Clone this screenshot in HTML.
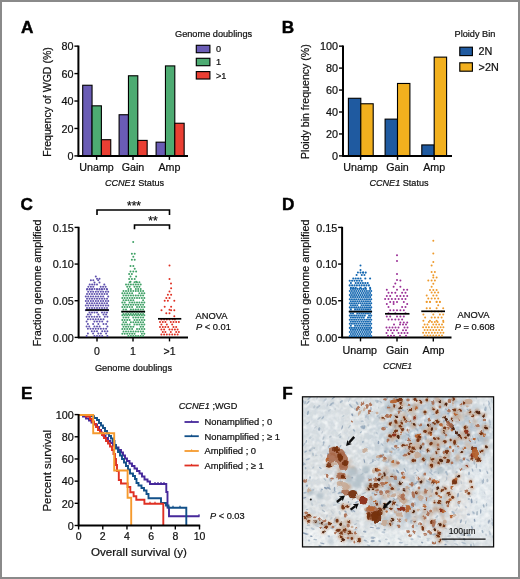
<!DOCTYPE html>
<html lang="en"><head><meta charset="utf-8"><title>Figure</title>
<style>html,body{margin:0;padding:0;background:#fff}svg{display:block}text{font-family:"Liberation Sans",Arial,Helvetica,sans-serif;stroke:#111;stroke-width:.22px}text.L{stroke:#000;stroke-width:.45px}</style></head>
<body>
<svg width="520" height="579" viewBox="0 0 520 579" font-family='"Liberation Sans", Arial, Helvetica, sans-serif'>
<rect x="0" y="0" width="520" height="579" fill="#fff"/>
<text x="21.00" y="33.30" font-size="17.2" text-anchor="start" font-weight="bold" font-style="normal" fill="#000" class="L">A</text>
<rect x="82.70" y="85.25" width="9.35" height="70.65" fill="#6a5cb5" stroke="#000" stroke-width="1.1"/>
<rect x="92.05" y="105.83" width="9.35" height="50.07" fill="#4dab72" stroke="#000" stroke-width="1.1"/>
<rect x="101.40" y="139.71" width="9.35" height="16.19" fill="#ea3f33" stroke="#000" stroke-width="1.1"/>
<rect x="119.10" y="114.74" width="9.35" height="41.16" fill="#6a5cb5" stroke="#000" stroke-width="1.1"/>
<rect x="128.45" y="75.78" width="9.35" height="80.12" fill="#4dab72" stroke="#000" stroke-width="1.1"/>
<rect x="137.80" y="140.40" width="9.35" height="15.50" fill="#ea3f33" stroke="#000" stroke-width="1.1"/>
<rect x="156.10" y="142.18" width="9.35" height="13.72" fill="#6a5cb5" stroke="#000" stroke-width="1.1"/>
<rect x="165.45" y="65.91" width="9.35" height="89.99" fill="#4dab72" stroke="#000" stroke-width="1.1"/>
<rect x="174.80" y="123.25" width="9.35" height="32.65" fill="#ea3f33" stroke="#000" stroke-width="1.1"/>
<line x1="78.40" y1="45.55" x2="78.40" y2="156.60" stroke="#000" stroke-width="2.0" stroke-linecap="butt"/>
<line x1="77.70" y1="155.90" x2="188.00" y2="155.90" stroke="#000" stroke-width="2.0" stroke-linecap="butt"/>
<line x1="74.40" y1="155.90" x2="78.40" y2="155.90" stroke="#000" stroke-width="1.4" stroke-linecap="butt"/>
<text x="73.50" y="160.10" font-size="10.8" text-anchor="end" font-weight="normal" font-style="normal" fill="#111" >0</text>
<line x1="74.40" y1="128.46" x2="78.40" y2="128.46" stroke="#000" stroke-width="1.4" stroke-linecap="butt"/>
<text x="73.50" y="132.66" font-size="10.8" text-anchor="end" font-weight="normal" font-style="normal" fill="#111" >20</text>
<line x1="74.40" y1="101.03" x2="78.40" y2="101.03" stroke="#000" stroke-width="1.4" stroke-linecap="butt"/>
<text x="73.50" y="105.23" font-size="10.8" text-anchor="end" font-weight="normal" font-style="normal" fill="#111" >40</text>
<line x1="74.40" y1="73.59" x2="78.40" y2="73.59" stroke="#000" stroke-width="1.4" stroke-linecap="butt"/>
<text x="73.50" y="77.79" font-size="10.8" text-anchor="end" font-weight="normal" font-style="normal" fill="#111" >60</text>
<line x1="74.40" y1="46.15" x2="78.40" y2="46.15" stroke="#000" stroke-width="1.4" stroke-linecap="butt"/>
<text x="73.50" y="50.35" font-size="10.8" text-anchor="end" font-weight="normal" font-style="normal" fill="#111" >80</text>
<line x1="96.60" y1="155.90" x2="96.60" y2="159.90" stroke="#000" stroke-width="1.4" stroke-linecap="butt"/>
<text x="96.60" y="170.60" font-size="10.7" text-anchor="middle" font-weight="normal" font-style="normal" fill="#111" >Unamp</text>
<line x1="133.00" y1="155.90" x2="133.00" y2="159.90" stroke="#000" stroke-width="1.4" stroke-linecap="butt"/>
<text x="133.00" y="170.60" font-size="10.7" text-anchor="middle" font-weight="normal" font-style="normal" fill="#111" >Gain</text>
<line x1="169.40" y1="155.90" x2="169.40" y2="159.90" stroke="#000" stroke-width="1.4" stroke-linecap="butt"/>
<text x="169.40" y="170.60" font-size="10.7" text-anchor="middle" font-weight="normal" font-style="normal" fill="#111" >Amp</text>
<text x="134.5" y="185.7" font-size="9.1" text-anchor="middle" fill="#111"><tspan font-style="italic">CCNE1</tspan> Status</text>
<text transform="translate(50.80,102.00) rotate(-90)" font-size="10.7" text-anchor="middle" fill="#111" textLength="109.6" lengthAdjust="spacingAndGlyphs">Frequency of WGD (%)</text>
<text x="175.00" y="37.00" font-size="9.2" text-anchor="start" font-weight="normal" font-style="normal" fill="#111" >Genome doublings</text>
<rect x="196.30" y="45.30" width="13.60" height="7.40" fill="#6a5cb5" stroke="#000" stroke-width="1.15"/>
<text x="216.00" y="52.30" font-size="9.2" text-anchor="start" font-weight="normal" font-style="normal" fill="#111" >0</text>
<rect x="196.30" y="58.30" width="13.60" height="7.40" fill="#4dab72" stroke="#000" stroke-width="1.15"/>
<text x="216.00" y="65.30" font-size="9.2" text-anchor="start" font-weight="normal" font-style="normal" fill="#111" >1</text>
<rect x="196.30" y="71.60" width="13.60" height="7.40" fill="#ea3f33" stroke="#000" stroke-width="1.15"/>
<text x="216.00" y="78.60" font-size="9.2" text-anchor="start" font-weight="normal" font-style="normal" fill="#111" >&gt;1</text>
<text x="281.70" y="33.10" font-size="17.2" text-anchor="start" font-weight="bold" font-style="normal" fill="#000" class="L">B</text>
<rect x="348.40" y="98.28" width="12.40" height="57.62" fill="#1f5aa0" stroke="#000" stroke-width="1.1"/>
<rect x="360.80" y="103.77" width="12.40" height="52.13" fill="#f2b01e" stroke="#000" stroke-width="1.1"/>
<rect x="385.10" y="119.13" width="12.40" height="36.77" fill="#1f5aa0" stroke="#000" stroke-width="1.1"/>
<rect x="397.50" y="83.47" width="12.40" height="72.43" fill="#f2b01e" stroke="#000" stroke-width="1.1"/>
<rect x="421.80" y="144.93" width="12.40" height="10.97" fill="#1f5aa0" stroke="#000" stroke-width="1.1"/>
<rect x="434.20" y="57.13" width="12.40" height="98.77" fill="#f2b01e" stroke="#000" stroke-width="1.1"/>
<line x1="343.00" y1="45.55" x2="343.00" y2="156.60" stroke="#000" stroke-width="2.0" stroke-linecap="butt"/>
<line x1="342.30" y1="155.90" x2="452.00" y2="155.90" stroke="#000" stroke-width="2.0" stroke-linecap="butt"/>
<line x1="339.00" y1="155.90" x2="343.00" y2="155.90" stroke="#000" stroke-width="1.4" stroke-linecap="butt"/>
<text x="338.10" y="160.10" font-size="10.8" text-anchor="end" font-weight="normal" font-style="normal" fill="#111" >0</text>
<line x1="339.00" y1="133.95" x2="343.00" y2="133.95" stroke="#000" stroke-width="1.4" stroke-linecap="butt"/>
<text x="338.10" y="138.15" font-size="10.8" text-anchor="end" font-weight="normal" font-style="normal" fill="#111" >20</text>
<line x1="339.00" y1="112.00" x2="343.00" y2="112.00" stroke="#000" stroke-width="1.4" stroke-linecap="butt"/>
<text x="338.10" y="116.20" font-size="10.8" text-anchor="end" font-weight="normal" font-style="normal" fill="#111" >40</text>
<line x1="339.00" y1="90.05" x2="343.00" y2="90.05" stroke="#000" stroke-width="1.4" stroke-linecap="butt"/>
<text x="338.10" y="94.25" font-size="10.8" text-anchor="end" font-weight="normal" font-style="normal" fill="#111" >60</text>
<line x1="339.00" y1="68.10" x2="343.00" y2="68.10" stroke="#000" stroke-width="1.4" stroke-linecap="butt"/>
<text x="338.10" y="72.30" font-size="10.8" text-anchor="end" font-weight="normal" font-style="normal" fill="#111" >80</text>
<line x1="339.00" y1="46.15" x2="343.00" y2="46.15" stroke="#000" stroke-width="1.4" stroke-linecap="butt"/>
<text x="338.10" y="50.35" font-size="10.8" text-anchor="end" font-weight="normal" font-style="normal" fill="#111" >100</text>
<line x1="360.60" y1="155.90" x2="360.60" y2="159.90" stroke="#000" stroke-width="1.4" stroke-linecap="butt"/>
<text x="360.60" y="170.60" font-size="10.7" text-anchor="middle" font-weight="normal" font-style="normal" fill="#111" >Unamp</text>
<line x1="397.50" y1="155.90" x2="397.50" y2="159.90" stroke="#000" stroke-width="1.4" stroke-linecap="butt"/>
<text x="397.50" y="170.60" font-size="10.7" text-anchor="middle" font-weight="normal" font-style="normal" fill="#111" >Gain</text>
<line x1="434.20" y1="155.90" x2="434.20" y2="159.90" stroke="#000" stroke-width="1.4" stroke-linecap="butt"/>
<text x="434.20" y="170.60" font-size="10.7" text-anchor="middle" font-weight="normal" font-style="normal" fill="#111" >Amp</text>
<text x="399" y="185.7" font-size="9.1" text-anchor="middle" fill="#111"><tspan font-style="italic">CCNE1</tspan> Status</text>
<text transform="translate(308.60,101.60) rotate(-90)" font-size="10.6" text-anchor="middle" fill="#111" textLength="114.8" lengthAdjust="spacingAndGlyphs">Ploidy bin frequency (%)</text>
<text x="454.50" y="37.00" font-size="9.2" text-anchor="start" font-weight="normal" font-style="normal" fill="#111" >Ploidy Bin</text>
<rect x="459.80" y="47.20" width="12.60" height="8.40" fill="#1f5aa0" stroke="#000" stroke-width="1.15"/>
<text x="478.60" y="55.40" font-size="10.8" text-anchor="start" font-weight="normal" font-style="normal" fill="#111" >2N</text>
<rect x="459.80" y="62.80" width="12.60" height="8.40" fill="#f2b01e" stroke="#000" stroke-width="1.15"/>
<text x="478.60" y="71.00" font-size="10.8" text-anchor="start" font-weight="normal" font-style="normal" fill="#111" >&gt;2N</text>
<text x="20.60" y="210.20" font-size="17.2" text-anchor="start" font-weight="bold" font-style="normal" fill="#000" class="L">C</text>
<line x1="78.60" y1="226.80" x2="78.60" y2="338.10" stroke="#000" stroke-width="2.0" stroke-linecap="butt"/>
<line x1="77.90" y1="337.40" x2="188.00" y2="337.40" stroke="#000" stroke-width="2.0" stroke-linecap="butt"/>
<line x1="74.60" y1="337.40" x2="78.60" y2="337.40" stroke="#000" stroke-width="1.4" stroke-linecap="butt"/>
<text x="73.70" y="341.60" font-size="10.8" text-anchor="end" font-weight="normal" font-style="normal" fill="#111" >0.00</text>
<line x1="74.60" y1="300.73" x2="78.60" y2="300.73" stroke="#000" stroke-width="1.4" stroke-linecap="butt"/>
<text x="73.70" y="304.93" font-size="10.8" text-anchor="end" font-weight="normal" font-style="normal" fill="#111" >0.05</text>
<line x1="74.60" y1="264.07" x2="78.60" y2="264.07" stroke="#000" stroke-width="1.4" stroke-linecap="butt"/>
<text x="73.70" y="268.27" font-size="10.8" text-anchor="end" font-weight="normal" font-style="normal" fill="#111" >0.10</text>
<line x1="74.60" y1="227.40" x2="78.60" y2="227.40" stroke="#000" stroke-width="1.4" stroke-linecap="butt"/>
<text x="73.70" y="231.60" font-size="10.8" text-anchor="end" font-weight="normal" font-style="normal" fill="#111" >0.15</text>
<g fill="#5e50ad">
<circle cx="86.6" cy="336.0" r="1.0"/><circle cx="94.4" cy="336.0" r="1.0"/><circle cx="97.0" cy="336.0" r="1.0"/><circle cx="99.6" cy="336.0" r="1.0"/><circle cx="102.2" cy="336.0" r="1.0"/><circle cx="107.4" cy="336.0" r="1.0"/><circle cx="87.9" cy="333.6" r="1.0"/><circle cx="93.1" cy="333.6" r="1.0"/><circle cx="98.3" cy="333.6" r="1.0"/><circle cx="100.9" cy="333.6" r="1.0"/><circle cx="106.1" cy="333.6" r="1.0"/><circle cx="91.8" cy="331.2" r="1.0"/><circle cx="94.4" cy="331.2" r="1.0"/><circle cx="97.0" cy="331.2" r="1.0"/><circle cx="102.2" cy="331.2" r="1.0"/><circle cx="104.8" cy="331.2" r="1.0"/><circle cx="107.4" cy="331.2" r="1.0"/><circle cx="87.9" cy="328.8" r="1.0"/><circle cx="90.5" cy="328.8" r="1.0"/><circle cx="93.1" cy="328.8" r="1.0"/><circle cx="95.7" cy="328.8" r="1.0"/><circle cx="98.3" cy="328.8" r="1.0"/><circle cx="100.9" cy="328.8" r="1.0"/><circle cx="103.5" cy="328.8" r="1.0"/><circle cx="106.1" cy="328.8" r="1.0"/><circle cx="86.6" cy="326.4" r="1.0"/><circle cx="89.2" cy="326.4" r="1.0"/><circle cx="94.4" cy="326.4" r="1.0"/><circle cx="97.0" cy="326.4" r="1.0"/><circle cx="99.6" cy="326.4" r="1.0"/><circle cx="107.4" cy="326.4" r="1.0"/><circle cx="87.9" cy="324.0" r="1.0"/><circle cx="93.1" cy="324.0" r="1.0"/><circle cx="98.3" cy="324.0" r="1.0"/><circle cx="103.5" cy="324.0" r="1.0"/><circle cx="106.1" cy="324.0" r="1.0"/><circle cx="86.6" cy="321.6" r="1.0"/><circle cx="94.4" cy="321.6" r="1.0"/><circle cx="97.0" cy="321.6" r="1.0"/><circle cx="99.6" cy="321.6" r="1.0"/><circle cx="102.2" cy="321.6" r="1.0"/><circle cx="107.4" cy="321.6" r="1.0"/><circle cx="87.9" cy="319.2" r="1.0"/><circle cx="90.5" cy="319.2" r="1.0"/><circle cx="93.1" cy="319.2" r="1.0"/><circle cx="95.7" cy="319.2" r="1.0"/><circle cx="98.3" cy="319.2" r="1.0"/><circle cx="100.9" cy="319.2" r="1.0"/><circle cx="103.5" cy="319.2" r="1.0"/><circle cx="86.6" cy="316.8" r="1.0"/><circle cx="89.2" cy="316.8" r="1.0"/><circle cx="91.8" cy="316.8" r="1.0"/><circle cx="94.4" cy="316.8" r="1.0"/><circle cx="97.0" cy="316.8" r="1.0"/><circle cx="99.6" cy="316.8" r="1.0"/><circle cx="104.8" cy="316.8" r="1.0"/><circle cx="107.4" cy="316.8" r="1.0"/><circle cx="87.9" cy="314.4" r="1.0"/><circle cx="90.5" cy="314.4" r="1.0"/><circle cx="98.3" cy="314.4" r="1.0"/><circle cx="103.5" cy="314.4" r="1.0"/><circle cx="106.1" cy="314.4" r="1.0"/><circle cx="89.5" cy="312.5" r="1.0"/><circle cx="92.0" cy="312.5" r="1.0"/><circle cx="94.5" cy="312.5" r="1.0"/><circle cx="97.0" cy="312.5" r="1.0"/><circle cx="102.0" cy="312.5" r="1.0"/><circle cx="104.5" cy="312.5" r="1.0"/><circle cx="107.0" cy="312.5" r="1.0"/><circle cx="85.8" cy="310.2" r="1.0"/><circle cx="88.2" cy="310.2" r="1.0"/><circle cx="90.8" cy="310.2" r="1.0"/><circle cx="93.2" cy="310.2" r="1.0"/><circle cx="95.8" cy="310.2" r="1.0"/><circle cx="98.2" cy="310.2" r="1.0"/><circle cx="100.8" cy="310.2" r="1.0"/><circle cx="103.2" cy="310.2" r="1.0"/><circle cx="105.8" cy="310.2" r="1.0"/><circle cx="108.2" cy="310.2" r="1.0"/><circle cx="87.0" cy="307.9" r="1.0"/><circle cx="89.5" cy="307.9" r="1.0"/><circle cx="92.0" cy="307.9" r="1.0"/><circle cx="94.5" cy="307.9" r="1.0"/><circle cx="97.0" cy="307.9" r="1.0"/><circle cx="99.5" cy="307.9" r="1.0"/><circle cx="102.0" cy="307.9" r="1.0"/><circle cx="104.5" cy="307.9" r="1.0"/><circle cx="107.0" cy="307.9" r="1.0"/><circle cx="85.8" cy="305.6" r="1.0"/><circle cx="88.2" cy="305.6" r="1.0"/><circle cx="90.8" cy="305.6" r="1.0"/><circle cx="93.2" cy="305.6" r="1.0"/><circle cx="95.8" cy="305.6" r="1.0"/><circle cx="98.2" cy="305.6" r="1.0"/><circle cx="100.8" cy="305.6" r="1.0"/><circle cx="103.2" cy="305.6" r="1.0"/><circle cx="105.8" cy="305.6" r="1.0"/><circle cx="108.2" cy="305.6" r="1.0"/><circle cx="87.0" cy="303.3" r="1.0"/><circle cx="89.5" cy="303.3" r="1.0"/><circle cx="92.0" cy="303.3" r="1.0"/><circle cx="94.5" cy="303.3" r="1.0"/><circle cx="97.0" cy="303.3" r="1.0"/><circle cx="99.5" cy="303.3" r="1.0"/><circle cx="102.0" cy="303.3" r="1.0"/><circle cx="104.5" cy="303.3" r="1.0"/><circle cx="107.0" cy="303.3" r="1.0"/><circle cx="85.8" cy="301.0" r="1.0"/><circle cx="88.2" cy="301.0" r="1.0"/><circle cx="90.8" cy="301.0" r="1.0"/><circle cx="93.2" cy="301.0" r="1.0"/><circle cx="95.8" cy="301.0" r="1.0"/><circle cx="98.2" cy="301.0" r="1.0"/><circle cx="100.8" cy="301.0" r="1.0"/><circle cx="103.2" cy="301.0" r="1.0"/><circle cx="105.8" cy="301.0" r="1.0"/><circle cx="108.2" cy="301.0" r="1.0"/><circle cx="87.0" cy="298.7" r="1.0"/><circle cx="89.5" cy="298.7" r="1.0"/><circle cx="92.0" cy="298.7" r="1.0"/><circle cx="94.5" cy="298.7" r="1.0"/><circle cx="97.0" cy="298.7" r="1.0"/><circle cx="99.5" cy="298.7" r="1.0"/><circle cx="102.0" cy="298.7" r="1.0"/><circle cx="104.5" cy="298.7" r="1.0"/><circle cx="107.0" cy="298.7" r="1.0"/><circle cx="85.8" cy="296.4" r="1.0"/><circle cx="88.2" cy="296.4" r="1.0"/><circle cx="90.8" cy="296.4" r="1.0"/><circle cx="93.2" cy="296.4" r="1.0"/><circle cx="95.8" cy="296.4" r="1.0"/><circle cx="98.2" cy="296.4" r="1.0"/><circle cx="100.8" cy="296.4" r="1.0"/><circle cx="103.2" cy="296.4" r="1.0"/><circle cx="108.2" cy="296.4" r="1.0"/><circle cx="87.0" cy="294.1" r="1.0"/><circle cx="89.5" cy="294.1" r="1.0"/><circle cx="92.0" cy="294.1" r="1.0"/><circle cx="94.5" cy="294.1" r="1.0"/><circle cx="97.0" cy="294.1" r="1.0"/><circle cx="99.5" cy="294.1" r="1.0"/><circle cx="102.0" cy="294.1" r="1.0"/><circle cx="104.5" cy="294.1" r="1.0"/><circle cx="107.0" cy="294.1" r="1.0"/><circle cx="88.2" cy="291.8" r="1.0"/><circle cx="90.8" cy="291.8" r="1.0"/><circle cx="93.2" cy="291.8" r="1.0"/><circle cx="95.8" cy="291.8" r="1.0"/><circle cx="98.2" cy="291.8" r="1.0"/><circle cx="100.8" cy="291.8" r="1.0"/><circle cx="103.2" cy="291.8" r="1.0"/><circle cx="105.8" cy="291.8" r="1.0"/><circle cx="108.2" cy="291.8" r="1.0"/><circle cx="87.0" cy="289.5" r="1.0"/><circle cx="89.5" cy="289.5" r="1.0"/><circle cx="92.0" cy="289.5" r="1.0"/><circle cx="97.0" cy="289.5" r="1.0"/><circle cx="99.5" cy="289.5" r="1.0"/><circle cx="102.0" cy="289.5" r="1.0"/><circle cx="107.0" cy="289.5" r="1.0"/><circle cx="87.2" cy="289.1" r="1.0"/><circle cx="89.7" cy="289.1" r="1.0"/><circle cx="92.1" cy="289.1" r="1.0"/><circle cx="94.5" cy="289.1" r="1.0"/><circle cx="97.0" cy="289.1" r="1.0"/><circle cx="99.5" cy="289.1" r="1.0"/><circle cx="101.9" cy="289.1" r="1.0"/><circle cx="104.3" cy="289.1" r="1.0"/><circle cx="106.8" cy="289.1" r="1.0"/><circle cx="88.4" cy="286.8" r="1.0"/><circle cx="90.9" cy="286.8" r="1.0"/><circle cx="93.3" cy="286.8" r="1.0"/><circle cx="100.7" cy="286.8" r="1.0"/><circle cx="103.1" cy="286.8" r="1.0"/><circle cx="105.6" cy="286.8" r="1.0"/><circle cx="89.7" cy="284.5" r="1.0"/><circle cx="92.1" cy="284.5" r="1.0"/><circle cx="94.5" cy="284.5" r="1.0"/><circle cx="97.0" cy="284.5" r="1.0"/><circle cx="104.3" cy="284.5" r="1.0"/><circle cx="94.5" cy="282.5" r="1.0"/><circle cx="99.5" cy="282.5" r="1.0"/><circle cx="90.9" cy="280.2" r="1.0"/><circle cx="93.3" cy="280.2" r="1.0"/><circle cx="98.2" cy="280.2" r="1.0"/><circle cx="97.0" cy="278.8" r="1.0"/><circle cx="99.5" cy="278.8" r="1.0"/><circle cx="95.8" cy="276.5" r="1.0"/>
</g>
<g fill="#3fa166">
<circle cx="128.4" cy="336.0" r="1.0"/><circle cx="130.9" cy="336.0" r="1.0"/><circle cx="133.3" cy="336.0" r="1.0"/><circle cx="135.8" cy="336.0" r="1.0"/><circle cx="138.2" cy="336.0" r="1.0"/><circle cx="140.7" cy="336.0" r="1.0"/><circle cx="143.1" cy="336.0" r="1.0"/><circle cx="122.3" cy="333.7" r="1.0"/><circle cx="124.7" cy="333.7" r="1.0"/><circle cx="127.2" cy="333.7" r="1.0"/><circle cx="129.6" cy="333.7" r="1.0"/><circle cx="132.1" cy="333.7" r="1.0"/><circle cx="134.5" cy="333.7" r="1.0"/><circle cx="141.9" cy="333.7" r="1.0"/><circle cx="144.3" cy="333.7" r="1.0"/><circle cx="123.5" cy="331.4" r="1.0"/><circle cx="126.0" cy="331.4" r="1.0"/><circle cx="128.4" cy="331.4" r="1.0"/><circle cx="130.9" cy="331.4" r="1.0"/><circle cx="133.3" cy="331.4" r="1.0"/><circle cx="135.8" cy="331.4" r="1.0"/><circle cx="138.2" cy="331.4" r="1.0"/><circle cx="140.7" cy="331.4" r="1.0"/><circle cx="143.1" cy="331.4" r="1.0"/><circle cx="122.3" cy="329.1" r="1.0"/><circle cx="124.7" cy="329.1" r="1.0"/><circle cx="127.2" cy="329.1" r="1.0"/><circle cx="129.6" cy="329.1" r="1.0"/><circle cx="132.1" cy="329.1" r="1.0"/><circle cx="137.0" cy="329.1" r="1.0"/><circle cx="139.4" cy="329.1" r="1.0"/><circle cx="141.9" cy="329.1" r="1.0"/><circle cx="144.3" cy="329.1" r="1.0"/><circle cx="123.5" cy="326.8" r="1.0"/><circle cx="126.0" cy="326.8" r="1.0"/><circle cx="128.4" cy="326.8" r="1.0"/><circle cx="130.9" cy="326.8" r="1.0"/><circle cx="133.3" cy="326.8" r="1.0"/><circle cx="140.7" cy="326.8" r="1.0"/><circle cx="143.1" cy="326.8" r="1.0"/><circle cx="122.3" cy="324.5" r="1.0"/><circle cx="124.7" cy="324.5" r="1.0"/><circle cx="127.2" cy="324.5" r="1.0"/><circle cx="129.6" cy="324.5" r="1.0"/><circle cx="134.5" cy="324.5" r="1.0"/><circle cx="137.0" cy="324.5" r="1.0"/><circle cx="139.4" cy="324.5" r="1.0"/><circle cx="141.9" cy="324.5" r="1.0"/><circle cx="144.3" cy="324.5" r="1.0"/><circle cx="123.5" cy="322.2" r="1.0"/><circle cx="126.0" cy="322.2" r="1.0"/><circle cx="130.9" cy="322.2" r="1.0"/><circle cx="133.3" cy="322.2" r="1.0"/><circle cx="135.8" cy="322.2" r="1.0"/><circle cx="138.2" cy="322.2" r="1.0"/><circle cx="140.7" cy="322.2" r="1.0"/><circle cx="143.1" cy="322.2" r="1.0"/><circle cx="122.3" cy="319.9" r="1.0"/><circle cx="124.7" cy="319.9" r="1.0"/><circle cx="127.2" cy="319.9" r="1.0"/><circle cx="129.6" cy="319.9" r="1.0"/><circle cx="134.5" cy="319.9" r="1.0"/><circle cx="137.0" cy="319.9" r="1.0"/><circle cx="139.4" cy="319.9" r="1.0"/><circle cx="141.9" cy="319.9" r="1.0"/><circle cx="144.3" cy="319.9" r="1.0"/><circle cx="123.5" cy="317.6" r="1.0"/><circle cx="126.0" cy="317.6" r="1.0"/><circle cx="128.4" cy="317.6" r="1.0"/><circle cx="133.3" cy="317.6" r="1.0"/><circle cx="135.8" cy="317.6" r="1.0"/><circle cx="138.2" cy="317.6" r="1.0"/><circle cx="140.7" cy="317.6" r="1.0"/><circle cx="143.1" cy="317.6" r="1.0"/><circle cx="122.3" cy="315.3" r="1.0"/><circle cx="124.7" cy="315.3" r="1.0"/><circle cx="127.2" cy="315.3" r="1.0"/><circle cx="129.6" cy="315.3" r="1.0"/><circle cx="132.1" cy="315.3" r="1.0"/><circle cx="134.5" cy="315.3" r="1.0"/><circle cx="137.0" cy="315.3" r="1.0"/><circle cx="139.4" cy="315.3" r="1.0"/><circle cx="141.9" cy="315.3" r="1.0"/><circle cx="144.3" cy="315.3" r="1.0"/><circle cx="123.5" cy="314.0" r="1.0"/><circle cx="126.0" cy="314.0" r="1.0"/><circle cx="128.4" cy="314.0" r="1.0"/><circle cx="130.9" cy="314.0" r="1.0"/><circle cx="133.3" cy="314.0" r="1.0"/><circle cx="135.8" cy="314.0" r="1.0"/><circle cx="138.2" cy="314.0" r="1.0"/><circle cx="140.7" cy="314.0" r="1.0"/><circle cx="143.1" cy="314.0" r="1.0"/><circle cx="122.3" cy="311.7" r="1.0"/><circle cx="127.2" cy="311.7" r="1.0"/><circle cx="129.6" cy="311.7" r="1.0"/><circle cx="132.1" cy="311.7" r="1.0"/><circle cx="134.5" cy="311.7" r="1.0"/><circle cx="137.0" cy="311.7" r="1.0"/><circle cx="139.4" cy="311.7" r="1.0"/><circle cx="141.9" cy="311.7" r="1.0"/><circle cx="144.3" cy="311.7" r="1.0"/><circle cx="123.5" cy="309.4" r="1.0"/><circle cx="126.0" cy="309.4" r="1.0"/><circle cx="130.9" cy="309.4" r="1.0"/><circle cx="133.3" cy="309.4" r="1.0"/><circle cx="135.8" cy="309.4" r="1.0"/><circle cx="138.2" cy="309.4" r="1.0"/><circle cx="140.7" cy="309.4" r="1.0"/><circle cx="143.1" cy="309.4" r="1.0"/><circle cx="122.3" cy="307.1" r="1.0"/><circle cx="124.7" cy="307.1" r="1.0"/><circle cx="127.2" cy="307.1" r="1.0"/><circle cx="129.6" cy="307.1" r="1.0"/><circle cx="132.1" cy="307.1" r="1.0"/><circle cx="137.0" cy="307.1" r="1.0"/><circle cx="139.4" cy="307.1" r="1.0"/><circle cx="141.9" cy="307.1" r="1.0"/><circle cx="144.3" cy="307.1" r="1.0"/><circle cx="123.5" cy="304.8" r="1.0"/><circle cx="126.0" cy="304.8" r="1.0"/><circle cx="128.4" cy="304.8" r="1.0"/><circle cx="130.9" cy="304.8" r="1.0"/><circle cx="133.3" cy="304.8" r="1.0"/><circle cx="135.8" cy="304.8" r="1.0"/><circle cx="138.2" cy="304.8" r="1.0"/><circle cx="140.7" cy="304.8" r="1.0"/><circle cx="143.1" cy="304.8" r="1.0"/><circle cx="122.3" cy="302.5" r="1.0"/><circle cx="124.7" cy="302.5" r="1.0"/><circle cx="129.6" cy="302.5" r="1.0"/><circle cx="132.1" cy="302.5" r="1.0"/><circle cx="134.5" cy="302.5" r="1.0"/><circle cx="137.0" cy="302.5" r="1.0"/><circle cx="139.4" cy="302.5" r="1.0"/><circle cx="141.9" cy="302.5" r="1.0"/><circle cx="144.3" cy="302.5" r="1.0"/><circle cx="123.5" cy="300.2" r="1.0"/><circle cx="126.0" cy="300.2" r="1.0"/><circle cx="128.4" cy="300.2" r="1.0"/><circle cx="130.9" cy="300.2" r="1.0"/><circle cx="133.3" cy="300.2" r="1.0"/><circle cx="143.1" cy="300.2" r="1.0"/><circle cx="122.3" cy="297.9" r="1.0"/><circle cx="124.7" cy="297.9" r="1.0"/><circle cx="127.2" cy="297.9" r="1.0"/><circle cx="129.6" cy="297.9" r="1.0"/><circle cx="132.1" cy="297.9" r="1.0"/><circle cx="134.5" cy="297.9" r="1.0"/><circle cx="137.0" cy="297.9" r="1.0"/><circle cx="139.4" cy="297.9" r="1.0"/><circle cx="141.9" cy="297.9" r="1.0"/><circle cx="144.3" cy="297.9" r="1.0"/><circle cx="123.5" cy="295.6" r="1.0"/><circle cx="126.0" cy="295.6" r="1.0"/><circle cx="128.4" cy="295.6" r="1.0"/><circle cx="130.9" cy="295.6" r="1.0"/><circle cx="133.3" cy="295.6" r="1.0"/><circle cx="135.8" cy="295.6" r="1.0"/><circle cx="138.2" cy="295.6" r="1.0"/><circle cx="140.7" cy="295.6" r="1.0"/><circle cx="143.1" cy="295.6" r="1.0"/><circle cx="122.3" cy="293.3" r="1.0"/><circle cx="124.7" cy="293.3" r="1.0"/><circle cx="127.2" cy="293.3" r="1.0"/><circle cx="129.6" cy="293.3" r="1.0"/><circle cx="132.1" cy="293.3" r="1.0"/><circle cx="139.4" cy="293.3" r="1.0"/><circle cx="141.9" cy="293.3" r="1.0"/><circle cx="144.3" cy="293.3" r="1.0"/><circle cx="123.5" cy="291.0" r="1.0"/><circle cx="126.0" cy="291.0" r="1.0"/><circle cx="128.4" cy="291.0" r="1.0"/><circle cx="130.9" cy="291.0" r="1.0"/><circle cx="133.3" cy="291.0" r="1.0"/><circle cx="135.8" cy="291.0" r="1.0"/><circle cx="138.2" cy="291.0" r="1.0"/><circle cx="140.7" cy="291.0" r="1.0"/><circle cx="143.1" cy="291.0" r="1.0"/><circle cx="128.4" cy="289.1" r="1.0"/><circle cx="130.9" cy="289.1" r="1.0"/><circle cx="135.8" cy="289.1" r="1.0"/><circle cx="138.2" cy="289.1" r="1.0"/><circle cx="140.7" cy="289.1" r="1.0"/><circle cx="127.2" cy="286.8" r="1.0"/><circle cx="129.6" cy="286.8" r="1.0"/><circle cx="134.5" cy="286.8" r="1.0"/><circle cx="137.0" cy="286.8" r="1.0"/><circle cx="139.4" cy="286.8" r="1.0"/><circle cx="126.0" cy="284.5" r="1.0"/><circle cx="128.4" cy="284.5" r="1.0"/><circle cx="130.9" cy="284.5" r="1.0"/><circle cx="133.3" cy="284.5" r="1.0"/><circle cx="135.8" cy="284.5" r="1.0"/><circle cx="138.2" cy="284.5" r="1.0"/><circle cx="140.7" cy="284.5" r="1.0"/><circle cx="129.6" cy="282.2" r="1.0"/><circle cx="134.5" cy="282.2" r="1.0"/><circle cx="137.0" cy="282.2" r="1.0"/><circle cx="139.4" cy="282.2" r="1.0"/><circle cx="130.5" cy="281.7" r="1.0"/><circle cx="136.1" cy="281.7" r="1.0"/><circle cx="129.1" cy="279.1" r="1.0"/><circle cx="131.9" cy="279.1" r="1.0"/><circle cx="134.7" cy="279.1" r="1.0"/><circle cx="130.5" cy="276.5" r="1.0"/><circle cx="136.1" cy="276.5" r="1.0"/><circle cx="129.1" cy="273.9" r="1.0"/><circle cx="131.9" cy="273.9" r="1.0"/><circle cx="130.5" cy="271.5" r="1.0"/><circle cx="133.3" cy="271.5" r="1.0"/><circle cx="136.1" cy="271.5" r="1.0"/><circle cx="134.7" cy="268.7" r="1.0"/><circle cx="130.5" cy="265.9" r="1.0"/><circle cx="133.3" cy="265.9" r="1.0"/><circle cx="131.9" cy="259.7" r="1.0"/><circle cx="134.7" cy="259.7" r="1.0"/><circle cx="133.3" cy="256.7" r="1.0"/><circle cx="131.9" cy="253.7" r="1.0"/><circle cx="134.7" cy="253.7" r="1.0"/>
</g>
<circle cx="133.2" cy="242.1" r="1.0" fill="#3fa166"/>
<g fill="#df2f22">
<circle cx="161.4" cy="334.6" r="1.0"/><circle cx="164.1" cy="334.6" r="1.0"/><circle cx="166.8" cy="334.6" r="1.0"/><circle cx="169.5" cy="334.6" r="1.0"/><circle cx="172.2" cy="334.6" r="1.0"/><circle cx="174.9" cy="334.6" r="1.0"/><circle cx="177.6" cy="334.6" r="1.0"/><circle cx="162.8" cy="332.1" r="1.0"/><circle cx="165.4" cy="332.1" r="1.0"/><circle cx="170.8" cy="332.1" r="1.0"/><circle cx="176.2" cy="332.1" r="1.0"/><circle cx="178.9" cy="332.1" r="1.0"/><circle cx="161.4" cy="329.6" r="1.0"/><circle cx="164.1" cy="329.6" r="1.0"/><circle cx="169.5" cy="329.6" r="1.0"/><circle cx="172.2" cy="329.6" r="1.0"/><circle cx="174.9" cy="329.6" r="1.0"/><circle cx="177.6" cy="329.6" r="1.0"/><circle cx="160.0" cy="327.1" r="1.0"/><circle cx="162.8" cy="327.1" r="1.0"/><circle cx="165.4" cy="327.1" r="1.0"/><circle cx="168.2" cy="327.1" r="1.0"/><circle cx="173.5" cy="327.1" r="1.0"/><circle cx="176.2" cy="327.1" r="1.0"/><circle cx="161.4" cy="324.6" r="1.0"/><circle cx="166.8" cy="324.6" r="1.0"/><circle cx="172.2" cy="324.6" r="1.0"/><circle cx="160.0" cy="322.1" r="1.0"/><circle cx="162.8" cy="322.1" r="1.0"/><circle cx="165.4" cy="322.1" r="1.0"/><circle cx="170.8" cy="322.1" r="1.0"/><circle cx="173.5" cy="322.1" r="1.0"/><circle cx="176.2" cy="322.1" r="1.0"/><circle cx="178.9" cy="322.1" r="1.0"/><circle cx="161.4" cy="319.6" r="1.0"/><circle cx="164.1" cy="319.6" r="1.0"/><circle cx="166.8" cy="319.6" r="1.0"/><circle cx="169.5" cy="319.6" r="1.0"/><circle cx="174.9" cy="319.6" r="1.0"/><circle cx="172.7" cy="319.2" r="1.0"/><circle cx="174.3" cy="316.2" r="1.0"/><circle cx="166.3" cy="313.2" r="1.0"/><circle cx="169.5" cy="313.2" r="1.0"/><circle cx="161.5" cy="310.2" r="1.0"/><circle cx="171.1" cy="310.2" r="1.0"/><circle cx="174.3" cy="310.2" r="1.0"/><circle cx="169.5" cy="309.7" r="1.0"/><circle cx="164.7" cy="306.7" r="1.0"/><circle cx="171.1" cy="306.7" r="1.0"/><circle cx="164.7" cy="300.7" r="1.0"/><circle cx="167.9" cy="300.7" r="1.0"/><circle cx="174.3" cy="300.7" r="1.0"/><circle cx="166.3" cy="297.9" r="1.0"/><circle cx="169.5" cy="297.9" r="1.0"/><circle cx="167.9" cy="294.7" r="1.0"/><circle cx="171.1" cy="294.7" r="1.0"/><circle cx="169.5" cy="291.5" r="1.0"/><circle cx="171.1" cy="288.3" r="1.0"/>
</g>
<circle cx="169.5" cy="279.1" r="1.0" fill="#df2f22"/>
<circle cx="169.5" cy="265.5" r="1.0" fill="#df2f22"/>
<circle cx="171.0" cy="283.5" r="1.0" fill="#df2f22"/>
<line x1="85.50" y1="310.00" x2="108.80" y2="310.00" stroke="#000" stroke-width="1.7" stroke-linecap="butt"/>
<line x1="121.30" y1="311.60" x2="145.00" y2="311.60" stroke="#000" stroke-width="1.7" stroke-linecap="butt"/>
<line x1="158.00" y1="318.80" x2="181.30" y2="318.80" stroke="#000" stroke-width="1.7" stroke-linecap="butt"/>
<line x1="97.00" y1="337.40" x2="97.00" y2="341.40" stroke="#000" stroke-width="1.4" stroke-linecap="butt"/>
<text x="97.00" y="355.00" font-size="10.5" text-anchor="middle" font-weight="normal" font-style="normal" fill="#111" >0</text>
<line x1="133.00" y1="337.40" x2="133.00" y2="341.40" stroke="#000" stroke-width="1.4" stroke-linecap="butt"/>
<text x="133.00" y="355.00" font-size="10.5" text-anchor="middle" font-weight="normal" font-style="normal" fill="#111" >1</text>
<line x1="169.50" y1="337.40" x2="169.50" y2="341.40" stroke="#000" stroke-width="1.4" stroke-linecap="butt"/>
<text x="169.50" y="355.00" font-size="10.5" text-anchor="middle" font-weight="normal" font-style="normal" fill="#111" >&gt;1</text>
<text x="133.50" y="370.60" font-size="9.2" text-anchor="middle" font-weight="normal" font-style="normal" fill="#111" >Genome doublings</text>
<text transform="translate(41.40,283.00) rotate(-90)" font-size="10.8" text-anchor="middle" fill="#111" textLength="127" lengthAdjust="spacingAndGlyphs">Fraction genome amplified</text>
<path d="M97 215 V210 H169.5 V215" fill="none" stroke="#000" stroke-width="1.6"/>
<path d="M134.5 229.3 V225 H169.5 V229.3" fill="none" stroke="#000" stroke-width="1.6"/>
<text x="134.00" y="209.60" font-size="12" text-anchor="middle" font-weight="normal" font-style="normal" fill="#111" >***</text>
<text x="152.90" y="225.10" font-size="12" text-anchor="middle" font-weight="normal" font-style="normal" fill="#111" >**</text>
<text x="195.50" y="318.50" font-size="9.3" text-anchor="start" font-weight="normal" font-style="normal" fill="#111" >ANOVA</text>
<text x="196" y="329.7" font-size="9.3" fill="#111"><tspan font-style="italic">P</tspan> &lt; 0.01</text>
<text x="282.10" y="210.30" font-size="17.2" text-anchor="start" font-weight="bold" font-style="normal" fill="#000" class="L">D</text>
<line x1="342.10" y1="226.80" x2="342.10" y2="338.10" stroke="#000" stroke-width="2.0" stroke-linecap="butt"/>
<line x1="341.40" y1="337.40" x2="451.50" y2="337.40" stroke="#000" stroke-width="2.0" stroke-linecap="butt"/>
<line x1="338.10" y1="337.40" x2="342.10" y2="337.40" stroke="#000" stroke-width="1.4" stroke-linecap="butt"/>
<text x="337.20" y="341.60" font-size="10.8" text-anchor="end" font-weight="normal" font-style="normal" fill="#111" >0.00</text>
<line x1="338.10" y1="300.73" x2="342.10" y2="300.73" stroke="#000" stroke-width="1.4" stroke-linecap="butt"/>
<text x="337.20" y="304.93" font-size="10.8" text-anchor="end" font-weight="normal" font-style="normal" fill="#111" >0.05</text>
<line x1="338.10" y1="264.07" x2="342.10" y2="264.07" stroke="#000" stroke-width="1.4" stroke-linecap="butt"/>
<text x="337.20" y="268.27" font-size="10.8" text-anchor="end" font-weight="normal" font-style="normal" fill="#111" >0.10</text>
<line x1="338.10" y1="227.40" x2="342.10" y2="227.40" stroke="#000" stroke-width="1.4" stroke-linecap="butt"/>
<text x="337.20" y="231.60" font-size="10.8" text-anchor="end" font-weight="normal" font-style="normal" fill="#111" >0.15</text>
<g fill="#1266b0">
<circle cx="349.8" cy="336.1" r="1.05"/><circle cx="351.9" cy="336.1" r="1.05"/><circle cx="354.1" cy="336.1" r="1.05"/><circle cx="356.2" cy="336.1" r="1.05"/><circle cx="358.4" cy="336.1" r="1.05"/><circle cx="360.5" cy="336.1" r="1.05"/><circle cx="362.6" cy="336.1" r="1.05"/><circle cx="364.8" cy="336.1" r="1.05"/><circle cx="366.9" cy="336.1" r="1.05"/><circle cx="369.1" cy="336.1" r="1.05"/><circle cx="371.2" cy="336.1" r="1.05"/><circle cx="350.8" cy="334.0" r="1.05"/><circle cx="353.0" cy="334.0" r="1.05"/><circle cx="355.1" cy="334.0" r="1.05"/><circle cx="357.3" cy="334.0" r="1.05"/><circle cx="359.4" cy="334.0" r="1.05"/><circle cx="361.6" cy="334.0" r="1.05"/><circle cx="363.7" cy="334.0" r="1.05"/><circle cx="365.9" cy="334.0" r="1.05"/><circle cx="368.0" cy="334.0" r="1.05"/><circle cx="370.2" cy="334.0" r="1.05"/><circle cx="349.8" cy="332.0" r="1.05"/><circle cx="351.9" cy="332.0" r="1.05"/><circle cx="354.1" cy="332.0" r="1.05"/><circle cx="356.2" cy="332.0" r="1.05"/><circle cx="358.4" cy="332.0" r="1.05"/><circle cx="360.5" cy="332.0" r="1.05"/><circle cx="362.6" cy="332.0" r="1.05"/><circle cx="364.8" cy="332.0" r="1.05"/><circle cx="366.9" cy="332.0" r="1.05"/><circle cx="369.1" cy="332.0" r="1.05"/><circle cx="371.2" cy="332.0" r="1.05"/><circle cx="350.8" cy="329.9" r="1.05"/><circle cx="353.0" cy="329.9" r="1.05"/><circle cx="355.1" cy="329.9" r="1.05"/><circle cx="357.3" cy="329.9" r="1.05"/><circle cx="359.4" cy="329.9" r="1.05"/><circle cx="361.6" cy="329.9" r="1.05"/><circle cx="363.7" cy="329.9" r="1.05"/><circle cx="365.9" cy="329.9" r="1.05"/><circle cx="368.0" cy="329.9" r="1.05"/><circle cx="370.2" cy="329.9" r="1.05"/><circle cx="349.8" cy="327.9" r="1.05"/><circle cx="351.9" cy="327.9" r="1.05"/><circle cx="354.1" cy="327.9" r="1.05"/><circle cx="356.2" cy="327.9" r="1.05"/><circle cx="358.4" cy="327.9" r="1.05"/><circle cx="360.5" cy="327.9" r="1.05"/><circle cx="362.6" cy="327.9" r="1.05"/><circle cx="364.8" cy="327.9" r="1.05"/><circle cx="366.9" cy="327.9" r="1.05"/><circle cx="369.1" cy="327.9" r="1.05"/><circle cx="371.2" cy="327.9" r="1.05"/><circle cx="350.8" cy="325.8" r="1.05"/><circle cx="355.1" cy="325.8" r="1.05"/><circle cx="357.3" cy="325.8" r="1.05"/><circle cx="359.4" cy="325.8" r="1.05"/><circle cx="361.6" cy="325.8" r="1.05"/><circle cx="363.7" cy="325.8" r="1.05"/><circle cx="365.9" cy="325.8" r="1.05"/><circle cx="368.0" cy="325.8" r="1.05"/><circle cx="370.2" cy="325.8" r="1.05"/><circle cx="349.8" cy="323.8" r="1.05"/><circle cx="351.9" cy="323.8" r="1.05"/><circle cx="354.1" cy="323.8" r="1.05"/><circle cx="356.2" cy="323.8" r="1.05"/><circle cx="358.4" cy="323.8" r="1.05"/><circle cx="360.5" cy="323.8" r="1.05"/><circle cx="362.6" cy="323.8" r="1.05"/><circle cx="364.8" cy="323.8" r="1.05"/><circle cx="366.9" cy="323.8" r="1.05"/><circle cx="369.1" cy="323.8" r="1.05"/><circle cx="371.2" cy="323.8" r="1.05"/><circle cx="350.8" cy="321.7" r="1.05"/><circle cx="353.0" cy="321.7" r="1.05"/><circle cx="355.1" cy="321.7" r="1.05"/><circle cx="357.3" cy="321.7" r="1.05"/><circle cx="359.4" cy="321.7" r="1.05"/><circle cx="361.6" cy="321.7" r="1.05"/><circle cx="363.7" cy="321.7" r="1.05"/><circle cx="365.9" cy="321.7" r="1.05"/><circle cx="368.0" cy="321.7" r="1.05"/><circle cx="370.2" cy="321.7" r="1.05"/><circle cx="349.8" cy="319.7" r="1.05"/><circle cx="351.9" cy="319.7" r="1.05"/><circle cx="354.1" cy="319.7" r="1.05"/><circle cx="356.2" cy="319.7" r="1.05"/><circle cx="358.4" cy="319.7" r="1.05"/><circle cx="360.5" cy="319.7" r="1.05"/><circle cx="362.6" cy="319.7" r="1.05"/><circle cx="364.8" cy="319.7" r="1.05"/><circle cx="366.9" cy="319.7" r="1.05"/><circle cx="369.1" cy="319.7" r="1.05"/><circle cx="371.2" cy="319.7" r="1.05"/><circle cx="350.8" cy="317.6" r="1.05"/><circle cx="353.0" cy="317.6" r="1.05"/><circle cx="355.1" cy="317.6" r="1.05"/><circle cx="357.3" cy="317.6" r="1.05"/><circle cx="359.4" cy="317.6" r="1.05"/><circle cx="361.6" cy="317.6" r="1.05"/><circle cx="363.7" cy="317.6" r="1.05"/><circle cx="368.0" cy="317.6" r="1.05"/><circle cx="370.2" cy="317.6" r="1.05"/><circle cx="349.8" cy="315.6" r="1.05"/><circle cx="351.9" cy="315.6" r="1.05"/><circle cx="354.1" cy="315.6" r="1.05"/><circle cx="356.2" cy="315.6" r="1.05"/><circle cx="358.4" cy="315.6" r="1.05"/><circle cx="360.5" cy="315.6" r="1.05"/><circle cx="362.6" cy="315.6" r="1.05"/><circle cx="364.8" cy="315.6" r="1.05"/><circle cx="369.1" cy="315.6" r="1.05"/><circle cx="371.2" cy="315.6" r="1.05"/><circle cx="350.8" cy="313.5" r="1.05"/><circle cx="353.0" cy="313.5" r="1.05"/><circle cx="357.3" cy="313.5" r="1.05"/><circle cx="359.4" cy="313.5" r="1.05"/><circle cx="361.6" cy="313.5" r="1.05"/><circle cx="363.7" cy="313.5" r="1.05"/><circle cx="365.9" cy="313.5" r="1.05"/><circle cx="368.0" cy="313.5" r="1.05"/><circle cx="370.2" cy="313.5" r="1.05"/><circle cx="349.8" cy="311.5" r="1.05"/><circle cx="351.9" cy="311.5" r="1.05"/><circle cx="354.1" cy="311.5" r="1.05"/><circle cx="356.2" cy="311.5" r="1.05"/><circle cx="358.4" cy="311.5" r="1.05"/><circle cx="360.5" cy="311.5" r="1.05"/><circle cx="362.6" cy="311.5" r="1.05"/><circle cx="364.8" cy="311.5" r="1.05"/><circle cx="366.9" cy="311.5" r="1.05"/><circle cx="369.1" cy="311.5" r="1.05"/><circle cx="371.2" cy="311.5" r="1.05"/><circle cx="350.8" cy="309.4" r="1.05"/><circle cx="355.1" cy="309.4" r="1.05"/><circle cx="357.3" cy="309.4" r="1.05"/><circle cx="359.4" cy="309.4" r="1.05"/><circle cx="361.6" cy="309.4" r="1.05"/><circle cx="363.7" cy="309.4" r="1.05"/><circle cx="365.9" cy="309.4" r="1.05"/><circle cx="368.0" cy="309.4" r="1.05"/><circle cx="370.2" cy="309.4" r="1.05"/><circle cx="349.8" cy="307.4" r="1.05"/><circle cx="351.9" cy="307.4" r="1.05"/><circle cx="354.1" cy="307.4" r="1.05"/><circle cx="356.2" cy="307.4" r="1.05"/><circle cx="358.4" cy="307.4" r="1.05"/><circle cx="360.5" cy="307.4" r="1.05"/><circle cx="362.6" cy="307.4" r="1.05"/><circle cx="364.8" cy="307.4" r="1.05"/><circle cx="366.9" cy="307.4" r="1.05"/><circle cx="369.1" cy="307.4" r="1.05"/><circle cx="371.2" cy="307.4" r="1.05"/><circle cx="350.8" cy="305.3" r="1.05"/><circle cx="353.0" cy="305.3" r="1.05"/><circle cx="355.1" cy="305.3" r="1.05"/><circle cx="357.3" cy="305.3" r="1.05"/><circle cx="361.6" cy="305.3" r="1.05"/><circle cx="363.7" cy="305.3" r="1.05"/><circle cx="365.9" cy="305.3" r="1.05"/><circle cx="368.0" cy="305.3" r="1.05"/><circle cx="370.2" cy="305.3" r="1.05"/><circle cx="349.8" cy="303.3" r="1.05"/><circle cx="351.9" cy="303.3" r="1.05"/><circle cx="354.1" cy="303.3" r="1.05"/><circle cx="356.2" cy="303.3" r="1.05"/><circle cx="358.4" cy="303.3" r="1.05"/><circle cx="360.5" cy="303.3" r="1.05"/><circle cx="362.6" cy="303.3" r="1.05"/><circle cx="364.8" cy="303.3" r="1.05"/><circle cx="366.9" cy="303.3" r="1.05"/><circle cx="369.1" cy="303.3" r="1.05"/><circle cx="371.2" cy="303.3" r="1.05"/><circle cx="350.8" cy="301.2" r="1.05"/><circle cx="353.0" cy="301.2" r="1.05"/><circle cx="355.1" cy="301.2" r="1.05"/><circle cx="357.3" cy="301.2" r="1.05"/><circle cx="359.4" cy="301.2" r="1.05"/><circle cx="361.6" cy="301.2" r="1.05"/><circle cx="363.7" cy="301.2" r="1.05"/><circle cx="365.9" cy="301.2" r="1.05"/><circle cx="368.0" cy="301.2" r="1.05"/><circle cx="370.2" cy="301.2" r="1.05"/><circle cx="349.8" cy="299.2" r="1.05"/><circle cx="351.9" cy="299.2" r="1.05"/><circle cx="354.1" cy="299.2" r="1.05"/><circle cx="356.2" cy="299.2" r="1.05"/><circle cx="358.4" cy="299.2" r="1.05"/><circle cx="360.5" cy="299.2" r="1.05"/><circle cx="362.6" cy="299.2" r="1.05"/><circle cx="364.8" cy="299.2" r="1.05"/><circle cx="366.9" cy="299.2" r="1.05"/><circle cx="369.1" cy="299.2" r="1.05"/><circle cx="371.2" cy="299.2" r="1.05"/><circle cx="350.8" cy="297.1" r="1.05"/><circle cx="353.0" cy="297.1" r="1.05"/><circle cx="355.1" cy="297.1" r="1.05"/><circle cx="357.3" cy="297.1" r="1.05"/><circle cx="359.4" cy="297.1" r="1.05"/><circle cx="361.6" cy="297.1" r="1.05"/><circle cx="363.7" cy="297.1" r="1.05"/><circle cx="365.9" cy="297.1" r="1.05"/><circle cx="368.0" cy="297.1" r="1.05"/><circle cx="370.2" cy="297.1" r="1.05"/><circle cx="349.8" cy="295.1" r="1.05"/><circle cx="351.9" cy="295.1" r="1.05"/><circle cx="354.1" cy="295.1" r="1.05"/><circle cx="356.2" cy="295.1" r="1.05"/><circle cx="358.4" cy="295.1" r="1.05"/><circle cx="360.5" cy="295.1" r="1.05"/><circle cx="362.6" cy="295.1" r="1.05"/><circle cx="364.8" cy="295.1" r="1.05"/><circle cx="366.9" cy="295.1" r="1.05"/><circle cx="369.1" cy="295.1" r="1.05"/><circle cx="371.2" cy="295.1" r="1.05"/><circle cx="350.8" cy="293.0" r="1.05"/><circle cx="353.0" cy="293.0" r="1.05"/><circle cx="355.1" cy="293.0" r="1.05"/><circle cx="357.3" cy="293.0" r="1.05"/><circle cx="359.4" cy="293.0" r="1.05"/><circle cx="361.6" cy="293.0" r="1.05"/><circle cx="363.7" cy="293.0" r="1.05"/><circle cx="365.9" cy="293.0" r="1.05"/><circle cx="368.0" cy="293.0" r="1.05"/><circle cx="370.2" cy="293.0" r="1.05"/><circle cx="349.8" cy="291.0" r="1.05"/><circle cx="351.9" cy="291.0" r="1.05"/><circle cx="354.1" cy="291.0" r="1.05"/><circle cx="356.2" cy="291.0" r="1.05"/><circle cx="358.4" cy="291.0" r="1.05"/><circle cx="360.5" cy="291.0" r="1.05"/><circle cx="362.6" cy="291.0" r="1.05"/><circle cx="364.8" cy="291.0" r="1.05"/><circle cx="366.9" cy="291.0" r="1.05"/><circle cx="369.1" cy="291.0" r="1.05"/><circle cx="371.2" cy="291.0" r="1.05"/><circle cx="350.8" cy="288.9" r="1.05"/><circle cx="353.0" cy="288.9" r="1.05"/><circle cx="355.1" cy="288.9" r="1.05"/><circle cx="357.3" cy="288.9" r="1.05"/><circle cx="359.4" cy="288.9" r="1.05"/><circle cx="361.6" cy="288.9" r="1.05"/><circle cx="363.7" cy="288.9" r="1.05"/><circle cx="365.9" cy="288.9" r="1.05"/><circle cx="370.2" cy="288.9" r="1.05"/><circle cx="350.9" cy="287.7" r="1.05"/><circle cx="353.3" cy="287.7" r="1.05"/><circle cx="355.7" cy="287.7" r="1.05"/><circle cx="360.5" cy="287.7" r="1.05"/><circle cx="365.3" cy="287.7" r="1.05"/><circle cx="370.1" cy="287.7" r="1.05"/><circle cx="349.7" cy="285.4" r="1.05"/><circle cx="352.1" cy="285.4" r="1.05"/><circle cx="354.5" cy="285.4" r="1.05"/><circle cx="356.9" cy="285.4" r="1.05"/><circle cx="359.3" cy="285.4" r="1.05"/><circle cx="361.7" cy="285.4" r="1.05"/><circle cx="364.1" cy="285.4" r="1.05"/><circle cx="366.5" cy="285.4" r="1.05"/><circle cx="368.9" cy="285.4" r="1.05"/><circle cx="350.9" cy="283.1" r="1.05"/><circle cx="355.7" cy="283.1" r="1.05"/><circle cx="358.1" cy="283.1" r="1.05"/><circle cx="360.5" cy="283.1" r="1.05"/><circle cx="362.9" cy="283.1" r="1.05"/><circle cx="365.3" cy="283.1" r="1.05"/><circle cx="367.7" cy="283.1" r="1.05"/><circle cx="349.7" cy="280.8" r="1.05"/><circle cx="352.1" cy="280.8" r="1.05"/><circle cx="354.5" cy="280.8" r="1.05"/><circle cx="356.9" cy="280.8" r="1.05"/><circle cx="359.3" cy="280.8" r="1.05"/><circle cx="361.7" cy="280.8" r="1.05"/><circle cx="353.3" cy="278.5" r="1.05"/><circle cx="355.7" cy="278.5" r="1.05"/><circle cx="358.1" cy="278.5" r="1.05"/><circle cx="360.5" cy="278.5" r="1.05"/><circle cx="365.3" cy="278.5" r="1.05"/><circle cx="370.1" cy="278.5" r="1.05"/><circle cx="356.6" cy="275.0" r="1.05"/><circle cx="361.8" cy="275.0" r="1.05"/><circle cx="364.4" cy="275.0" r="1.05"/><circle cx="360.5" cy="272.6" r="1.05"/><circle cx="363.1" cy="272.6" r="1.05"/><circle cx="365.7" cy="272.6" r="1.05"/>
</g>
<circle cx="360.5" cy="265.5" r="1.0" fill="#1266b0"/>
<circle cx="360.5" cy="269.9" r="1.0" fill="#1266b0"/>
<circle cx="357.9" cy="272.5" r="1.0" fill="#1266b0"/>
<circle cx="363.1" cy="272.5" r="1.0" fill="#1266b0"/>
<g fill="#9a2f96">
<circle cx="388.0" cy="335.8" r="1.0"/><circle cx="391.0" cy="335.8" r="1.0"/><circle cx="394.0" cy="335.8" r="1.0"/><circle cx="400.0" cy="335.8" r="1.0"/><circle cx="406.0" cy="335.8" r="1.0"/><circle cx="386.5" cy="333.0" r="1.0"/><circle cx="392.5" cy="333.0" r="1.0"/><circle cx="398.5" cy="333.0" r="1.0"/><circle cx="401.5" cy="333.0" r="1.0"/><circle cx="404.5" cy="333.0" r="1.0"/><circle cx="407.5" cy="333.0" r="1.0"/><circle cx="388.0" cy="330.2" r="1.0"/><circle cx="391.0" cy="330.2" r="1.0"/><circle cx="394.0" cy="330.2" r="1.0"/><circle cx="397.0" cy="330.2" r="1.0"/><circle cx="403.0" cy="330.2" r="1.0"/><circle cx="406.0" cy="330.2" r="1.0"/><circle cx="386.5" cy="327.4" r="1.0"/><circle cx="389.5" cy="327.4" r="1.0"/><circle cx="392.5" cy="327.4" r="1.0"/><circle cx="395.5" cy="327.4" r="1.0"/><circle cx="398.5" cy="327.4" r="1.0"/><circle cx="404.5" cy="327.4" r="1.0"/><circle cx="407.5" cy="327.4" r="1.0"/><circle cx="394.0" cy="324.6" r="1.0"/><circle cx="400.0" cy="324.6" r="1.0"/><circle cx="403.0" cy="324.6" r="1.0"/><circle cx="406.0" cy="324.6" r="1.0"/><circle cx="400.4" cy="322.6" r="1.0"/><circle cx="403.8" cy="322.6" r="1.0"/><circle cx="407.2" cy="322.6" r="1.0"/><circle cx="388.5" cy="319.5" r="1.0"/><circle cx="391.9" cy="319.5" r="1.0"/><circle cx="395.3" cy="319.5" r="1.0"/><circle cx="398.7" cy="319.5" r="1.0"/><circle cx="402.1" cy="319.5" r="1.0"/><circle cx="386.8" cy="316.4" r="1.0"/><circle cx="390.2" cy="316.4" r="1.0"/><circle cx="397.0" cy="316.4" r="1.0"/><circle cx="400.4" cy="316.4" r="1.0"/><circle cx="403.8" cy="316.4" r="1.0"/><circle cx="388.5" cy="313.3" r="1.0"/><circle cx="395.3" cy="313.3" r="1.0"/><circle cx="405.5" cy="313.3" r="1.0"/><circle cx="390.2" cy="310.2" r="1.0"/><circle cx="393.6" cy="310.2" r="1.0"/><circle cx="397.0" cy="310.2" r="1.0"/><circle cx="400.4" cy="310.2" r="1.0"/><circle cx="403.8" cy="310.2" r="1.0"/><circle cx="388.5" cy="307.1" r="1.0"/><circle cx="402.1" cy="307.1" r="1.0"/><circle cx="405.5" cy="307.1" r="1.0"/><circle cx="386.8" cy="304.0" r="1.0"/><circle cx="393.6" cy="304.0" r="1.0"/><circle cx="407.2" cy="304.0" r="1.0"/><circle cx="390.2" cy="302.1" r="1.0"/><circle cx="393.6" cy="302.1" r="1.0"/><circle cx="397.0" cy="302.1" r="1.0"/><circle cx="403.8" cy="302.1" r="1.0"/><circle cx="385.1" cy="299.0" r="1.0"/><circle cx="388.5" cy="299.0" r="1.0"/><circle cx="391.9" cy="299.0" r="1.0"/><circle cx="395.3" cy="299.0" r="1.0"/><circle cx="398.7" cy="299.0" r="1.0"/><circle cx="402.1" cy="299.0" r="1.0"/><circle cx="405.5" cy="299.0" r="1.0"/><circle cx="386.8" cy="295.9" r="1.0"/><circle cx="390.2" cy="295.9" r="1.0"/><circle cx="397.0" cy="295.9" r="1.0"/><circle cx="400.4" cy="295.9" r="1.0"/><circle cx="403.8" cy="295.9" r="1.0"/><circle cx="407.2" cy="295.9" r="1.0"/><circle cx="388.5" cy="292.8" r="1.0"/><circle cx="391.9" cy="292.8" r="1.0"/><circle cx="395.3" cy="292.8" r="1.0"/><circle cx="402.1" cy="292.8" r="1.0"/><circle cx="405.5" cy="292.8" r="1.0"/><circle cx="386.8" cy="289.7" r="1.0"/><circle cx="397.0" cy="289.7" r="1.0"/><circle cx="403.8" cy="289.7" r="1.0"/><circle cx="407.2" cy="289.7" r="1.0"/><circle cx="393.6" cy="286.7" r="1.0"/><circle cx="400.4" cy="286.7" r="1.0"/><circle cx="395.3" cy="283.6" r="1.0"/><circle cx="400.4" cy="280.5" r="1.0"/><circle cx="397.0" cy="280.1" r="1.0"/><circle cx="397.0" cy="273.9" r="1.0"/>
</g>
<circle cx="397" cy="261.1" r="1.0" fill="#9a2f96"/>
<circle cx="397" cy="255.3" r="1.0" fill="#9a2f96"/>
<g fill="#ee9a2c">
<circle cx="424.6" cy="335.4" r="1.0"/><circle cx="427.5" cy="335.4" r="1.0"/><circle cx="430.4" cy="335.4" r="1.0"/><circle cx="433.3" cy="335.4" r="1.0"/><circle cx="436.2" cy="335.4" r="1.0"/><circle cx="439.1" cy="335.4" r="1.0"/><circle cx="442.0" cy="335.4" r="1.0"/><circle cx="423.1" cy="332.7" r="1.0"/><circle cx="426.1" cy="332.7" r="1.0"/><circle cx="428.9" cy="332.7" r="1.0"/><circle cx="431.9" cy="332.7" r="1.0"/><circle cx="434.8" cy="332.7" r="1.0"/><circle cx="437.6" cy="332.7" r="1.0"/><circle cx="440.6" cy="332.7" r="1.0"/><circle cx="443.4" cy="332.7" r="1.0"/><circle cx="424.6" cy="330.0" r="1.0"/><circle cx="427.5" cy="330.0" r="1.0"/><circle cx="430.4" cy="330.0" r="1.0"/><circle cx="433.3" cy="330.0" r="1.0"/><circle cx="436.2" cy="330.0" r="1.0"/><circle cx="439.1" cy="330.0" r="1.0"/><circle cx="442.0" cy="330.0" r="1.0"/><circle cx="423.1" cy="327.3" r="1.0"/><circle cx="426.1" cy="327.3" r="1.0"/><circle cx="428.9" cy="327.3" r="1.0"/><circle cx="431.9" cy="327.3" r="1.0"/><circle cx="434.8" cy="327.3" r="1.0"/><circle cx="437.6" cy="327.3" r="1.0"/><circle cx="440.6" cy="327.3" r="1.0"/><circle cx="443.4" cy="327.3" r="1.0"/><circle cx="424.6" cy="324.6" r="1.0"/><circle cx="427.5" cy="324.6" r="1.0"/><circle cx="433.3" cy="324.6" r="1.0"/><circle cx="436.2" cy="324.6" r="1.0"/><circle cx="439.1" cy="324.6" r="1.0"/><circle cx="442.0" cy="324.6" r="1.0"/><circle cx="428.9" cy="321.9" r="1.0"/><circle cx="431.9" cy="321.9" r="1.0"/><circle cx="434.8" cy="321.9" r="1.0"/><circle cx="437.6" cy="321.9" r="1.0"/><circle cx="443.4" cy="321.9" r="1.0"/><circle cx="423.4" cy="320.7" r="1.0"/><circle cx="430.0" cy="320.7" r="1.0"/><circle cx="436.6" cy="320.7" r="1.0"/><circle cx="443.2" cy="320.7" r="1.0"/><circle cx="425.1" cy="317.6" r="1.0"/><circle cx="431.6" cy="317.6" r="1.0"/><circle cx="434.9" cy="317.6" r="1.0"/><circle cx="438.2" cy="317.6" r="1.0"/><circle cx="441.6" cy="317.6" r="1.0"/><circle cx="423.4" cy="314.5" r="1.0"/><circle cx="433.3" cy="314.5" r="1.0"/><circle cx="439.9" cy="314.5" r="1.0"/><circle cx="443.2" cy="314.5" r="1.0"/><circle cx="431.6" cy="311.4" r="1.0"/><circle cx="434.9" cy="311.4" r="1.0"/><circle cx="438.2" cy="311.4" r="1.0"/><circle cx="441.6" cy="311.4" r="1.0"/><circle cx="426.7" cy="308.3" r="1.0"/><circle cx="430.0" cy="308.3" r="1.0"/><circle cx="436.6" cy="308.3" r="1.0"/><circle cx="443.2" cy="308.3" r="1.0"/><circle cx="438.2" cy="305.2" r="1.0"/><circle cx="426.7" cy="302.1" r="1.0"/><circle cx="430.0" cy="302.1" r="1.0"/><circle cx="436.6" cy="302.1" r="1.0"/><circle cx="439.9" cy="302.1" r="1.0"/><circle cx="426.7" cy="301.7" r="1.0"/><circle cx="430.0" cy="301.7" r="1.0"/><circle cx="436.6" cy="301.7" r="1.0"/><circle cx="439.9" cy="301.7" r="1.0"/><circle cx="428.3" cy="298.6" r="1.0"/><circle cx="431.6" cy="298.6" r="1.0"/><circle cx="434.9" cy="298.6" r="1.0"/><circle cx="438.2" cy="298.6" r="1.0"/><circle cx="426.7" cy="295.5" r="1.0"/><circle cx="433.3" cy="295.5" r="1.0"/><circle cx="436.6" cy="295.5" r="1.0"/><circle cx="431.6" cy="292.4" r="1.0"/><circle cx="434.9" cy="292.4" r="1.0"/><circle cx="438.2" cy="292.4" r="1.0"/><circle cx="430.0" cy="289.9" r="1.0"/><circle cx="433.3" cy="289.9" r="1.0"/><circle cx="436.6" cy="289.9" r="1.0"/><circle cx="431.6" cy="286.8" r="1.0"/><circle cx="433.3" cy="283.7" r="1.0"/><circle cx="428.3" cy="280.6" r="1.0"/><circle cx="431.6" cy="280.6" r="1.0"/><circle cx="434.9" cy="280.6" r="1.0"/><circle cx="433.3" cy="277.5" r="1.0"/><circle cx="436.6" cy="277.5" r="1.0"/><circle cx="433.3" cy="275.3" r="1.0"/><circle cx="431.6" cy="272.0" r="1.0"/><circle cx="434.9" cy="272.0" r="1.0"/><circle cx="431.6" cy="265.4" r="1.0"/><circle cx="433.3" cy="262.1" r="1.0"/>
</g>
<circle cx="433.3" cy="253.4" r="1.0" fill="#ee9a2c"/>
<circle cx="433.3" cy="240.8" r="1.0" fill="#ee9a2c"/>
<line x1="348.80" y1="311.60" x2="372.00" y2="311.60" stroke="#000" stroke-width="1.7" stroke-linecap="butt"/>
<line x1="385.00" y1="313.80" x2="409.50" y2="313.80" stroke="#000" stroke-width="1.7" stroke-linecap="butt"/>
<line x1="421.30" y1="311.30" x2="445.00" y2="311.30" stroke="#000" stroke-width="1.7" stroke-linecap="butt"/>
<line x1="360.50" y1="337.40" x2="360.50" y2="341.40" stroke="#000" stroke-width="1.4" stroke-linecap="butt"/>
<text x="359.80" y="354.40" font-size="10.7" text-anchor="middle" font-weight="normal" font-style="normal" fill="#111" >Unamp</text>
<line x1="397.00" y1="337.40" x2="397.00" y2="341.40" stroke="#000" stroke-width="1.4" stroke-linecap="butt"/>
<text x="397.30" y="354.40" font-size="10.7" text-anchor="middle" font-weight="normal" font-style="normal" fill="#111" >Gain</text>
<line x1="433.30" y1="337.40" x2="433.30" y2="341.40" stroke="#000" stroke-width="1.4" stroke-linecap="butt"/>
<text x="433.50" y="354.40" font-size="10.7" text-anchor="middle" font-weight="normal" font-style="normal" fill="#111" >Amp</text>
<text x="397.50" y="369.40" font-size="8.6" text-anchor="middle" font-weight="normal" font-style="italic" fill="#111" >CCNE1</text>
<text transform="translate(308.80,283.10) rotate(-90)" font-size="10.8" text-anchor="middle" fill="#111" textLength="127" lengthAdjust="spacingAndGlyphs">Fraction genome amplified</text>
<text x="457.50" y="318.00" font-size="9.3" text-anchor="start" font-weight="normal" font-style="normal" fill="#111" >ANOVA</text>
<text x="454.7" y="329.6" font-size="9.3" fill="#111"><tspan font-style="italic">P</tspan> = 0.608</text>
<text x="20.90" y="399.40" font-size="17.2" text-anchor="start" font-weight="bold" font-style="normal" fill="#000" class="L">E</text>
<path d="M78.0 415.0 L83.0 415.0 L83.0 416.5 L86.0 416.5 L86.0 418.5 L89.0 418.5 L89.0 420.5 L91.5 420.5 L91.5 422.5 L94.0 422.5 L94.0 424.5 L97.0 424.5 L97.0 427.0 L99.0 427.0 L99.0 430.0 L101.0 430.0 L101.0 433.0 L103.0 433.0 L103.0 435.5 L105.5 435.5 L105.5 438.0 L108.0 438.0 L108.0 441.0 L110.5 441.0 L110.5 443.0 L113.0 443.0 L113.0 445.5 L116.0 445.5 L116.0 447.5 L118.5 447.5 L118.5 450.0 L121.0 450.0 L121.0 452.5 L123.0 452.5 L123.0 455.5 L125.0 455.5 L125.0 458.5 L127.0 458.5 L127.0 461.0 L129.5 461.0 L129.5 463.5 L132.0 463.5 L132.0 466.0 L134.5 466.0 L134.5 468.5 L137.0 468.5 L137.0 471.0 L139.5 471.0 L139.5 473.5 L142.0 473.5 L142.0 476.5 L144.5 476.5 L144.5 479.5 L147.5 479.5 L147.5 481.5 L150.0 481.5 L150.0 484.0 L166.3 484.0 L166.3 492.0 L167.5 492.0 L167.5 507.5 L169.0 507.5 L169.0 516.3 L199.5 516.3" fill="none" stroke="#46289a" stroke-width="1.9" stroke-linejoin="miter"/>
<path d="M78.0 415.0 L90.0 415.0 L90.0 416.3 L94.0 416.3 L94.0 418.0 L97.0 418.0 L97.0 420.0 L99.0 420.0 L99.0 423.0 L101.0 423.0 L101.0 425.5 L103.0 425.5 L103.0 428.0 L105.0 428.0 L105.0 431.0 L107.0 431.0 L107.0 433.5 L109.0 433.5 L109.0 436.0 L111.0 436.0 L111.0 438.5 L113.0 438.5 L113.0 441.0 L114.5 441.0 L114.5 445.0 L116.0 445.0 L116.0 448.5 L118.0 448.5 L118.0 452.0 L120.0 452.0 L120.0 455.5 L122.0 455.5 L122.0 459.0 L124.0 459.0 L124.0 462.5 L126.0 462.5 L126.0 466.0 L128.0 466.0 L128.0 469.5 L130.0 469.5 L130.0 473.5 L133.0 473.5 L133.0 476.0 L135.0 476.0 L135.0 479.0 L136.5 479.0 L136.5 483.0 L138.5 483.0 L138.5 485.5 L141.5 485.5 L141.5 488.0 L144.0 488.0 L144.0 490.5 L146.5 490.5 L146.5 494.0 L148.5 494.0 L148.5 498.3 L161.0 498.3 L161.0 503.0 L166.0 503.0 L166.0 505.5 L168.5 505.5 L168.5 507.7 L186.3 507.7 L186.3 525.0" fill="none" stroke="#125089" stroke-width="1.9" stroke-linejoin="miter"/>
<path d="M78.0 415.0 L86.0 415.0 L86.0 416.5 L90.0 416.5 L90.0 419.0 L92.0 419.0 L92.0 421.5 L94.0 421.5 L94.0 424.0 L96.0 424.0 L96.0 427.0 L98.0 427.0 L98.0 430.0 L100.0 430.0 L100.0 432.5 L102.0 432.5 L102.0 435.0 L104.0 435.0 L104.0 438.0 L106.0 438.0 L106.0 441.0 L108.0 441.0 L108.0 443.5 L110.0 443.5 L110.0 446.5 L112.0 446.5 L112.0 450.0 L113.5 450.0 L113.5 454.0 L115.0 454.0 L115.0 459.0 L116.0 459.0 L116.0 465.0 L117.0 465.0 L117.0 471.0 L118.8 471.0 L118.8 480.0 L121.0 480.0 L121.0 483.5 L127.6 483.5 L127.6 487.0 L130.3 487.0 L130.3 492.3 L133.6 492.3 L133.6 496.3 L136.3 496.3 L136.3 499.7 L144.4 499.7 L144.4 503.7 L163.3 503.7 L163.3 525.0" fill="none" stroke="#df3023" stroke-width="1.9" stroke-linejoin="miter"/>
<path d="M78.0 415.0 L93.2 415.0 L93.2 433.3 L114.2 433.3 L114.2 470.5 L127.6 470.5 L127.6 497.7 L131.2 497.7 L131.2 525.0" fill="none" stroke="#f59a2e" stroke-width="1.9" stroke-linejoin="miter"/>
<line x1="155.00" y1="482.00" x2="155.00" y2="484.30" stroke="#46289a" stroke-width="1.2" stroke-linecap="butt"/>
<line x1="158.00" y1="482.00" x2="158.00" y2="484.30" stroke="#46289a" stroke-width="1.2" stroke-linecap="butt"/>
<line x1="161.00" y1="482.00" x2="161.00" y2="484.30" stroke="#46289a" stroke-width="1.2" stroke-linecap="butt"/>
<line x1="164.00" y1="482.00" x2="164.00" y2="484.30" stroke="#46289a" stroke-width="1.2" stroke-linecap="butt"/>
<line x1="199.00" y1="514.30" x2="199.00" y2="516.60" stroke="#46289a" stroke-width="1.2" stroke-linecap="butt"/>
<line x1="173.00" y1="505.70" x2="173.00" y2="508.00" stroke="#125089" stroke-width="1.2" stroke-linecap="butt"/>
<line x1="180.00" y1="505.70" x2="180.00" y2="508.00" stroke="#125089" stroke-width="1.2" stroke-linecap="butt"/>
<line x1="150.00" y1="501.70" x2="150.00" y2="504.00" stroke="#df3023" stroke-width="1.2" stroke-linecap="butt"/>
<line x1="155.00" y1="501.70" x2="155.00" y2="504.00" stroke="#df3023" stroke-width="1.2" stroke-linecap="butt"/>
<line x1="78.60" y1="414.00" x2="78.60" y2="526.20" stroke="#000" stroke-width="2.0" stroke-linecap="butt"/>
<line x1="77.90" y1="525.50" x2="200.20" y2="525.50" stroke="#000" stroke-width="2.0" stroke-linecap="butt"/>
<line x1="74.60" y1="525.50" x2="78.60" y2="525.50" stroke="#000" stroke-width="1.4" stroke-linecap="butt"/>
<text x="73.70" y="529.70" font-size="10.8" text-anchor="end" font-weight="normal" font-style="normal" fill="#111" >0</text>
<line x1="74.60" y1="503.32" x2="78.60" y2="503.32" stroke="#000" stroke-width="1.4" stroke-linecap="butt"/>
<text x="73.70" y="507.52" font-size="10.8" text-anchor="end" font-weight="normal" font-style="normal" fill="#111" >20</text>
<line x1="74.60" y1="481.14" x2="78.60" y2="481.14" stroke="#000" stroke-width="1.4" stroke-linecap="butt"/>
<text x="73.70" y="485.34" font-size="10.8" text-anchor="end" font-weight="normal" font-style="normal" fill="#111" >40</text>
<line x1="74.60" y1="458.96" x2="78.60" y2="458.96" stroke="#000" stroke-width="1.4" stroke-linecap="butt"/>
<text x="73.70" y="463.16" font-size="10.8" text-anchor="end" font-weight="normal" font-style="normal" fill="#111" >60</text>
<line x1="74.60" y1="436.78" x2="78.60" y2="436.78" stroke="#000" stroke-width="1.4" stroke-linecap="butt"/>
<text x="73.70" y="440.98" font-size="10.8" text-anchor="end" font-weight="normal" font-style="normal" fill="#111" >80</text>
<line x1="74.60" y1="414.60" x2="78.60" y2="414.60" stroke="#000" stroke-width="1.4" stroke-linecap="butt"/>
<text x="73.70" y="418.80" font-size="10.8" text-anchor="end" font-weight="normal" font-style="normal" fill="#111" >100</text>
<line x1="78.60" y1="525.50" x2="78.60" y2="529.50" stroke="#000" stroke-width="1.4" stroke-linecap="butt"/>
<text x="78.60" y="539.60" font-size="10.5" text-anchor="middle" font-weight="normal" font-style="normal" fill="#111" >0</text>
<line x1="102.78" y1="525.50" x2="102.78" y2="529.50" stroke="#000" stroke-width="1.4" stroke-linecap="butt"/>
<text x="102.78" y="539.60" font-size="10.5" text-anchor="middle" font-weight="normal" font-style="normal" fill="#111" >2</text>
<line x1="126.96" y1="525.50" x2="126.96" y2="529.50" stroke="#000" stroke-width="1.4" stroke-linecap="butt"/>
<text x="126.96" y="539.60" font-size="10.5" text-anchor="middle" font-weight="normal" font-style="normal" fill="#111" >4</text>
<line x1="151.14" y1="525.50" x2="151.14" y2="529.50" stroke="#000" stroke-width="1.4" stroke-linecap="butt"/>
<text x="151.14" y="539.60" font-size="10.5" text-anchor="middle" font-weight="normal" font-style="normal" fill="#111" >6</text>
<line x1="175.32" y1="525.50" x2="175.32" y2="529.50" stroke="#000" stroke-width="1.4" stroke-linecap="butt"/>
<text x="175.32" y="539.60" font-size="10.5" text-anchor="middle" font-weight="normal" font-style="normal" fill="#111" >8</text>
<line x1="199.50" y1="525.50" x2="199.50" y2="529.50" stroke="#000" stroke-width="1.4" stroke-linecap="butt"/>
<text x="199.50" y="539.60" font-size="10.5" text-anchor="middle" font-weight="normal" font-style="normal" fill="#111" >10</text>
<text x="139.00" y="556.20" font-size="11.6" text-anchor="middle" font-weight="normal" font-style="normal" fill="#111" >Overall survival (y)</text>
<text transform="translate(50.60,470.80) rotate(-90)" font-size="11.5" text-anchor="middle" fill="#111" textLength="81.6" lengthAdjust="spacingAndGlyphs">Percent survival</text>
<text x="178.7" y="408.8" font-size="9.2" fill="#111"><tspan font-style="italic">CCNE1</tspan> ;WGD</text>
<line x1="184.50" y1="422.00" x2="198.80" y2="422.00" stroke="#46289a" stroke-width="1.8" stroke-linecap="butt"/>
<line x1="191.60" y1="420.40" x2="191.60" y2="422.00" stroke="#46289a" stroke-width="1.0" stroke-linecap="butt"/>
<text x="204.50" y="425.30" font-size="9.4" text-anchor="start" font-weight="normal" font-style="normal" fill="#111" >Nonamplified ; 0</text>
<line x1="184.50" y1="436.20" x2="198.80" y2="436.20" stroke="#125089" stroke-width="1.8" stroke-linecap="butt"/>
<line x1="191.60" y1="434.60" x2="191.60" y2="436.20" stroke="#125089" stroke-width="1.0" stroke-linecap="butt"/>
<text x="204.50" y="439.50" font-size="9.4" text-anchor="start" font-weight="normal" font-style="normal" fill="#111" >Nonamplified ; &#8805; 1</text>
<line x1="184.50" y1="451.00" x2="198.80" y2="451.00" stroke="#f59a2e" stroke-width="1.8" stroke-linecap="butt"/>
<line x1="191.60" y1="449.40" x2="191.60" y2="451.00" stroke="#f59a2e" stroke-width="1.0" stroke-linecap="butt"/>
<text x="204.50" y="454.30" font-size="9.4" text-anchor="start" font-weight="normal" font-style="normal" fill="#111" >Amplified ; 0</text>
<line x1="184.50" y1="465.50" x2="198.80" y2="465.50" stroke="#df3023" stroke-width="1.8" stroke-linecap="butt"/>
<line x1="191.60" y1="463.90" x2="191.60" y2="465.50" stroke="#df3023" stroke-width="1.0" stroke-linecap="butt"/>
<text x="204.50" y="468.80" font-size="9.4" text-anchor="start" font-weight="normal" font-style="normal" fill="#111" >Amplified ; &#8805; 1</text>
<text x="210.1" y="518.6" font-size="9.2" fill="#111"><tspan font-style="italic">P</tspan> &lt; 0.03</text>
<text x="282.30" y="399.30" font-size="17.2" text-anchor="start" font-weight="bold" font-style="normal" fill="#000" class="L">F</text>
<defs>
<clipPath id="fclip"><rect x="302.5" y="396.8" width="191.1" height="150.1"/></clipPath>
<filter id="b1" x="-20%" y="-20%" width="140%" height="140%"><feGaussianBlur stdDeviation="0.55"/></filter>
<filter id="b3" filterUnits="userSpaceOnUse" x="300" y="394" width="196" height="156"><feTurbulence type="fractalNoise" baseFrequency="0.22" numOctaves="2" seed="3" result="n"/><feDisplacementMap in="SourceGraphic" in2="n" scale="3.2" xChannelSelector="R" yChannelSelector="G"/><feGaussianBlur stdDeviation="0.5"/></filter>
<filter id="b2" x="-20%" y="-20%" width="140%" height="140%"><feGaussianBlur stdDeviation="0.9"/></filter>
<filter id="b6" x="-30%" y="-30%" width="160%" height="160%"><feGaussianBlur stdDeviation="5"/></filter>
<filter id="nz" filterUnits="userSpaceOnUse" x="300" y="394" width="196" height="156"><feTurbulence type="fractalNoise" baseFrequency="0.28" numOctaves="3" seed="11"/><feColorMatrix type="matrix" values="0 0 0 0 0.62  0 0 0 0 0.68  0 0 0 0 0.74  1.6 1.2 0 0 -1.15"/></filter>
<filter id="nz2" filterUnits="userSpaceOnUse" x="300" y="394" width="196" height="156"><feTurbulence type="fractalNoise" baseFrequency="0.2" numOctaves="2" seed="29"/><feColorMatrix type="matrix" values="0 0 0 0 0.96  0 0 0 0 0.97  0 0 0 0 0.97  0 1.8 1.4 0 -1.35"/></filter>
</defs>
<g clip-path="url(#fclip)">
<rect x="302.5" y="396.8" width="191.1" height="150.1" fill="#d8dddf"/>
<g filter="url(#b6)">
<ellipse cx="318" cy="538" rx="30" ry="12" fill="#eef1f1" opacity="0.95"/>
<ellipse cx="395" cy="540" rx="40" ry="9" fill="#e9eeef" opacity="0.9"/>
<ellipse cx="480" cy="500" rx="14" ry="45" fill="#e3eaee" opacity="0.9"/>
<ellipse cx="360" cy="505" rx="14" ry="8" fill="#eceff0" opacity="0.6"/>
<ellipse cx="322" cy="425" rx="22" ry="28" fill="#d5dde2" opacity="0.6"/>
<ellipse cx="485" cy="420" rx="10" ry="25" fill="#dfe7ec" opacity="0.8"/>
<ellipse cx="440" cy="434" rx="52" ry="38" fill="#b9c7d2" opacity="0.85"/>
<ellipse cx="398" cy="432" rx="20" ry="36" fill="#bccad4" opacity="0.8"/>
<ellipse cx="380" cy="440" rx="16" ry="30" fill="#c6d1d9" opacity="0.7"/>
<ellipse cx="350" cy="478" rx="14" ry="10" fill="#c3cdd4" opacity="0.8"/>
<ellipse cx="402" cy="498" rx="36" ry="28" fill="#bfcbd3" opacity="0.8"/>
<ellipse cx="330" cy="520" rx="22" ry="10" fill="#d8d6d2" opacity="0.5"/>
<ellipse cx="455" cy="500" rx="14" ry="30" fill="#ddd6d0" opacity="0.45"/>
</g>
<rect x="302.5" y="396.8" width="191.1" height="150.1" filter="url(#nz)" opacity="0.75"/>
<rect x="302.5" y="396.8" width="191.1" height="150.1" filter="url(#nz2)" opacity="0.7"/>
<g filter="url(#b1)">
<ellipse cx="455.2" cy="445.7" rx="2.3" ry="0.6" fill="#aab8c5" opacity="0.88" transform="rotate(43 455.2 445.7)"/><ellipse cx="493.5" cy="432.5" rx="2.0" ry="0.6" fill="#7f93ab" opacity="0.46" transform="rotate(82 493.5 432.5)"/><ellipse cx="485.4" cy="422.7" rx="1.8" ry="1.0" fill="#9eb0c1" opacity="0.60" transform="rotate(89 485.4 422.7)"/><ellipse cx="324.9" cy="479.5" rx="1.8" ry="0.7" fill="#8fa3b8" opacity="0.49" transform="rotate(47 324.9 479.5)"/><ellipse cx="340.7" cy="480.9" rx="2.1" ry="0.6" fill="#b5c1cb" opacity="0.78" transform="rotate(79 340.7 480.9)"/><ellipse cx="444.5" cy="524.3" rx="1.7" ry="0.6" fill="#94a8bb" opacity="0.89" transform="rotate(17 444.5 524.3)"/><ellipse cx="354.5" cy="490.9" rx="2.5" ry="0.7" fill="#94a8bb" opacity="0.48" transform="rotate(166 354.5 490.9)"/><ellipse cx="463.6" cy="543.0" rx="2.4" ry="0.8" fill="#9eb0c1" opacity="0.71" transform="rotate(20 463.6 543.0)"/><ellipse cx="379.4" cy="417.6" rx="1.1" ry="1.1" fill="#8fa3b8" opacity="0.67" transform="rotate(145 379.4 417.6)"/><ellipse cx="310.0" cy="450.5" rx="1.3" ry="1.1" fill="#94a8bb" opacity="0.76" transform="rotate(178 310.0 450.5)"/><ellipse cx="313.2" cy="467.6" rx="1.2" ry="0.7" fill="#8fa3b8" opacity="0.46" transform="rotate(125 313.2 467.6)"/><ellipse cx="395.3" cy="449.8" rx="1.7" ry="0.6" fill="#aab8c5" opacity="0.52" transform="rotate(147 395.3 449.8)"/><ellipse cx="460.9" cy="532.6" rx="1.4" ry="0.9" fill="#aab8c5" opacity="0.50" transform="rotate(18 460.9 532.6)"/><ellipse cx="377.1" cy="468.2" rx="1.3" ry="0.7" fill="#8fa3b8" opacity="0.52" transform="rotate(159 377.1 468.2)"/><ellipse cx="331.0" cy="404.4" rx="2.0" ry="1.0" fill="#94a8bb" opacity="0.77" transform="rotate(-40 331.0 404.4)"/><ellipse cx="417.4" cy="470.3" rx="2.3" ry="0.6" fill="#94a8bb" opacity="0.64" transform="rotate(48 417.4 470.3)"/><ellipse cx="405.9" cy="440.0" rx="1.1" ry="0.8" fill="#8fa3b8" opacity="0.46" transform="rotate(157 405.9 440.0)"/><ellipse cx="329.5" cy="410.3" rx="1.8" ry="0.9" fill="#aab8c5" opacity="0.52" transform="rotate(-40 329.5 410.3)"/><ellipse cx="484.3" cy="454.5" rx="1.8" ry="0.9" fill="#aab8c5" opacity="0.54" transform="rotate(79 484.3 454.5)"/><ellipse cx="460.8" cy="461.1" rx="2.3" ry="1.0" fill="#94a8bb" opacity="0.60" transform="rotate(45 460.8 461.1)"/><ellipse cx="477.1" cy="513.3" rx="2.2" ry="1.1" fill="#aab8c5" opacity="0.89" transform="rotate(94 477.1 513.3)"/><ellipse cx="449.2" cy="495.2" rx="1.8" ry="1.1" fill="#7f93ab" opacity="0.62" transform="rotate(71 449.2 495.2)"/><ellipse cx="445.2" cy="481.1" rx="1.5" ry="0.6" fill="#b5c1cb" opacity="0.50" transform="rotate(127 445.2 481.1)"/><ellipse cx="328.8" cy="536.3" rx="1.4" ry="1.0" fill="#94a8bb" opacity="0.70" transform="rotate(18 328.8 536.3)"/><ellipse cx="431.9" cy="405.3" rx="2.1" ry="0.9" fill="#b5c1cb" opacity="0.76" transform="rotate(4 431.9 405.3)"/><ellipse cx="326.9" cy="516.0" rx="1.6" ry="0.9" fill="#b5c1cb" opacity="0.73" transform="rotate(117 326.9 516.0)"/><ellipse cx="485.0" cy="409.8" rx="1.2" ry="0.8" fill="#94a8bb" opacity="0.78" transform="rotate(86 485.0 409.8)"/><ellipse cx="303.5" cy="464.3" rx="1.8" ry="1.0" fill="#94a8bb" opacity="0.83" transform="rotate(152 303.5 464.3)"/><ellipse cx="317.2" cy="397.5" rx="2.2" ry="0.6" fill="#b5c1cb" opacity="0.81" transform="rotate(-74 317.2 397.5)"/><ellipse cx="458.7" cy="537.4" rx="2.3" ry="0.8" fill="#b5c1cb" opacity="0.49" transform="rotate(15 458.7 537.4)"/><ellipse cx="311.1" cy="546.7" rx="1.8" ry="0.6" fill="#b5c1cb" opacity="0.67" transform="rotate(19 311.1 546.7)"/><ellipse cx="406.0" cy="512.3" rx="1.8" ry="0.7" fill="#94a8bb" opacity="0.65" transform="rotate(58 406.0 512.3)"/><ellipse cx="410.6" cy="507.5" rx="2.2" ry="0.8" fill="#8fa3b8" opacity="0.55" transform="rotate(157 410.6 507.5)"/><ellipse cx="419.8" cy="546.0" rx="2.0" ry="0.7" fill="#b5c1cb" opacity="0.64" transform="rotate(2 419.8 546.0)"/><ellipse cx="398.6" cy="449.8" rx="1.5" ry="1.0" fill="#9eb0c1" opacity="0.61" transform="rotate(116 398.6 449.8)"/><ellipse cx="330.3" cy="436.6" rx="1.5" ry="0.8" fill="#b5c1cb" opacity="0.87" transform="rotate(-37 330.3 436.6)"/><ellipse cx="394.2" cy="499.1" rx="1.3" ry="0.6" fill="#7f93ab" opacity="0.71" transform="rotate(50 394.2 499.1)"/><ellipse cx="385.1" cy="475.6" rx="1.7" ry="1.0" fill="#8fa3b8" opacity="0.76" transform="rotate(76 385.1 475.6)"/><ellipse cx="456.3" cy="478.1" rx="2.4" ry="1.0" fill="#aab8c5" opacity="0.62" transform="rotate(85 456.3 478.1)"/><ellipse cx="408.4" cy="488.6" rx="2.5" ry="0.7" fill="#7f93ab" opacity="0.65" transform="rotate(47 408.4 488.6)"/><ellipse cx="468.9" cy="499.0" rx="1.2" ry="0.7" fill="#7f93ab" opacity="0.75" transform="rotate(4 468.9 499.0)"/><ellipse cx="416.7" cy="525.9" rx="1.3" ry="0.8" fill="#9eb0c1" opacity="0.52" transform="rotate(4 416.7 525.9)"/><ellipse cx="396.7" cy="440.9" rx="1.2" ry="1.0" fill="#7f93ab" opacity="0.80" transform="rotate(64 396.7 440.9)"/><ellipse cx="328.7" cy="446.2" rx="1.8" ry="0.6" fill="#b5c1cb" opacity="0.64" transform="rotate(-47 328.7 446.2)"/><ellipse cx="340.8" cy="492.6" rx="2.4" ry="0.8" fill="#94a8bb" opacity="0.90" transform="rotate(6 340.8 492.6)"/><ellipse cx="475.9" cy="410.4" rx="1.6" ry="0.8" fill="#aab8c5" opacity="0.69" transform="rotate(67 475.9 410.4)"/><ellipse cx="469.0" cy="473.3" rx="1.9" ry="1.0" fill="#8fa3b8" opacity="0.75" transform="rotate(93 469.0 473.3)"/><ellipse cx="454.2" cy="539.8" rx="1.4" ry="0.9" fill="#9eb0c1" opacity="0.57" transform="rotate(19 454.2 539.8)"/><ellipse cx="483.7" cy="404.7" rx="1.2" ry="0.7" fill="#b5c1cb" opacity="0.65" transform="rotate(81 483.7 404.7)"/><ellipse cx="428.3" cy="538.7" rx="1.8" ry="1.0" fill="#b5c1cb" opacity="0.63" transform="rotate(-5 428.3 538.7)"/><ellipse cx="390.8" cy="452.3" rx="1.8" ry="0.7" fill="#94a8bb" opacity="0.88" transform="rotate(22 390.8 452.3)"/><ellipse cx="444.9" cy="446.3" rx="2.1" ry="0.7" fill="#8fa3b8" opacity="0.47" transform="rotate(86 444.9 446.3)"/><ellipse cx="487.4" cy="480.4" rx="1.9" ry="1.0" fill="#aab8c5" opacity="0.84" transform="rotate(88 487.4 480.4)"/><ellipse cx="483.9" cy="506.4" rx="1.7" ry="0.9" fill="#b5c1cb" opacity="0.80" transform="rotate(85 483.9 506.4)"/><ellipse cx="360.8" cy="432.2" rx="1.3" ry="0.7" fill="#94a8bb" opacity="0.71" transform="rotate(138 360.8 432.2)"/><ellipse cx="337.0" cy="456.8" rx="1.3" ry="0.6" fill="#8fa3b8" opacity="0.47" transform="rotate(171 337.0 456.8)"/><ellipse cx="305.6" cy="451.7" rx="1.5" ry="0.8" fill="#8fa3b8" opacity="0.82" transform="rotate(145 305.6 451.7)"/><ellipse cx="383.3" cy="532.3" rx="2.0" ry="1.0" fill="#8fa3b8" opacity="0.51" transform="rotate(12 383.3 532.3)"/><ellipse cx="372.7" cy="541.1" rx="2.2" ry="1.1" fill="#7f93ab" opacity="0.79" transform="rotate(-3 372.7 541.1)"/><ellipse cx="479.0" cy="414.0" rx="2.4" ry="0.8" fill="#8fa3b8" opacity="0.52" transform="rotate(86 479.0 414.0)"/><ellipse cx="354.0" cy="430.3" rx="1.6" ry="0.9" fill="#94a8bb" opacity="0.75" transform="rotate(46 354.0 430.3)"/><ellipse cx="491.3" cy="469.4" rx="2.1" ry="0.9" fill="#b5c1cb" opacity="0.46" transform="rotate(85 491.3 469.4)"/><ellipse cx="436.9" cy="462.2" rx="2.2" ry="0.6" fill="#7f93ab" opacity="0.82" transform="rotate(70 436.9 462.2)"/><ellipse cx="461.9" cy="534.8" rx="1.9" ry="1.0" fill="#94a8bb" opacity="0.57" transform="rotate(-1 461.9 534.8)"/><ellipse cx="377.8" cy="416.0" rx="1.3" ry="0.9" fill="#9eb0c1" opacity="0.59" transform="rotate(140 377.8 416.0)"/><ellipse cx="323.5" cy="438.1" rx="2.1" ry="0.8" fill="#aab8c5" opacity="0.81" transform="rotate(-70 323.5 438.1)"/><ellipse cx="438.1" cy="487.4" rx="2.2" ry="0.8" fill="#aab8c5" opacity="0.77" transform="rotate(94 438.1 487.4)"/><ellipse cx="489.7" cy="426.8" rx="1.4" ry="1.0" fill="#8fa3b8" opacity="0.49" transform="rotate(66 489.7 426.8)"/><ellipse cx="331.8" cy="528.1" rx="1.6" ry="1.1" fill="#94a8bb" opacity="0.68" transform="rotate(22 331.8 528.1)"/><ellipse cx="489.7" cy="421.6" rx="2.1" ry="1.0" fill="#94a8bb" opacity="0.48" transform="rotate(74 489.7 421.6)"/><ellipse cx="302.7" cy="513.4" rx="1.5" ry="0.7" fill="#94a8bb" opacity="0.55" transform="rotate(143 302.7 513.4)"/><ellipse cx="474.6" cy="520.4" rx="1.7" ry="0.8" fill="#7f93ab" opacity="0.84" transform="rotate(77 474.6 520.4)"/><ellipse cx="471.3" cy="402.9" rx="1.4" ry="0.6" fill="#94a8bb" opacity="0.81" transform="rotate(90 471.3 402.9)"/><ellipse cx="492.2" cy="519.9" rx="2.2" ry="0.7" fill="#aab8c5" opacity="0.59" transform="rotate(68 492.2 519.9)"/><ellipse cx="478.1" cy="439.4" rx="2.0" ry="0.7" fill="#7f93ab" opacity="0.76" transform="rotate(75 478.1 439.4)"/><ellipse cx="355.9" cy="409.7" rx="2.3" ry="1.0" fill="#aab8c5" opacity="0.68" transform="rotate(36 355.9 409.7)"/><ellipse cx="325.7" cy="524.6" rx="2.4" ry="1.1" fill="#8fa3b8" opacity="0.85" transform="rotate(156 325.7 524.6)"/><ellipse cx="411.5" cy="520.8" rx="1.4" ry="0.9" fill="#94a8bb" opacity="0.77" transform="rotate(150 411.5 520.8)"/><ellipse cx="413.5" cy="398.8" rx="1.8" ry="0.8" fill="#b5c1cb" opacity="0.88" transform="rotate(158 413.5 398.8)"/><ellipse cx="379.5" cy="490.6" rx="1.2" ry="0.6" fill="#b5c1cb" opacity="0.84" transform="rotate(55 379.5 490.6)"/><ellipse cx="375.6" cy="525.8" rx="1.4" ry="0.8" fill="#b5c1cb" opacity="0.88" transform="rotate(26 375.6 525.8)"/><ellipse cx="400.9" cy="542.6" rx="2.3" ry="0.8" fill="#8fa3b8" opacity="0.64" transform="rotate(6 400.9 542.6)"/><ellipse cx="433.4" cy="527.0" rx="1.4" ry="0.9" fill="#8fa3b8" opacity="0.88" transform="rotate(7 433.4 527.0)"/><ellipse cx="320.3" cy="467.9" rx="1.6" ry="0.7" fill="#94a8bb" opacity="0.80" transform="rotate(36 320.3 467.9)"/><ellipse cx="366.1" cy="416.4" rx="1.6" ry="1.0" fill="#8fa3b8" opacity="0.52" transform="rotate(99 366.1 416.4)"/><ellipse cx="328.0" cy="453.9" rx="1.2" ry="0.9" fill="#8fa3b8" opacity="0.82" transform="rotate(73 328.0 453.9)"/><ellipse cx="456.6" cy="472.2" rx="1.3" ry="1.0" fill="#9eb0c1" opacity="0.72" transform="rotate(130 456.6 472.2)"/><ellipse cx="465.9" cy="416.2" rx="1.3" ry="0.6" fill="#8fa3b8" opacity="0.76" transform="rotate(179 465.9 416.2)"/><ellipse cx="339.7" cy="512.8" rx="2.0" ry="1.1" fill="#b5c1cb" opacity="0.73" transform="rotate(70 339.7 512.8)"/><ellipse cx="434.4" cy="527.8" rx="1.8" ry="0.6" fill="#94a8bb" opacity="0.59" transform="rotate(11 434.4 527.8)"/><ellipse cx="393.6" cy="399.3" rx="1.9" ry="0.6" fill="#8fa3b8" opacity="0.61" transform="rotate(18 393.6 399.3)"/><ellipse cx="486.5" cy="504.6" rx="1.8" ry="0.7" fill="#8fa3b8" opacity="0.50" transform="rotate(93 486.5 504.6)"/><ellipse cx="369.9" cy="413.9" rx="2.4" ry="0.7" fill="#b5c1cb" opacity="0.50" transform="rotate(45 369.9 413.9)"/><ellipse cx="445.0" cy="527.9" rx="2.5" ry="0.6" fill="#8fa3b8" opacity="0.58" transform="rotate(30 445.0 527.9)"/><ellipse cx="304.0" cy="444.7" rx="1.9" ry="0.7" fill="#9eb0c1" opacity="0.58" transform="rotate(-59 304.0 444.7)"/><ellipse cx="386.6" cy="461.8" rx="2.4" ry="1.0" fill="#9eb0c1" opacity="0.53" transform="rotate(19 386.6 461.8)"/><ellipse cx="483.6" cy="480.0" rx="1.4" ry="0.6" fill="#9eb0c1" opacity="0.84" transform="rotate(81 483.6 480.0)"/><ellipse cx="340.5" cy="446.0" rx="1.2" ry="0.6" fill="#7f93ab" opacity="0.62" transform="rotate(-51 340.5 446.0)"/><ellipse cx="336.6" cy="499.3" rx="1.9" ry="0.7" fill="#b5c1cb" opacity="0.47" transform="rotate(150 336.6 499.3)"/><ellipse cx="434.2" cy="462.3" rx="2.5" ry="0.6" fill="#7f93ab" opacity="0.86" transform="rotate(34 434.2 462.3)"/><ellipse cx="313.2" cy="490.0" rx="1.2" ry="0.9" fill="#7f93ab" opacity="0.47" transform="rotate(157 313.2 490.0)"/><ellipse cx="468.6" cy="421.1" rx="1.5" ry="0.9" fill="#b5c1cb" opacity="0.86" transform="rotate(69 468.6 421.1)"/><ellipse cx="322.3" cy="505.5" rx="1.5" ry="1.1" fill="#94a8bb" opacity="0.81" transform="rotate(12 322.3 505.5)"/><ellipse cx="432.0" cy="524.5" rx="2.1" ry="0.6" fill="#9eb0c1" opacity="0.67" transform="rotate(69 432.0 524.5)"/><ellipse cx="476.4" cy="466.0" rx="2.4" ry="0.8" fill="#7f93ab" opacity="0.51" transform="rotate(91 476.4 466.0)"/><ellipse cx="386.2" cy="470.9" rx="2.0" ry="1.0" fill="#94a8bb" opacity="0.69" transform="rotate(95 386.2 470.9)"/><ellipse cx="474.3" cy="462.4" rx="2.4" ry="0.9" fill="#94a8bb" opacity="0.66" transform="rotate(83 474.3 462.4)"/><ellipse cx="346.7" cy="530.7" rx="1.9" ry="0.7" fill="#94a8bb" opacity="0.78" transform="rotate(-3 346.7 530.7)"/><ellipse cx="321.1" cy="490.8" rx="1.4" ry="0.7" fill="#aab8c5" opacity="0.70" transform="rotate(94 321.1 490.8)"/><ellipse cx="402.6" cy="410.0" rx="1.4" ry="1.0" fill="#8fa3b8" opacity="0.82" transform="rotate(30 402.6 410.0)"/><ellipse cx="483.3" cy="431.4" rx="2.4" ry="0.8" fill="#7f93ab" opacity="0.52" transform="rotate(91 483.3 431.4)"/><ellipse cx="372.3" cy="485.9" rx="2.0" ry="1.0" fill="#8fa3b8" opacity="0.74" transform="rotate(27 372.3 485.9)"/><ellipse cx="414.8" cy="398.8" rx="2.2" ry="0.8" fill="#94a8bb" opacity="0.78" transform="rotate(113 414.8 398.8)"/><ellipse cx="472.9" cy="512.4" rx="1.4" ry="0.9" fill="#8fa3b8" opacity="0.47" transform="rotate(80 472.9 512.4)"/><ellipse cx="456.5" cy="459.0" rx="1.2" ry="1.0" fill="#aab8c5" opacity="0.84" transform="rotate(38 456.5 459.0)"/><ellipse cx="473.8" cy="418.3" rx="1.7" ry="0.6" fill="#94a8bb" opacity="0.49" transform="rotate(95 473.8 418.3)"/><ellipse cx="304.3" cy="497.8" rx="2.1" ry="0.6" fill="#7f93ab" opacity="0.83" transform="rotate(170 304.3 497.8)"/><ellipse cx="483.6" cy="454.6" rx="1.9" ry="1.1" fill="#b5c1cb" opacity="0.60" transform="rotate(81 483.6 454.6)"/><ellipse cx="306.9" cy="485.7" rx="1.2" ry="1.0" fill="#8fa3b8" opacity="0.84" transform="rotate(135 306.9 485.7)"/><ellipse cx="454.7" cy="441.1" rx="1.9" ry="0.9" fill="#b5c1cb" opacity="0.60" transform="rotate(91 454.7 441.1)"/><ellipse cx="322.2" cy="432.3" rx="1.4" ry="0.6" fill="#b5c1cb" opacity="0.78" transform="rotate(-55 322.2 432.3)"/><ellipse cx="449.0" cy="460.7" rx="2.4" ry="0.8" fill="#aab8c5" opacity="0.49" transform="rotate(113 449.0 460.7)"/><ellipse cx="472.3" cy="447.3" rx="1.5" ry="0.7" fill="#b5c1cb" opacity="0.51" transform="rotate(88 472.3 447.3)"/><ellipse cx="330.7" cy="460.5" rx="1.7" ry="0.9" fill="#aab8c5" opacity="0.55" transform="rotate(137 330.7 460.5)"/><ellipse cx="380.2" cy="502.6" rx="2.3" ry="0.9" fill="#8fa3b8" opacity="0.73" transform="rotate(96 380.2 502.6)"/><ellipse cx="491.9" cy="401.1" rx="2.4" ry="0.7" fill="#aab8c5" opacity="0.54" transform="rotate(74 491.9 401.1)"/><ellipse cx="440.8" cy="408.2" rx="1.2" ry="0.6" fill="#b5c1cb" opacity="0.58" transform="rotate(29 440.8 408.2)"/><ellipse cx="465.9" cy="447.7" rx="1.9" ry="0.7" fill="#8fa3b8" opacity="0.63" transform="rotate(41 465.9 447.7)"/><ellipse cx="469.2" cy="492.9" rx="1.3" ry="0.7" fill="#94a8bb" opacity="0.53" transform="rotate(175 469.2 492.9)"/><ellipse cx="327.4" cy="405.2" rx="1.7" ry="0.9" fill="#b5c1cb" opacity="0.77" transform="rotate(-69 327.4 405.2)"/><ellipse cx="339.4" cy="434.6" rx="2.0" ry="0.6" fill="#b5c1cb" opacity="0.66" transform="rotate(-38 339.4 434.6)"/><ellipse cx="483.3" cy="481.7" rx="1.2" ry="0.8" fill="#8fa3b8" opacity="0.57" transform="rotate(88 483.3 481.7)"/><ellipse cx="459.2" cy="457.4" rx="1.7" ry="0.9" fill="#aab8c5" opacity="0.47" transform="rotate(172 459.2 457.4)"/><ellipse cx="399.7" cy="539.2" rx="2.4" ry="0.9" fill="#b5c1cb" opacity="0.67" transform="rotate(28 399.7 539.2)"/><ellipse cx="307.0" cy="509.7" rx="1.3" ry="0.6" fill="#94a8bb" opacity="0.74" transform="rotate(6 307.0 509.7)"/><ellipse cx="311.2" cy="536.3" rx="1.3" ry="0.7" fill="#7f93ab" opacity="0.89" transform="rotate(9 311.2 536.3)"/><ellipse cx="389.1" cy="487.5" rx="1.3" ry="1.0" fill="#9eb0c1" opacity="0.79" transform="rotate(6 389.1 487.5)"/><ellipse cx="367.0" cy="447.5" rx="1.8" ry="0.6" fill="#b5c1cb" opacity="0.77" transform="rotate(14 367.0 447.5)"/><ellipse cx="319.2" cy="429.1" rx="1.8" ry="1.1" fill="#7f93ab" opacity="0.65" transform="rotate(-74 319.2 429.1)"/><ellipse cx="460.9" cy="521.3" rx="2.1" ry="0.9" fill="#8fa3b8" opacity="0.86" transform="rotate(108 460.9 521.3)"/><ellipse cx="318.3" cy="406.8" rx="2.4" ry="0.9" fill="#aab8c5" opacity="0.79" transform="rotate(-38 318.3 406.8)"/><ellipse cx="472.9" cy="437.4" rx="2.3" ry="0.8" fill="#aab8c5" opacity="0.56" transform="rotate(73 472.9 437.4)"/><ellipse cx="379.6" cy="541.1" rx="1.5" ry="1.0" fill="#8fa3b8" opacity="0.71" transform="rotate(26 379.6 541.1)"/><ellipse cx="385.1" cy="451.5" rx="1.2" ry="0.9" fill="#7f93ab" opacity="0.71" transform="rotate(102 385.1 451.5)"/><ellipse cx="473.9" cy="513.1" rx="1.3" ry="0.8" fill="#8fa3b8" opacity="0.61" transform="rotate(78 473.9 513.1)"/><ellipse cx="329.2" cy="486.2" rx="2.2" ry="0.6" fill="#94a8bb" opacity="0.56" transform="rotate(78 329.2 486.2)"/><ellipse cx="308.6" cy="480.6" rx="2.2" ry="0.6" fill="#b5c1cb" opacity="0.50" transform="rotate(150 308.6 480.6)"/><ellipse cx="351.3" cy="510.6" rx="2.3" ry="0.8" fill="#8fa3b8" opacity="0.50" transform="rotate(48 351.3 510.6)"/><ellipse cx="407.5" cy="415.5" rx="1.3" ry="0.8" fill="#7f93ab" opacity="0.56" transform="rotate(126 407.5 415.5)"/><ellipse cx="379.3" cy="414.9" rx="1.9" ry="0.7" fill="#b5c1cb" opacity="0.72" transform="rotate(128 379.3 414.9)"/><ellipse cx="365.3" cy="540.5" rx="1.9" ry="0.8" fill="#8fa3b8" opacity="0.79" transform="rotate(19 365.3 540.5)"/><ellipse cx="410.3" cy="406.6" rx="1.5" ry="1.0" fill="#b5c1cb" opacity="0.86" transform="rotate(107 410.3 406.6)"/><ellipse cx="309.0" cy="540.5" rx="1.3" ry="1.0" fill="#94a8bb" opacity="0.72" transform="rotate(21 309.0 540.5)"/><ellipse cx="435.7" cy="534.2" rx="2.1" ry="0.8" fill="#94a8bb" opacity="0.70" transform="rotate(17 435.7 534.2)"/><ellipse cx="322.7" cy="417.9" rx="1.9" ry="0.8" fill="#8fa3b8" opacity="0.69" transform="rotate(-46 322.7 417.9)"/><ellipse cx="443.1" cy="508.6" rx="1.8" ry="1.0" fill="#aab8c5" opacity="0.64" transform="rotate(110 443.1 508.6)"/><ellipse cx="332.2" cy="512.2" rx="2.4" ry="0.8" fill="#b5c1cb" opacity="0.48" transform="rotate(50 332.2 512.2)"/><ellipse cx="345.5" cy="511.6" rx="1.3" ry="0.8" fill="#7f93ab" opacity="0.77" transform="rotate(37 345.5 511.6)"/><ellipse cx="438.6" cy="472.5" rx="1.5" ry="0.8" fill="#7f93ab" opacity="0.62" transform="rotate(90 438.6 472.5)"/><ellipse cx="385.9" cy="427.2" rx="2.1" ry="0.8" fill="#8fa3b8" opacity="0.61" transform="rotate(176 385.9 427.2)"/><ellipse cx="470.1" cy="435.9" rx="1.3" ry="0.6" fill="#9eb0c1" opacity="0.59" transform="rotate(80 470.1 435.9)"/><ellipse cx="355.6" cy="529.7" rx="1.4" ry="0.6" fill="#94a8bb" opacity="0.62" transform="rotate(-6 355.6 529.7)"/><ellipse cx="406.2" cy="544.8" rx="2.4" ry="0.7" fill="#b5c1cb" opacity="0.52" transform="rotate(-10 406.2 544.8)"/><ellipse cx="436.9" cy="509.5" rx="2.1" ry="0.7" fill="#8fa3b8" opacity="0.68" transform="rotate(76 436.9 509.5)"/><ellipse cx="415.0" cy="472.9" rx="1.7" ry="0.8" fill="#9eb0c1" opacity="0.71" transform="rotate(150 415.0 472.9)"/><ellipse cx="330.3" cy="480.2" rx="2.0" ry="1.1" fill="#b5c1cb" opacity="0.89" transform="rotate(70 330.3 480.2)"/><ellipse cx="371.1" cy="408.7" rx="2.0" ry="1.1" fill="#7f93ab" opacity="0.46" transform="rotate(79 371.1 408.7)"/><ellipse cx="320.2" cy="546.0" rx="1.7" ry="0.8" fill="#9eb0c1" opacity="0.81" transform="rotate(19 320.2 546.0)"/><ellipse cx="445.6" cy="544.4" rx="1.2" ry="0.7" fill="#7f93ab" opacity="0.84" transform="rotate(-8 445.6 544.4)"/><ellipse cx="488.9" cy="404.6" rx="1.4" ry="0.8" fill="#9eb0c1" opacity="0.64" transform="rotate(90 488.9 404.6)"/><ellipse cx="440.4" cy="509.8" rx="1.4" ry="1.1" fill="#b5c1cb" opacity="0.63" transform="rotate(54 440.4 509.8)"/><ellipse cx="372.6" cy="493.3" rx="1.3" ry="1.0" fill="#9eb0c1" opacity="0.83" transform="rotate(9 372.6 493.3)"/><ellipse cx="341.1" cy="481.7" rx="1.7" ry="0.7" fill="#94a8bb" opacity="0.73" transform="rotate(177 341.1 481.7)"/><ellipse cx="471.0" cy="545.7" rx="1.9" ry="1.0" fill="#9eb0c1" opacity="0.76" transform="rotate(89 471.0 545.7)"/><ellipse cx="314.3" cy="406.9" rx="1.8" ry="0.9" fill="#b5c1cb" opacity="0.86" transform="rotate(-65 314.3 406.9)"/><ellipse cx="390.8" cy="454.9" rx="1.3" ry="0.8" fill="#b5c1cb" opacity="0.74" transform="rotate(47 390.8 454.9)"/><ellipse cx="335.3" cy="525.7" rx="1.3" ry="1.0" fill="#b5c1cb" opacity="0.72" transform="rotate(-5 335.3 525.7)"/><ellipse cx="366.2" cy="472.0" rx="1.9" ry="1.1" fill="#7f93ab" opacity="0.58" transform="rotate(165 366.2 472.0)"/><ellipse cx="323.4" cy="444.4" rx="1.6" ry="0.6" fill="#7f93ab" opacity="0.49" transform="rotate(-65 323.4 444.4)"/><ellipse cx="364.7" cy="531.7" rx="1.8" ry="0.9" fill="#7f93ab" opacity="0.73" transform="rotate(12 364.7 531.7)"/><ellipse cx="322.1" cy="527.8" rx="1.9" ry="1.0" fill="#b5c1cb" opacity="0.80" transform="rotate(11 322.1 527.8)"/><ellipse cx="321.3" cy="455.7" rx="1.9" ry="1.0" fill="#b5c1cb" opacity="0.52" transform="rotate(52 321.3 455.7)"/><ellipse cx="435.1" cy="472.0" rx="1.9" ry="0.8" fill="#9eb0c1" opacity="0.57" transform="rotate(166 435.1 472.0)"/><ellipse cx="334.9" cy="505.0" rx="2.0" ry="0.7" fill="#9eb0c1" opacity="0.60" transform="rotate(176 334.9 505.0)"/><ellipse cx="307.9" cy="412.9" rx="2.3" ry="1.0" fill="#94a8bb" opacity="0.88" transform="rotate(-74 307.9 412.9)"/><ellipse cx="368.2" cy="418.7" rx="1.8" ry="0.6" fill="#9eb0c1" opacity="0.47" transform="rotate(53 368.2 418.7)"/><ellipse cx="458.0" cy="495.2" rx="2.4" ry="0.8" fill="#7f93ab" opacity="0.87" transform="rotate(98 458.0 495.2)"/><ellipse cx="323.7" cy="442.4" rx="1.2" ry="0.9" fill="#94a8bb" opacity="0.81" transform="rotate(-73 323.7 442.4)"/><ellipse cx="473.7" cy="544.7" rx="2.3" ry="0.7" fill="#aab8c5" opacity="0.63" transform="rotate(73 473.7 544.7)"/><ellipse cx="319.1" cy="418.3" rx="2.2" ry="0.9" fill="#94a8bb" opacity="0.49" transform="rotate(-39 319.1 418.3)"/><ellipse cx="413.8" cy="477.3" rx="1.6" ry="0.8" fill="#b5c1cb" opacity="0.68" transform="rotate(47 413.8 477.3)"/><ellipse cx="310.3" cy="437.7" rx="1.5" ry="1.1" fill="#aab8c5" opacity="0.48" transform="rotate(-50 310.3 437.7)"/><ellipse cx="431.1" cy="470.2" rx="2.2" ry="0.6" fill="#8fa3b8" opacity="0.61" transform="rotate(81 431.1 470.2)"/><ellipse cx="432.1" cy="491.1" rx="2.2" ry="0.8" fill="#7f93ab" opacity="0.87" transform="rotate(100 432.1 491.1)"/><ellipse cx="342.1" cy="506.1" rx="2.5" ry="0.6" fill="#7f93ab" opacity="0.55" transform="rotate(76 342.1 506.1)"/><ellipse cx="428.1" cy="540.5" rx="1.4" ry="1.0" fill="#9eb0c1" opacity="0.45" transform="rotate(0 428.1 540.5)"/><ellipse cx="392.2" cy="503.5" rx="2.1" ry="1.1" fill="#b5c1cb" opacity="0.68" transform="rotate(127 392.2 503.5)"/><ellipse cx="458.6" cy="505.3" rx="2.4" ry="0.6" fill="#9eb0c1" opacity="0.69" transform="rotate(64 458.6 505.3)"/><ellipse cx="393.0" cy="522.7" rx="1.7" ry="0.6" fill="#94a8bb" opacity="0.58" transform="rotate(29 393.0 522.7)"/><ellipse cx="480.7" cy="511.4" rx="2.4" ry="0.7" fill="#7f93ab" opacity="0.80" transform="rotate(92 480.7 511.4)"/><ellipse cx="378.1" cy="505.7" rx="1.4" ry="0.7" fill="#b5c1cb" opacity="0.69" transform="rotate(40 378.1 505.7)"/><ellipse cx="309.7" cy="397.9" rx="2.4" ry="0.8" fill="#7f93ab" opacity="0.52" transform="rotate(-44 309.7 397.9)"/><ellipse cx="386.9" cy="473.8" rx="2.5" ry="0.7" fill="#8fa3b8" opacity="0.46" transform="rotate(134 386.9 473.8)"/><ellipse cx="436.4" cy="423.9" rx="1.4" ry="0.9" fill="#94a8bb" opacity="0.70" transform="rotate(18 436.4 423.9)"/><ellipse cx="405.0" cy="470.1" rx="2.3" ry="0.8" fill="#94a8bb" opacity="0.80" transform="rotate(62 405.0 470.1)"/><ellipse cx="394.4" cy="442.2" rx="1.1" ry="0.9" fill="#aab8c5" opacity="0.71" transform="rotate(22 394.4 442.2)"/><ellipse cx="425.6" cy="437.8" rx="2.4" ry="1.1" fill="#94a8bb" opacity="0.66" transform="rotate(71 425.6 437.8)"/><ellipse cx="348.5" cy="438.1" rx="1.7" ry="0.6" fill="#aab8c5" opacity="0.52" transform="rotate(-58 348.5 438.1)"/><ellipse cx="456.7" cy="476.2" rx="1.4" ry="0.6" fill="#8fa3b8" opacity="0.86" transform="rotate(169 456.7 476.2)"/><ellipse cx="426.9" cy="431.2" rx="1.1" ry="0.7" fill="#7f93ab" opacity="0.72" transform="rotate(95 426.9 431.2)"/><ellipse cx="489.0" cy="402.5" rx="2.1" ry="0.7" fill="#8fa3b8" opacity="0.66" transform="rotate(71 489.0 402.5)"/><ellipse cx="313.0" cy="454.3" rx="1.7" ry="0.6" fill="#94a8bb" opacity="0.88" transform="rotate(86 313.0 454.3)"/><ellipse cx="373.4" cy="537.4" rx="2.4" ry="0.6" fill="#94a8bb" opacity="0.77" transform="rotate(12 373.4 537.4)"/><ellipse cx="388.8" cy="460.2" rx="1.7" ry="0.7" fill="#8fa3b8" opacity="0.84" transform="rotate(100 388.8 460.2)"/><ellipse cx="391.8" cy="433.6" rx="2.0" ry="1.0" fill="#b5c1cb" opacity="0.89" transform="rotate(78 391.8 433.6)"/><ellipse cx="372.9" cy="460.8" rx="1.6" ry="1.0" fill="#7f93ab" opacity="0.70" transform="rotate(98 372.9 460.8)"/><ellipse cx="484.6" cy="493.0" rx="2.2" ry="0.7" fill="#b5c1cb" opacity="0.56" transform="rotate(69 484.6 493.0)"/><ellipse cx="310.0" cy="477.6" rx="1.4" ry="0.9" fill="#9eb0c1" opacity="0.88" transform="rotate(89 310.0 477.6)"/><ellipse cx="425.4" cy="463.0" rx="2.4" ry="1.0" fill="#9eb0c1" opacity="0.77" transform="rotate(99 425.4 463.0)"/><ellipse cx="306.9" cy="528.5" rx="1.9" ry="0.6" fill="#aab8c5" opacity="0.63" transform="rotate(12 306.9 528.5)"/><ellipse cx="371.7" cy="509.5" rx="2.3" ry="0.8" fill="#8fa3b8" opacity="0.67" transform="rotate(123 371.7 509.5)"/><ellipse cx="461.3" cy="482.3" rx="2.0" ry="0.6" fill="#aab8c5" opacity="0.57" transform="rotate(78 461.3 482.3)"/><ellipse cx="364.4" cy="461.0" rx="2.3" ry="0.6" fill="#7f93ab" opacity="0.84" transform="rotate(75 364.4 461.0)"/><ellipse cx="363.8" cy="493.3" rx="2.4" ry="0.6" fill="#aab8c5" opacity="0.88" transform="rotate(152 363.8 493.3)"/><ellipse cx="432.5" cy="542.2" rx="1.4" ry="0.6" fill="#b5c1cb" opacity="0.71" transform="rotate(2 432.5 542.2)"/><ellipse cx="340.3" cy="437.0" rx="1.3" ry="0.9" fill="#aab8c5" opacity="0.86" transform="rotate(-55 340.3 437.0)"/><ellipse cx="492.6" cy="524.0" rx="2.4" ry="1.0" fill="#7f93ab" opacity="0.50" transform="rotate(77 492.6 524.0)"/><ellipse cx="392.1" cy="523.3" rx="1.9" ry="0.7" fill="#7f93ab" opacity="0.87" transform="rotate(68 392.1 523.3)"/><ellipse cx="395.1" cy="426.3" rx="1.5" ry="0.8" fill="#7f93ab" opacity="0.85" transform="rotate(106 395.1 426.3)"/><ellipse cx="375.9" cy="515.1" rx="1.6" ry="1.0" fill="#7f93ab" opacity="0.90" transform="rotate(39 375.9 515.1)"/><ellipse cx="420.5" cy="401.5" rx="1.5" ry="0.7" fill="#9eb0c1" opacity="0.51" transform="rotate(115 420.5 401.5)"/><ellipse cx="375.3" cy="516.2" rx="2.2" ry="1.0" fill="#7f93ab" opacity="0.46" transform="rotate(34 375.3 516.2)"/><ellipse cx="307.7" cy="459.2" rx="2.4" ry="0.8" fill="#8fa3b8" opacity="0.65" transform="rotate(160 307.7 459.2)"/><ellipse cx="367.1" cy="541.9" rx="2.0" ry="0.9" fill="#b5c1cb" opacity="0.50" transform="rotate(20 367.1 541.9)"/><ellipse cx="339.6" cy="436.2" rx="1.8" ry="0.6" fill="#b5c1cb" opacity="0.51" transform="rotate(-72 339.6 436.2)"/><ellipse cx="308.4" cy="398.6" rx="2.2" ry="0.6" fill="#aab8c5" opacity="0.52" transform="rotate(-44 308.4 398.6)"/><ellipse cx="334.6" cy="489.1" rx="2.3" ry="0.8" fill="#7f93ab" opacity="0.79" transform="rotate(86 334.6 489.1)"/><ellipse cx="421.4" cy="446.5" rx="1.8" ry="0.8" fill="#b5c1cb" opacity="0.65" transform="rotate(92 421.4 446.5)"/><ellipse cx="397.0" cy="505.1" rx="1.5" ry="0.9" fill="#7f93ab" opacity="0.79" transform="rotate(20 397.0 505.1)"/><ellipse cx="377.5" cy="401.9" rx="1.6" ry="1.0" fill="#aab8c5" opacity="0.79" transform="rotate(129 377.5 401.9)"/><ellipse cx="385.8" cy="485.2" rx="1.6" ry="0.9" fill="#9eb0c1" opacity="0.51" transform="rotate(26 385.8 485.2)"/><ellipse cx="412.1" cy="506.0" rx="2.1" ry="0.8" fill="#9eb0c1" opacity="0.79" transform="rotate(68 412.1 506.0)"/><ellipse cx="432.7" cy="402.3" rx="2.1" ry="1.0" fill="#7f93ab" opacity="0.67" transform="rotate(144 432.7 402.3)"/><ellipse cx="465.8" cy="522.2" rx="2.0" ry="0.6" fill="#94a8bb" opacity="0.68" transform="rotate(102 465.8 522.2)"/><ellipse cx="399.8" cy="410.3" rx="2.1" ry="0.8" fill="#9eb0c1" opacity="0.50" transform="rotate(38 399.8 410.3)"/><ellipse cx="312.0" cy="504.2" rx="1.8" ry="1.0" fill="#b5c1cb" opacity="0.55" transform="rotate(73 312.0 504.2)"/><ellipse cx="361.9" cy="474.2" rx="2.1" ry="0.6" fill="#94a8bb" opacity="0.60" transform="rotate(144 361.9 474.2)"/><ellipse cx="418.6" cy="452.9" rx="2.0" ry="0.6" fill="#94a8bb" opacity="0.80" transform="rotate(36 418.6 452.9)"/><ellipse cx="455.3" cy="457.6" rx="1.9" ry="0.8" fill="#9eb0c1" opacity="0.67" transform="rotate(152 455.3 457.6)"/><ellipse cx="378.6" cy="407.8" rx="1.1" ry="0.6" fill="#b5c1cb" opacity="0.55" transform="rotate(70 378.6 407.8)"/><ellipse cx="396.0" cy="397.9" rx="1.4" ry="1.0" fill="#8fa3b8" opacity="0.87" transform="rotate(32 396.0 397.9)"/><ellipse cx="443.5" cy="487.6" rx="2.3" ry="0.7" fill="#8fa3b8" opacity="0.86" transform="rotate(54 443.5 487.6)"/><ellipse cx="307.9" cy="402.6" rx="2.3" ry="0.7" fill="#7f93ab" opacity="0.67" transform="rotate(-48 307.9 402.6)"/><ellipse cx="422.0" cy="445.6" rx="2.2" ry="1.1" fill="#b5c1cb" opacity="0.62" transform="rotate(131 422.0 445.6)"/><ellipse cx="322.0" cy="489.4" rx="1.1" ry="0.8" fill="#94a8bb" opacity="0.78" transform="rotate(25 322.0 489.4)"/><ellipse cx="360.2" cy="469.3" rx="1.2" ry="0.6" fill="#9eb0c1" opacity="0.48" transform="rotate(56 360.2 469.3)"/><ellipse cx="441.6" cy="504.6" rx="1.9" ry="0.8" fill="#8fa3b8" opacity="0.84" transform="rotate(53 441.6 504.6)"/><ellipse cx="428.0" cy="481.6" rx="2.3" ry="0.6" fill="#7f93ab" opacity="0.76" transform="rotate(27 428.0 481.6)"/><ellipse cx="324.2" cy="505.3" rx="1.5" ry="1.0" fill="#b5c1cb" opacity="0.84" transform="rotate(27 324.2 505.3)"/><ellipse cx="422.2" cy="542.5" rx="1.2" ry="0.9" fill="#7f93ab" opacity="0.78" transform="rotate(15 422.2 542.5)"/><ellipse cx="406.8" cy="398.7" rx="1.9" ry="0.9" fill="#b5c1cb" opacity="0.57" transform="rotate(158 406.8 398.7)"/><ellipse cx="408.2" cy="414.4" rx="2.0" ry="0.6" fill="#b5c1cb" opacity="0.72" transform="rotate(160 408.2 414.4)"/><ellipse cx="385.4" cy="523.8" rx="2.4" ry="1.1" fill="#8fa3b8" opacity="0.60" transform="rotate(7 385.4 523.8)"/><ellipse cx="438.3" cy="400.4" rx="1.9" ry="0.9" fill="#b5c1cb" opacity="0.89" transform="rotate(114 438.3 400.4)"/><ellipse cx="412.0" cy="539.3" rx="1.6" ry="1.0" fill="#94a8bb" opacity="0.62" transform="rotate(1 412.0 539.3)"/><ellipse cx="436.8" cy="516.7" rx="2.0" ry="1.0" fill="#aab8c5" opacity="0.70" transform="rotate(139 436.8 516.7)"/><ellipse cx="386.8" cy="407.4" rx="1.3" ry="1.0" fill="#b5c1cb" opacity="0.49" transform="rotate(142 386.8 407.4)"/><ellipse cx="404.4" cy="433.2" rx="1.7" ry="0.6" fill="#b5c1cb" opacity="0.67" transform="rotate(153 404.4 433.2)"/><ellipse cx="374.0" cy="460.3" rx="2.1" ry="0.8" fill="#b5c1cb" opacity="0.82" transform="rotate(6 374.0 460.3)"/><ellipse cx="317.3" cy="526.2" rx="2.2" ry="0.6" fill="#b5c1cb" opacity="0.80" transform="rotate(22 317.3 526.2)"/><ellipse cx="383.8" cy="472.2" rx="1.7" ry="0.9" fill="#aab8c5" opacity="0.82" transform="rotate(145 383.8 472.2)"/><ellipse cx="423.5" cy="530.9" rx="1.9" ry="0.6" fill="#9eb0c1" opacity="0.62" transform="rotate(17 423.5 530.9)"/><ellipse cx="433.3" cy="484.5" rx="2.5" ry="0.8" fill="#94a8bb" opacity="0.81" transform="rotate(130 433.3 484.5)"/><ellipse cx="302.5" cy="401.9" rx="2.2" ry="0.6" fill="#9eb0c1" opacity="0.68" transform="rotate(-47 302.5 401.9)"/><ellipse cx="429.4" cy="513.3" rx="2.0" ry="0.9" fill="#b5c1cb" opacity="0.76" transform="rotate(178 429.4 513.3)"/><ellipse cx="304.2" cy="463.6" rx="1.9" ry="0.9" fill="#aab8c5" opacity="0.84" transform="rotate(41 304.2 463.6)"/><ellipse cx="341.3" cy="401.6" rx="1.9" ry="1.0" fill="#9eb0c1" opacity="0.84" transform="rotate(-41 341.3 401.6)"/><ellipse cx="469.7" cy="456.0" rx="1.2" ry="0.8" fill="#7f93ab" opacity="0.73" transform="rotate(11 469.7 456.0)"/><ellipse cx="362.1" cy="427.4" rx="1.5" ry="0.8" fill="#8fa3b8" opacity="0.88" transform="rotate(86 362.1 427.4)"/><ellipse cx="329.0" cy="446.9" rx="2.3" ry="0.6" fill="#8fa3b8" opacity="0.58" transform="rotate(-58 329.0 446.9)"/><ellipse cx="443.7" cy="540.1" rx="1.9" ry="0.8" fill="#aab8c5" opacity="0.60" transform="rotate(-3 443.7 540.1)"/><ellipse cx="441.1" cy="533.0" rx="1.7" ry="1.1" fill="#b5c1cb" opacity="0.80" transform="rotate(25 441.1 533.0)"/><ellipse cx="476.6" cy="502.3" rx="1.4" ry="0.7" fill="#9eb0c1" opacity="0.56" transform="rotate(84 476.6 502.3)"/><ellipse cx="475.2" cy="442.6" rx="1.3" ry="0.7" fill="#94a8bb" opacity="0.76" transform="rotate(92 475.2 442.6)"/><ellipse cx="415.5" cy="423.6" rx="2.4" ry="0.6" fill="#b5c1cb" opacity="0.55" transform="rotate(104 415.5 423.6)"/><ellipse cx="349.4" cy="426.6" rx="2.2" ry="0.7" fill="#aab8c5" opacity="0.76" transform="rotate(-54 349.4 426.6)"/><ellipse cx="379.1" cy="457.3" rx="2.3" ry="0.8" fill="#8fa3b8" opacity="0.77" transform="rotate(91 379.1 457.3)"/><ellipse cx="392.8" cy="448.6" rx="2.0" ry="0.8" fill="#7f93ab" opacity="0.60" transform="rotate(33 392.8 448.6)"/><ellipse cx="338.0" cy="503.0" rx="2.3" ry="0.6" fill="#9eb0c1" opacity="0.78" transform="rotate(23 338.0 503.0)"/><ellipse cx="335.4" cy="409.1" rx="1.2" ry="0.8" fill="#b5c1cb" opacity="0.56" transform="rotate(-70 335.4 409.1)"/><ellipse cx="391.7" cy="485.6" rx="1.9" ry="1.1" fill="#b5c1cb" opacity="0.60" transform="rotate(37 391.7 485.6)"/><ellipse cx="441.2" cy="491.8" rx="2.0" ry="0.7" fill="#94a8bb" opacity="0.67" transform="rotate(114 441.2 491.8)"/><ellipse cx="468.0" cy="460.1" rx="2.1" ry="0.8" fill="#7f93ab" opacity="0.77" transform="rotate(30 468.0 460.1)"/><ellipse cx="345.1" cy="534.3" rx="1.1" ry="0.9" fill="#b5c1cb" opacity="0.87" transform="rotate(-0 345.1 534.3)"/><ellipse cx="427.8" cy="424.4" rx="1.5" ry="0.8" fill="#aab8c5" opacity="0.53" transform="rotate(112 427.8 424.4)"/><ellipse cx="404.0" cy="451.6" rx="2.1" ry="0.6" fill="#aab8c5" opacity="0.49" transform="rotate(109 404.0 451.6)"/><ellipse cx="359.4" cy="539.4" rx="1.2" ry="0.7" fill="#aab8c5" opacity="0.49" transform="rotate(13 359.4 539.4)"/><ellipse cx="386.3" cy="539.4" rx="1.4" ry="0.8" fill="#b5c1cb" opacity="0.83" transform="rotate(7 386.3 539.4)"/><ellipse cx="488.5" cy="522.3" rx="1.4" ry="0.7" fill="#7f93ab" opacity="0.60" transform="rotate(79 488.5 522.3)"/><ellipse cx="431.2" cy="534.2" rx="1.5" ry="0.7" fill="#aab8c5" opacity="0.86" transform="rotate(6 431.2 534.2)"/><ellipse cx="372.0" cy="524.3" rx="2.0" ry="1.0" fill="#b5c1cb" opacity="0.51" transform="rotate(27 372.0 524.3)"/><ellipse cx="486.1" cy="534.8" rx="1.3" ry="0.6" fill="#9eb0c1" opacity="0.60" transform="rotate(84 486.1 534.8)"/><ellipse cx="362.9" cy="441.8" rx="1.1" ry="0.9" fill="#8fa3b8" opacity="0.70" transform="rotate(131 362.9 441.8)"/><ellipse cx="489.8" cy="533.0" rx="2.3" ry="1.0" fill="#9eb0c1" opacity="0.63" transform="rotate(76 489.8 533.0)"/><ellipse cx="305.6" cy="468.3" rx="1.2" ry="0.9" fill="#9eb0c1" opacity="0.80" transform="rotate(86 305.6 468.3)"/><ellipse cx="448.6" cy="456.1" rx="1.8" ry="1.1" fill="#94a8bb" opacity="0.74" transform="rotate(75 448.6 456.1)"/><ellipse cx="308.1" cy="422.9" rx="2.4" ry="0.7" fill="#aab8c5" opacity="0.70" transform="rotate(-38 308.1 422.9)"/><ellipse cx="440.5" cy="468.0" rx="1.4" ry="0.9" fill="#7f93ab" opacity="0.66" transform="rotate(138 440.5 468.0)"/><ellipse cx="357.7" cy="520.7" rx="1.8" ry="0.7" fill="#b5c1cb" opacity="0.65" transform="rotate(9 357.7 520.7)"/><ellipse cx="393.7" cy="470.6" rx="1.4" ry="0.9" fill="#aab8c5" opacity="0.83" transform="rotate(68 393.7 470.6)"/><ellipse cx="398.2" cy="489.5" rx="2.2" ry="1.0" fill="#aab8c5" opacity="0.67" transform="rotate(155 398.2 489.5)"/><ellipse cx="312.1" cy="448.6" rx="2.5" ry="1.1" fill="#aab8c5" opacity="0.51" transform="rotate(-38 312.1 448.6)"/><ellipse cx="362.2" cy="421.2" rx="1.6" ry="0.6" fill="#9eb0c1" opacity="0.83" transform="rotate(179 362.2 421.2)"/><ellipse cx="468.4" cy="514.6" rx="1.7" ry="1.0" fill="#7f93ab" opacity="0.60" transform="rotate(3 468.4 514.6)"/><ellipse cx="372.0" cy="527.5" rx="2.4" ry="0.6" fill="#7f93ab" opacity="0.86" transform="rotate(8 372.0 527.5)"/><ellipse cx="350.9" cy="406.0" rx="2.5" ry="0.8" fill="#8fa3b8" opacity="0.75" transform="rotate(45 350.9 406.0)"/><ellipse cx="348.5" cy="502.0" rx="1.1" ry="0.7" fill="#7f93ab" opacity="0.76" transform="rotate(108 348.5 502.0)"/><ellipse cx="368.5" cy="545.4" rx="1.8" ry="0.6" fill="#aab8c5" opacity="0.82" transform="rotate(20 368.5 545.4)"/><ellipse cx="405.3" cy="411.2" rx="1.4" ry="1.0" fill="#aab8c5" opacity="0.75" transform="rotate(72 405.3 411.2)"/><ellipse cx="399.3" cy="499.1" rx="2.3" ry="0.7" fill="#94a8bb" opacity="0.64" transform="rotate(32 399.3 499.1)"/><ellipse cx="367.6" cy="415.8" rx="2.3" ry="0.9" fill="#aab8c5" opacity="0.57" transform="rotate(61 367.6 415.8)"/><ellipse cx="456.5" cy="509.4" rx="2.2" ry="0.6" fill="#9eb0c1" opacity="0.53" transform="rotate(124 456.5 509.4)"/><ellipse cx="315.2" cy="539.6" rx="1.9" ry="0.7" fill="#9eb0c1" opacity="0.77" transform="rotate(8 315.2 539.6)"/><ellipse cx="480.1" cy="470.4" rx="1.5" ry="0.9" fill="#94a8bb" opacity="0.81" transform="rotate(75 480.1 470.4)"/><ellipse cx="479.9" cy="526.3" rx="1.2" ry="0.6" fill="#94a8bb" opacity="0.52" transform="rotate(86 479.9 526.3)"/><ellipse cx="451.4" cy="428.2" rx="1.1" ry="1.0" fill="#9eb0c1" opacity="0.68" transform="rotate(15 451.4 428.2)"/><ellipse cx="376.7" cy="503.0" rx="1.2" ry="0.6" fill="#94a8bb" opacity="0.82" transform="rotate(128 376.7 503.0)"/><ellipse cx="384.7" cy="529.7" rx="1.2" ry="0.9" fill="#8fa3b8" opacity="0.86" transform="rotate(-9 384.7 529.7)"/><ellipse cx="349.3" cy="399.9" rx="2.5" ry="0.7" fill="#9eb0c1" opacity="0.49" transform="rotate(-64 349.3 399.9)"/><ellipse cx="397.2" cy="471.4" rx="1.8" ry="0.7" fill="#7f93ab" opacity="0.64" transform="rotate(61 397.2 471.4)"/><ellipse cx="366.6" cy="510.8" rx="1.9" ry="0.7" fill="#7f93ab" opacity="0.66" transform="rotate(166 366.6 510.8)"/><ellipse cx="378.1" cy="528.2" rx="2.1" ry="1.0" fill="#94a8bb" opacity="0.71" transform="rotate(-2 378.1 528.2)"/><ellipse cx="334.8" cy="520.0" rx="2.0" ry="0.9" fill="#aab8c5" opacity="0.88" transform="rotate(92 334.8 520.0)"/><ellipse cx="467.0" cy="431.3" rx="1.5" ry="1.0" fill="#b5c1cb" opacity="0.79" transform="rotate(115 467.0 431.3)"/><ellipse cx="351.9" cy="477.7" rx="1.3" ry="0.8" fill="#7f93ab" opacity="0.83" transform="rotate(166 351.9 477.7)"/><ellipse cx="344.2" cy="452.6" rx="1.6" ry="1.0" fill="#8fa3b8" opacity="0.52" transform="rotate(180 344.2 452.6)"/><ellipse cx="408.2" cy="500.7" rx="1.5" ry="0.6" fill="#aab8c5" opacity="0.69" transform="rotate(158 408.2 500.7)"/><ellipse cx="487.3" cy="472.2" rx="1.9" ry="0.7" fill="#7f93ab" opacity="0.64" transform="rotate(70 487.3 472.2)"/><ellipse cx="415.0" cy="516.9" rx="1.5" ry="0.6" fill="#7f93ab" opacity="0.56" transform="rotate(7 415.0 516.9)"/><ellipse cx="423.4" cy="475.3" rx="1.3" ry="0.9" fill="#9eb0c1" opacity="0.69" transform="rotate(85 423.4 475.3)"/><ellipse cx="492.9" cy="537.0" rx="1.8" ry="0.7" fill="#aab8c5" opacity="0.79" transform="rotate(72 492.9 537.0)"/><ellipse cx="446.8" cy="541.6" rx="1.6" ry="1.0" fill="#aab8c5" opacity="0.57" transform="rotate(-3 446.8 541.6)"/><ellipse cx="430.7" cy="490.1" rx="2.3" ry="1.0" fill="#8fa3b8" opacity="0.52" transform="rotate(87 430.7 490.1)"/><ellipse cx="333.1" cy="466.0" rx="2.1" ry="0.6" fill="#9eb0c1" opacity="0.48" transform="rotate(14 333.1 466.0)"/><ellipse cx="389.3" cy="524.7" rx="1.4" ry="0.9" fill="#8fa3b8" opacity="0.48" transform="rotate(9 389.3 524.7)"/><ellipse cx="307.1" cy="534.1" rx="1.5" ry="0.8" fill="#7f93ab" opacity="0.59" transform="rotate(6 307.1 534.1)"/><ellipse cx="355.5" cy="524.3" rx="1.6" ry="0.6" fill="#94a8bb" opacity="0.65" transform="rotate(153 355.5 524.3)"/><ellipse cx="387.2" cy="397.3" rx="2.4" ry="1.0" fill="#9eb0c1" opacity="0.77" transform="rotate(93 387.2 397.3)"/><ellipse cx="465.9" cy="507.1" rx="1.4" ry="0.9" fill="#9eb0c1" opacity="0.58" transform="rotate(46 465.9 507.1)"/><ellipse cx="308.3" cy="525.2" rx="1.7" ry="0.9" fill="#9eb0c1" opacity="0.70" transform="rotate(-1 308.3 525.2)"/><ellipse cx="335.6" cy="518.7" rx="2.3" ry="0.8" fill="#94a8bb" opacity="0.47" transform="rotate(98 335.6 518.7)"/><ellipse cx="342.2" cy="427.4" rx="2.3" ry="0.7" fill="#7f93ab" opacity="0.71" transform="rotate(-74 342.2 427.4)"/><ellipse cx="446.7" cy="478.5" rx="2.1" ry="0.6" fill="#aab8c5" opacity="0.86" transform="rotate(95 446.7 478.5)"/><ellipse cx="357.1" cy="403.2" rx="2.0" ry="0.9" fill="#7f93ab" opacity="0.64" transform="rotate(57 357.1 403.2)"/><ellipse cx="397.6" cy="484.4" rx="1.3" ry="0.6" fill="#94a8bb" opacity="0.69" transform="rotate(97 397.6 484.4)"/><ellipse cx="440.4" cy="456.6" rx="1.4" ry="0.9" fill="#7f93ab" opacity="0.84" transform="rotate(3 440.4 456.6)"/><ellipse cx="423.8" cy="479.7" rx="2.5" ry="0.6" fill="#b5c1cb" opacity="0.78" transform="rotate(117 423.8 479.7)"/><ellipse cx="356.7" cy="501.9" rx="2.3" ry="0.8" fill="#8fa3b8" opacity="0.85" transform="rotate(155 356.7 501.9)"/><ellipse cx="356.5" cy="497.8" rx="2.2" ry="0.7" fill="#8fa3b8" opacity="0.63" transform="rotate(41 356.5 497.8)"/><ellipse cx="445.9" cy="409.2" rx="1.2" ry="0.7" fill="#94a8bb" opacity="0.89" transform="rotate(36 445.9 409.2)"/><ellipse cx="333.4" cy="397.9" rx="2.3" ry="0.6" fill="#7f93ab" opacity="0.87" transform="rotate(-41 333.4 397.9)"/><ellipse cx="418.3" cy="496.1" rx="2.5" ry="1.0" fill="#b5c1cb" opacity="0.55" transform="rotate(11 418.3 496.1)"/><ellipse cx="433.7" cy="414.3" rx="1.5" ry="0.6" fill="#7f93ab" opacity="0.57" transform="rotate(168 433.7 414.3)"/><ellipse cx="350.2" cy="504.5" rx="1.6" ry="0.9" fill="#aab8c5" opacity="0.64" transform="rotate(153 350.2 504.5)"/><ellipse cx="416.0" cy="434.0" rx="2.1" ry="0.6" fill="#9eb0c1" opacity="0.54" transform="rotate(7 416.0 434.0)"/><ellipse cx="446.9" cy="473.7" rx="2.0" ry="0.9" fill="#9eb0c1" opacity="0.73" transform="rotate(61 446.9 473.7)"/><ellipse cx="483.5" cy="505.6" rx="1.3" ry="0.7" fill="#94a8bb" opacity="0.85" transform="rotate(74 483.5 505.6)"/><ellipse cx="491.9" cy="427.7" rx="1.4" ry="0.6" fill="#b5c1cb" opacity="0.73" transform="rotate(74 491.9 427.7)"/><ellipse cx="305.0" cy="492.7" rx="1.8" ry="0.9" fill="#9eb0c1" opacity="0.89" transform="rotate(171 305.0 492.7)"/><ellipse cx="449.1" cy="536.1" rx="2.0" ry="1.1" fill="#b5c1cb" opacity="0.75" transform="rotate(-4 449.1 536.1)"/><ellipse cx="392.3" cy="474.5" rx="1.7" ry="0.7" fill="#aab8c5" opacity="0.50" transform="rotate(69 392.3 474.5)"/><ellipse cx="471.6" cy="501.0" rx="2.4" ry="0.9" fill="#7f93ab" opacity="0.89" transform="rotate(83 471.6 501.0)"/><ellipse cx="456.2" cy="544.2" rx="2.4" ry="0.7" fill="#9eb0c1" opacity="0.55" transform="rotate(27 456.2 544.2)"/><ellipse cx="380.3" cy="523.7" rx="1.7" ry="0.9" fill="#94a8bb" opacity="0.53" transform="rotate(10 380.3 523.7)"/><ellipse cx="443.9" cy="421.3" rx="1.4" ry="0.9" fill="#7f93ab" opacity="0.70" transform="rotate(111 443.9 421.3)"/><ellipse cx="314.4" cy="448.1" rx="1.1" ry="0.6" fill="#7f93ab" opacity="0.52" transform="rotate(-50 314.4 448.1)"/><ellipse cx="448.3" cy="413.5" rx="1.2" ry="0.9" fill="#8fa3b8" opacity="0.86" transform="rotate(147 448.3 413.5)"/><ellipse cx="468.0" cy="410.1" rx="1.7" ry="0.6" fill="#7f93ab" opacity="0.84" transform="rotate(34 468.0 410.1)"/><ellipse cx="306.2" cy="441.7" rx="1.7" ry="0.6" fill="#94a8bb" opacity="0.80" transform="rotate(-73 306.2 441.7)"/><ellipse cx="432.7" cy="424.1" rx="2.1" ry="0.9" fill="#7f93ab" opacity="0.45" transform="rotate(44 432.7 424.1)"/><ellipse cx="336.3" cy="453.4" rx="1.5" ry="0.6" fill="#b5c1cb" opacity="0.60" transform="rotate(28 336.3 453.4)"/><ellipse cx="397.8" cy="471.5" rx="2.4" ry="0.7" fill="#7f93ab" opacity="0.85" transform="rotate(53 397.8 471.5)"/><ellipse cx="460.7" cy="491.4" rx="1.6" ry="0.7" fill="#9eb0c1" opacity="0.48" transform="rotate(167 460.7 491.4)"/><ellipse cx="401.4" cy="473.3" rx="1.6" ry="0.8" fill="#9eb0c1" opacity="0.50" transform="rotate(56 401.4 473.3)"/><ellipse cx="415.2" cy="503.6" rx="2.2" ry="0.6" fill="#9eb0c1" opacity="0.87" transform="rotate(79 415.2 503.6)"/><ellipse cx="469.6" cy="397.1" rx="1.7" ry="0.9" fill="#b5c1cb" opacity="0.62" transform="rotate(118 469.6 397.1)"/><ellipse cx="462.9" cy="469.8" rx="2.2" ry="0.7" fill="#aab8c5" opacity="0.58" transform="rotate(165 462.9 469.8)"/><ellipse cx="304.8" cy="533.5" rx="2.3" ry="0.8" fill="#7f93ab" opacity="0.86" transform="rotate(19 304.8 533.5)"/><ellipse cx="455.8" cy="401.7" rx="2.1" ry="0.8" fill="#aab8c5" opacity="0.57" transform="rotate(164 455.8 401.7)"/><ellipse cx="386.4" cy="451.7" rx="1.6" ry="1.0" fill="#94a8bb" opacity="0.53" transform="rotate(78 386.4 451.7)"/><ellipse cx="421.6" cy="500.3" rx="1.2" ry="1.0" fill="#aab8c5" opacity="0.70" transform="rotate(49 421.6 500.3)"/><ellipse cx="431.1" cy="473.4" rx="2.5" ry="0.7" fill="#8fa3b8" opacity="0.57" transform="rotate(42 431.1 473.4)"/><ellipse cx="443.7" cy="426.8" rx="1.2" ry="0.8" fill="#b5c1cb" opacity="0.59" transform="rotate(124 443.7 426.8)"/><ellipse cx="376.9" cy="400.8" rx="1.8" ry="1.0" fill="#94a8bb" opacity="0.57" transform="rotate(175 376.9 400.8)"/><ellipse cx="472.5" cy="470.0" rx="1.9" ry="0.7" fill="#8fa3b8" opacity="0.76" transform="rotate(71 472.5 470.0)"/><ellipse cx="410.9" cy="522.1" rx="1.6" ry="1.1" fill="#9eb0c1" opacity="0.53" transform="rotate(55 410.9 522.1)"/><ellipse cx="472.0" cy="527.5" rx="1.9" ry="0.8" fill="#7f93ab" opacity="0.70" transform="rotate(74 472.0 527.5)"/><ellipse cx="395.8" cy="427.8" rx="1.4" ry="0.7" fill="#9eb0c1" opacity="0.53" transform="rotate(101 395.8 427.8)"/><ellipse cx="362.0" cy="426.3" rx="2.0" ry="0.9" fill="#8fa3b8" opacity="0.63" transform="rotate(163 362.0 426.3)"/><ellipse cx="362.2" cy="536.5" rx="2.1" ry="0.8" fill="#9eb0c1" opacity="0.47" transform="rotate(4 362.2 536.5)"/><ellipse cx="424.8" cy="420.8" rx="1.2" ry="0.7" fill="#9eb0c1" opacity="0.50" transform="rotate(86 424.8 420.8)"/><ellipse cx="392.7" cy="488.7" rx="2.3" ry="0.8" fill="#aab8c5" opacity="0.69" transform="rotate(138 392.7 488.7)"/><ellipse cx="383.4" cy="496.6" rx="1.5" ry="0.6" fill="#7f93ab" opacity="0.57" transform="rotate(84 383.4 496.6)"/><ellipse cx="322.2" cy="543.3" rx="2.4" ry="0.6" fill="#7f93ab" opacity="0.74" transform="rotate(15 322.2 543.3)"/><ellipse cx="315.4" cy="427.3" rx="1.9" ry="0.6" fill="#aab8c5" opacity="0.51" transform="rotate(-42 315.4 427.3)"/><ellipse cx="445.5" cy="540.0" rx="1.9" ry="0.7" fill="#9eb0c1" opacity="0.78" transform="rotate(-3 445.5 540.0)"/><ellipse cx="424.0" cy="512.6" rx="2.1" ry="0.7" fill="#9eb0c1" opacity="0.45" transform="rotate(176 424.0 512.6)"/><ellipse cx="407.1" cy="518.9" rx="1.1" ry="0.8" fill="#9eb0c1" opacity="0.62" transform="rotate(154 407.1 518.9)"/><ellipse cx="464.2" cy="539.3" rx="1.4" ry="1.0" fill="#7f93ab" opacity="0.86" transform="rotate(22 464.2 539.3)"/><ellipse cx="447.0" cy="448.5" rx="2.0" ry="0.9" fill="#94a8bb" opacity="0.71" transform="rotate(136 447.0 448.5)"/><ellipse cx="316.3" cy="455.5" rx="1.4" ry="0.7" fill="#b5c1cb" opacity="0.70" transform="rotate(173 316.3 455.5)"/><ellipse cx="420.4" cy="452.0" rx="1.5" ry="0.9" fill="#8fa3b8" opacity="0.69" transform="rotate(74 420.4 452.0)"/><ellipse cx="333.0" cy="403.0" rx="1.3" ry="1.1" fill="#94a8bb" opacity="0.55" transform="rotate(-66 333.0 403.0)"/><ellipse cx="419.4" cy="399.9" rx="2.0" ry="0.8" fill="#b5c1cb" opacity="0.66" transform="rotate(157 419.4 399.9)"/><ellipse cx="461.5" cy="460.3" rx="1.5" ry="0.7" fill="#8fa3b8" opacity="0.70" transform="rotate(43 461.5 460.3)"/><ellipse cx="398.5" cy="489.7" rx="1.5" ry="0.9" fill="#94a8bb" opacity="0.57" transform="rotate(149 398.5 489.7)"/><ellipse cx="372.3" cy="538.2" rx="1.9" ry="0.7" fill="#7f93ab" opacity="0.53" transform="rotate(13 372.3 538.2)"/><ellipse cx="312.6" cy="528.7" rx="2.2" ry="1.1" fill="#94a8bb" opacity="0.57" transform="rotate(23 312.6 528.7)"/><ellipse cx="407.0" cy="434.6" rx="2.2" ry="0.6" fill="#9eb0c1" opacity="0.77" transform="rotate(40 407.0 434.6)"/><ellipse cx="434.6" cy="534.4" rx="2.4" ry="0.9" fill="#94a8bb" opacity="0.82" transform="rotate(-10 434.6 534.4)"/><ellipse cx="368.2" cy="425.4" rx="1.2" ry="1.0" fill="#b5c1cb" opacity="0.66" transform="rotate(107 368.2 425.4)"/><ellipse cx="482.5" cy="481.8" rx="2.2" ry="1.0" fill="#9eb0c1" opacity="0.71" transform="rotate(79 482.5 481.8)"/><ellipse cx="430.7" cy="534.2" rx="1.2" ry="0.8" fill="#9eb0c1" opacity="0.52" transform="rotate(8 430.7 534.2)"/><ellipse cx="388.8" cy="543.4" rx="1.3" ry="1.1" fill="#94a8bb" opacity="0.61" transform="rotate(16 388.8 543.4)"/><ellipse cx="325.8" cy="488.1" rx="2.0" ry="1.0" fill="#7f93ab" opacity="0.86" transform="rotate(25 325.8 488.1)"/><ellipse cx="343.3" cy="416.0" rx="1.3" ry="0.7" fill="#94a8bb" opacity="0.54" transform="rotate(-38 343.3 416.0)"/><ellipse cx="489.3" cy="521.0" rx="1.6" ry="1.0" fill="#7f93ab" opacity="0.62" transform="rotate(80 489.3 521.0)"/><ellipse cx="490.1" cy="408.1" rx="2.3" ry="0.6" fill="#9eb0c1" opacity="0.67" transform="rotate(71 490.1 408.1)"/><ellipse cx="323.4" cy="510.9" rx="2.0" ry="0.7" fill="#aab8c5" opacity="0.86" transform="rotate(33 323.4 510.9)"/><ellipse cx="431.2" cy="440.6" rx="1.6" ry="0.8" fill="#9eb0c1" opacity="0.78" transform="rotate(164 431.2 440.6)"/><ellipse cx="387.5" cy="416.7" rx="1.4" ry="0.9" fill="#7f93ab" opacity="0.48" transform="rotate(166 387.5 416.7)"/><ellipse cx="343.4" cy="465.5" rx="1.1" ry="0.7" fill="#7f93ab" opacity="0.61" transform="rotate(50 343.4 465.5)"/><ellipse cx="333.9" cy="522.6" rx="1.1" ry="0.6" fill="#8fa3b8" opacity="0.49" transform="rotate(48 333.9 522.6)"/><ellipse cx="409.0" cy="435.5" rx="2.0" ry="0.8" fill="#7f93ab" opacity="0.45" transform="rotate(55 409.0 435.5)"/><ellipse cx="482.5" cy="531.5" rx="1.8" ry="0.8" fill="#94a8bb" opacity="0.83" transform="rotate(72 482.5 531.5)"/><ellipse cx="405.4" cy="448.7" rx="1.4" ry="0.7" fill="#9eb0c1" opacity="0.67" transform="rotate(71 405.4 448.7)"/><ellipse cx="344.7" cy="526.1" rx="2.0" ry="0.7" fill="#9eb0c1" opacity="0.57" transform="rotate(18 344.7 526.1)"/><ellipse cx="331.3" cy="518.2" rx="1.6" ry="0.9" fill="#b5c1cb" opacity="0.63" transform="rotate(123 331.3 518.2)"/><ellipse cx="418.0" cy="453.4" rx="2.3" ry="0.6" fill="#9eb0c1" opacity="0.60" transform="rotate(58 418.0 453.4)"/><ellipse cx="305.2" cy="402.7" rx="1.7" ry="0.9" fill="#94a8bb" opacity="0.55" transform="rotate(-64 305.2 402.7)"/><ellipse cx="400.3" cy="481.4" rx="1.2" ry="1.0" fill="#94a8bb" opacity="0.61" transform="rotate(25 400.3 481.4)"/><ellipse cx="416.4" cy="429.3" rx="2.4" ry="1.0" fill="#8fa3b8" opacity="0.61" transform="rotate(42 416.4 429.3)"/><ellipse cx="334.2" cy="492.1" rx="2.4" ry="0.6" fill="#9eb0c1" opacity="0.67" transform="rotate(159 334.2 492.1)"/><ellipse cx="457.3" cy="421.7" rx="2.0" ry="0.8" fill="#94a8bb" opacity="0.66" transform="rotate(7 457.3 421.7)"/><ellipse cx="434.6" cy="459.5" rx="2.3" ry="0.6" fill="#aab8c5" opacity="0.59" transform="rotate(59 434.6 459.5)"/><ellipse cx="382.1" cy="416.7" rx="1.8" ry="0.6" fill="#8fa3b8" opacity="0.57" transform="rotate(79 382.1 416.7)"/><ellipse cx="485.6" cy="408.8" rx="2.4" ry="1.1" fill="#9eb0c1" opacity="0.88" transform="rotate(91 485.6 408.8)"/><ellipse cx="382.6" cy="455.8" rx="2.3" ry="0.6" fill="#7f93ab" opacity="0.65" transform="rotate(90 382.6 455.8)"/><ellipse cx="422.6" cy="451.1" rx="2.4" ry="0.9" fill="#aab8c5" opacity="0.59" transform="rotate(19 422.6 451.1)"/><ellipse cx="377.9" cy="459.7" rx="2.2" ry="0.9" fill="#aab8c5" opacity="0.55" transform="rotate(36 377.9 459.7)"/><ellipse cx="476.2" cy="397.2" rx="2.4" ry="0.6" fill="#aab8c5" opacity="0.67" transform="rotate(84 476.2 397.2)"/><ellipse cx="425.2" cy="457.5" rx="2.5" ry="1.1" fill="#8fa3b8" opacity="0.64" transform="rotate(84 425.2 457.5)"/><ellipse cx="490.1" cy="424.6" rx="1.1" ry="0.6" fill="#8fa3b8" opacity="0.73" transform="rotate(94 490.1 424.6)"/><ellipse cx="325.1" cy="399.9" rx="2.2" ry="1.0" fill="#8fa3b8" opacity="0.47" transform="rotate(-44 325.1 399.9)"/><ellipse cx="382.4" cy="444.7" rx="1.8" ry="0.7" fill="#94a8bb" opacity="0.69" transform="rotate(49 382.4 444.7)"/><ellipse cx="364.1" cy="427.3" rx="2.1" ry="1.1" fill="#8fa3b8" opacity="0.87" transform="rotate(108 364.1 427.3)"/><ellipse cx="376.8" cy="433.0" rx="1.4" ry="0.7" fill="#aab8c5" opacity="0.62" transform="rotate(55 376.8 433.0)"/><ellipse cx="303.0" cy="402.0" rx="1.7" ry="1.0" fill="#9eb0c1" opacity="0.61" transform="rotate(-51 303.0 402.0)"/><ellipse cx="453.2" cy="512.5" rx="2.2" ry="1.1" fill="#9eb0c1" opacity="0.82" transform="rotate(42 453.2 512.5)"/><ellipse cx="378.5" cy="442.5" rx="1.8" ry="0.9" fill="#7f93ab" opacity="0.89" transform="rotate(94 378.5 442.5)"/><ellipse cx="469.1" cy="535.1" rx="2.3" ry="1.1" fill="#9eb0c1" opacity="0.85" transform="rotate(-10 469.1 535.1)"/><ellipse cx="471.5" cy="424.6" rx="2.0" ry="1.0" fill="#b5c1cb" opacity="0.78" transform="rotate(68 471.5 424.6)"/><ellipse cx="469.8" cy="496.2" rx="1.4" ry="0.7" fill="#94a8bb" opacity="0.56" transform="rotate(24 469.8 496.2)"/><ellipse cx="352.2" cy="414.8" rx="1.5" ry="0.9" fill="#7f93ab" opacity="0.88" transform="rotate(69 352.2 414.8)"/><ellipse cx="375.2" cy="413.1" rx="1.2" ry="0.6" fill="#b5c1cb" opacity="0.49" transform="rotate(123 375.2 413.1)"/><ellipse cx="434.9" cy="522.4" rx="2.2" ry="1.1" fill="#9eb0c1" opacity="0.60" transform="rotate(158 434.9 522.4)"/><ellipse cx="419.1" cy="536.6" rx="2.1" ry="0.9" fill="#8fa3b8" opacity="0.55" transform="rotate(24 419.1 536.6)"/><ellipse cx="412.0" cy="405.3" rx="1.3" ry="0.7" fill="#94a8bb" opacity="0.55" transform="rotate(7 412.0 405.3)"/><ellipse cx="353.4" cy="510.6" rx="2.4" ry="0.8" fill="#7f93ab" opacity="0.71" transform="rotate(40 353.4 510.6)"/><ellipse cx="446.1" cy="471.9" rx="1.2" ry="0.7" fill="#94a8bb" opacity="0.82" transform="rotate(173 446.1 471.9)"/><ellipse cx="415.5" cy="483.6" rx="1.9" ry="0.7" fill="#7f93ab" opacity="0.86" transform="rotate(157 415.5 483.6)"/><ellipse cx="384.9" cy="399.4" rx="2.0" ry="0.7" fill="#9eb0c1" opacity="0.69" transform="rotate(144 384.9 399.4)"/><ellipse cx="380.7" cy="401.9" rx="1.6" ry="0.7" fill="#8fa3b8" opacity="0.50" transform="rotate(38 380.7 401.9)"/><ellipse cx="460.2" cy="438.1" rx="1.3" ry="0.8" fill="#9eb0c1" opacity="0.54" transform="rotate(104 460.2 438.1)"/><ellipse cx="417.9" cy="481.8" rx="2.1" ry="0.7" fill="#8fa3b8" opacity="0.85" transform="rotate(165 417.9 481.8)"/><ellipse cx="370.9" cy="462.9" rx="1.8" ry="0.7" fill="#8fa3b8" opacity="0.55" transform="rotate(161 370.9 462.9)"/><ellipse cx="328.9" cy="488.2" rx="2.3" ry="0.9" fill="#7f93ab" opacity="0.81" transform="rotate(33 328.9 488.2)"/><ellipse cx="397.2" cy="498.4" rx="2.5" ry="0.6" fill="#8fa3b8" opacity="0.65" transform="rotate(139 397.2 498.4)"/><ellipse cx="340.0" cy="459.0" rx="1.3" ry="1.0" fill="#7f93ab" opacity="0.71" transform="rotate(144 340.0 459.0)"/><ellipse cx="338.9" cy="493.3" rx="1.5" ry="0.8" fill="#8fa3b8" opacity="0.75" transform="rotate(152 338.9 493.3)"/>
</g>
<g filter="url(#b2)">
<ellipse cx="443.7" cy="435.6" rx="4.2" ry="3.3" fill="#afbcc6" opacity="0.61" transform="rotate(140 443.7 435.6)"/><ellipse cx="437.7" cy="460.1" rx="3.3" ry="2.6" fill="#bca591" opacity="0.61" transform="rotate(100 437.7 460.1)"/><ellipse cx="430.3" cy="428.1" rx="3.1" ry="2.3" fill="#cfbfb2" opacity="0.61" transform="rotate(40 430.3 428.1)"/><ellipse cx="417.2" cy="439.7" rx="3.1" ry="2.3" fill="#a7b7c4" opacity="0.52" transform="rotate(40 417.2 439.7)"/><ellipse cx="448.3" cy="461.1" rx="3.1" ry="2.6" fill="#b5c0c8" opacity="0.64" transform="rotate(20 448.3 461.1)"/><ellipse cx="477.7" cy="427.7" rx="2.4" ry="2.7" fill="#cfbfb2" opacity="0.56" transform="rotate(160 477.7 427.7)"/><ellipse cx="415.0" cy="407.9" rx="2.5" ry="3.0" fill="#c2a58e" opacity="0.70" transform="rotate(100 415.0 407.9)"/><ellipse cx="459.6" cy="433.0" rx="3.1" ry="2.2" fill="#bca591" opacity="0.46" transform="rotate(60 459.6 433.0)"/><ellipse cx="432.5" cy="456.1" rx="3.0" ry="2.4" fill="#c7b3a3" opacity="0.56" transform="rotate(100 432.5 456.1)"/><ellipse cx="466.8" cy="444.3" rx="3.2" ry="2.3" fill="#cfbfb2" opacity="0.70" transform="rotate(60 466.8 444.3)"/><ellipse cx="452.8" cy="399.4" rx="3.0" ry="2.7" fill="#b5c0c8" opacity="0.59" transform="rotate(140 452.8 399.4)"/><ellipse cx="416.9" cy="446.1" rx="3.8" ry="3.3" fill="#c2a58e" opacity="0.63" transform="rotate(100 416.9 446.1)"/><ellipse cx="485.4" cy="439.8" rx="2.4" ry="2.7" fill="#bca591" opacity="0.53" transform="rotate(80 485.4 439.8)"/><ellipse cx="412.8" cy="426.0" rx="3.9" ry="2.9" fill="#c7b3a3" opacity="0.79" transform="rotate(20 412.8 426.0)"/><ellipse cx="485.3" cy="427.2" rx="3.6" ry="3.2" fill="#bca591" opacity="0.49" transform="rotate(0 485.3 427.2)"/><ellipse cx="434.4" cy="443.7" rx="3.4" ry="2.1" fill="#b5c0c8" opacity="0.53" transform="rotate(160 434.4 443.7)"/><ellipse cx="428.4" cy="431.2" rx="4.2" ry="2.3" fill="#bca591" opacity="0.75" transform="rotate(100 428.4 431.2)"/><ellipse cx="456.7" cy="415.8" rx="3.9" ry="2.8" fill="#bca591" opacity="0.70" transform="rotate(160 456.7 415.8)"/><ellipse cx="435.0" cy="446.2" rx="3.3" ry="2.3" fill="#bca591" opacity="0.50" transform="rotate(0 435.0 446.2)"/><ellipse cx="412.0" cy="412.0" rx="4.0" ry="3.4" fill="#cfbfb2" opacity="0.52" transform="rotate(40 412.0 412.0)"/><ellipse cx="440.3" cy="442.6" rx="3.0" ry="3.3" fill="#cfbfb2" opacity="0.60" transform="rotate(0 440.3 442.6)"/><ellipse cx="458.9" cy="417.5" rx="3.1" ry="1.9" fill="#c2a58e" opacity="0.58" transform="rotate(140 458.9 417.5)"/><ellipse cx="455.2" cy="412.1" rx="3.0" ry="2.4" fill="#c2a58e" opacity="0.62" transform="rotate(140 455.2 412.1)"/><ellipse cx="418.6" cy="457.1" rx="2.7" ry="2.8" fill="#b5c0c8" opacity="0.57" transform="rotate(0 418.6 457.1)"/><ellipse cx="415.6" cy="456.1" rx="2.3" ry="2.9" fill="#cfbfb2" opacity="0.75" transform="rotate(140 415.6 456.1)"/><ellipse cx="416.5" cy="447.9" rx="2.5" ry="2.3" fill="#c7b3a3" opacity="0.77" transform="rotate(80 416.5 447.9)"/><ellipse cx="426.0" cy="457.1" rx="2.3" ry="3.1" fill="#c2a58e" opacity="0.55" transform="rotate(60 426.0 457.1)"/><ellipse cx="433.8" cy="424.9" rx="4.0" ry="2.2" fill="#a7b7c4" opacity="0.78" transform="rotate(140 433.8 424.9)"/><ellipse cx="448.3" cy="454.8" rx="3.4" ry="2.5" fill="#c7b3a3" opacity="0.61" transform="rotate(100 448.3 454.8)"/><ellipse cx="429.4" cy="430.7" rx="2.2" ry="3.2" fill="#c2a58e" opacity="0.62" transform="rotate(20 429.4 430.7)"/><ellipse cx="436.9" cy="463.7" rx="2.8" ry="3.2" fill="#cfbfb2" opacity="0.51" transform="rotate(0 436.9 463.7)"/><ellipse cx="457.6" cy="457.8" rx="3.7" ry="2.5" fill="#c2a58e" opacity="0.78" transform="rotate(100 457.6 457.8)"/><ellipse cx="432.2" cy="404.4" rx="3.0" ry="1.9" fill="#afbcc6" opacity="0.45" transform="rotate(80 432.2 404.4)"/><ellipse cx="461.7" cy="417.1" rx="3.9" ry="2.8" fill="#cfbfb2" opacity="0.63" transform="rotate(80 461.7 417.1)"/><ellipse cx="405.1" cy="437.5" rx="2.3" ry="2.1" fill="#b5c0c8" opacity="0.75" transform="rotate(60 405.1 437.5)"/><ellipse cx="471.4" cy="427.7" rx="3.5" ry="2.0" fill="#a7b7c4" opacity="0.55" transform="rotate(40 471.4 427.7)"/><ellipse cx="436.9" cy="399.0" rx="2.3" ry="3.1" fill="#c2a58e" opacity="0.73" transform="rotate(20 436.9 399.0)"/><ellipse cx="435.1" cy="427.8" rx="3.3" ry="2.8" fill="#b5c0c8" opacity="0.52" transform="rotate(60 435.1 427.8)"/><ellipse cx="465.8" cy="417.2" rx="2.9" ry="2.2" fill="#a7b7c4" opacity="0.54" transform="rotate(140 465.8 417.2)"/><ellipse cx="433.9" cy="443.2" rx="3.8" ry="1.8" fill="#bca591" opacity="0.58" transform="rotate(140 433.9 443.2)"/><ellipse cx="444.0" cy="424.1" rx="2.8" ry="2.2" fill="#cfbfb2" opacity="0.54" transform="rotate(40 444.0 424.1)"/><ellipse cx="440.9" cy="459.2" rx="2.9" ry="3.2" fill="#cfbfb2" opacity="0.75" transform="rotate(80 440.9 459.2)"/><ellipse cx="474.2" cy="452.8" rx="4.0" ry="1.9" fill="#a7b7c4" opacity="0.70" transform="rotate(60 474.2 452.8)"/><ellipse cx="474.9" cy="421.6" rx="2.6" ry="3.1" fill="#c7b3a3" opacity="0.66" transform="rotate(160 474.9 421.6)"/><ellipse cx="476.2" cy="449.2" rx="2.8" ry="2.8" fill="#a7b7c4" opacity="0.56" transform="rotate(140 476.2 449.2)"/><ellipse cx="430.1" cy="406.9" rx="3.4" ry="2.9" fill="#b5c0c8" opacity="0.67" transform="rotate(60 430.1 406.9)"/><ellipse cx="465.8" cy="437.0" rx="2.8" ry="3.2" fill="#cfbfb2" opacity="0.70" transform="rotate(160 465.8 437.0)"/><ellipse cx="432.6" cy="462.5" rx="3.7" ry="3.4" fill="#c2a58e" opacity="0.50" transform="rotate(120 432.6 462.5)"/><ellipse cx="420.6" cy="411.8" rx="2.8" ry="2.0" fill="#a7b7c4" opacity="0.50" transform="rotate(120 420.6 411.8)"/><ellipse cx="422.3" cy="444.5" rx="2.9" ry="2.2" fill="#b5c0c8" opacity="0.65" transform="rotate(120 422.3 444.5)"/><ellipse cx="422.5" cy="426.4" rx="2.8" ry="3.4" fill="#afbcc6" opacity="0.67" transform="rotate(20 422.5 426.4)"/><ellipse cx="481.1" cy="438.8" rx="3.3" ry="3.3" fill="#a7b7c4" opacity="0.64" transform="rotate(40 481.1 438.8)"/><ellipse cx="467.5" cy="433.8" rx="4.1" ry="2.5" fill="#a7b7c4" opacity="0.54" transform="rotate(160 467.5 433.8)"/><ellipse cx="447.5" cy="430.6" rx="2.2" ry="2.0" fill="#c2a58e" opacity="0.49" transform="rotate(40 447.5 430.6)"/><ellipse cx="477.0" cy="412.1" rx="4.0" ry="1.9" fill="#bca591" opacity="0.74" transform="rotate(100 477.0 412.1)"/><ellipse cx="468.0" cy="413.4" rx="4.1" ry="2.3" fill="#c7b3a3" opacity="0.50" transform="rotate(160 468.0 413.4)"/><ellipse cx="469.3" cy="446.7" rx="3.1" ry="3.4" fill="#c7b3a3" opacity="0.56" transform="rotate(60 469.3 446.7)"/><ellipse cx="456.8" cy="439.5" rx="2.4" ry="2.9" fill="#bca591" opacity="0.59" transform="rotate(60 456.8 439.5)"/><ellipse cx="462.7" cy="433.7" rx="2.7" ry="2.6" fill="#bca591" opacity="0.53" transform="rotate(120 462.7 433.7)"/><ellipse cx="456.4" cy="410.0" rx="3.0" ry="2.0" fill="#b5c0c8" opacity="0.51" transform="rotate(160 456.4 410.0)"/><ellipse cx="427.7" cy="440.8" rx="2.3" ry="2.4" fill="#bca591" opacity="0.70" transform="rotate(140 427.7 440.8)"/><ellipse cx="408.5" cy="419.6" rx="2.4" ry="1.8" fill="#cfbfb2" opacity="0.49" transform="rotate(0 408.5 419.6)"/><ellipse cx="407.2" cy="450.9" rx="3.3" ry="2.1" fill="#a7b7c4" opacity="0.55" transform="rotate(40 407.2 450.9)"/><ellipse cx="441.6" cy="403.5" rx="3.7" ry="2.8" fill="#c7b3a3" opacity="0.48" transform="rotate(140 441.6 403.5)"/><ellipse cx="484.0" cy="437.1" rx="3.8" ry="3.2" fill="#a7b7c4" opacity="0.52" transform="rotate(40 484.0 437.1)"/><ellipse cx="468.5" cy="403.0" rx="3.9" ry="2.2" fill="#c7b3a3" opacity="0.47" transform="rotate(20 468.5 403.0)"/><ellipse cx="457.3" cy="421.3" rx="2.3" ry="2.1" fill="#cfbfb2" opacity="0.59" transform="rotate(80 457.3 421.3)"/><ellipse cx="443.6" cy="431.1" rx="2.6" ry="2.7" fill="#c2a58e" opacity="0.51" transform="rotate(120 443.6 431.1)"/><ellipse cx="436.7" cy="443.9" rx="4.0" ry="3.0" fill="#c2a58e" opacity="0.52" transform="rotate(20 436.7 443.9)"/><ellipse cx="415.5" cy="406.7" rx="3.6" ry="3.3" fill="#bca591" opacity="0.69" transform="rotate(100 415.5 406.7)"/><ellipse cx="404.3" cy="405.2" rx="3.8" ry="2.1" fill="#c7b3a3" opacity="0.48" transform="rotate(140 404.3 405.2)"/><ellipse cx="395.2" cy="464.3" rx="3.9" ry="2.9" fill="#cfbfb2" opacity="0.53" transform="rotate(140 395.2 464.3)"/><ellipse cx="391.8" cy="439.2" rx="2.5" ry="3.0" fill="#c7b3a3" opacity="0.72" transform="rotate(0 391.8 439.2)"/><ellipse cx="396.1" cy="424.5" rx="4.2" ry="3.1" fill="#bca591" opacity="0.61" transform="rotate(120 396.1 424.5)"/><ellipse cx="395.2" cy="463.5" rx="4.1" ry="3.2" fill="#c2a58e" opacity="0.57" transform="rotate(160 395.2 463.5)"/><ellipse cx="385.9" cy="446.8" rx="3.7" ry="3.1" fill="#b5c0c8" opacity="0.48" transform="rotate(60 385.9 446.8)"/><ellipse cx="391.2" cy="402.1" rx="3.4" ry="2.6" fill="#afbcc6" opacity="0.76" transform="rotate(0 391.2 402.1)"/><ellipse cx="390.8" cy="409.4" rx="2.8" ry="3.0" fill="#bca591" opacity="0.67" transform="rotate(80 390.8 409.4)"/><ellipse cx="387.8" cy="438.4" rx="2.7" ry="3.3" fill="#b5c0c8" opacity="0.53" transform="rotate(140 387.8 438.4)"/><ellipse cx="394.1" cy="436.2" rx="3.8" ry="3.1" fill="#c2a58e" opacity="0.59" transform="rotate(100 394.1 436.2)"/><ellipse cx="386.9" cy="449.2" rx="2.4" ry="2.1" fill="#a7b7c4" opacity="0.74" transform="rotate(20 386.9 449.2)"/><ellipse cx="389.6" cy="459.0" rx="2.9" ry="2.9" fill="#c2a58e" opacity="0.53" transform="rotate(160 389.6 459.0)"/><ellipse cx="408.5" cy="424.8" rx="2.5" ry="2.0" fill="#afbcc6" opacity="0.78" transform="rotate(40 408.5 424.8)"/><ellipse cx="387.8" cy="407.5" rx="3.9" ry="2.4" fill="#a7b7c4" opacity="0.74" transform="rotate(160 387.8 407.5)"/><ellipse cx="407.0" cy="457.3" rx="2.5" ry="2.0" fill="#cfbfb2" opacity="0.72" transform="rotate(0 407.0 457.3)"/><ellipse cx="392.8" cy="432.1" rx="3.3" ry="3.2" fill="#afbcc6" opacity="0.55" transform="rotate(120 392.8 432.1)"/><ellipse cx="404.9" cy="418.5" rx="2.4" ry="2.9" fill="#c2a58e" opacity="0.50" transform="rotate(80 404.9 418.5)"/><ellipse cx="402.9" cy="414.0" rx="4.2" ry="2.1" fill="#cfbfb2" opacity="0.74" transform="rotate(160 402.9 414.0)"/><ellipse cx="407.4" cy="492.7" rx="3.6" ry="1.8" fill="#cfbfb2" opacity="0.76" transform="rotate(100 407.4 492.7)"/><ellipse cx="379.5" cy="498.9" rx="2.4" ry="2.1" fill="#a7b7c4" opacity="0.53" transform="rotate(120 379.5 498.9)"/><ellipse cx="423.1" cy="503.1" rx="2.7" ry="1.9" fill="#b5c0c8" opacity="0.58" transform="rotate(80 423.1 503.1)"/><ellipse cx="371.2" cy="500.3" rx="2.6" ry="2.9" fill="#bca591" opacity="0.58" transform="rotate(80 371.2 500.3)"/><ellipse cx="382.2" cy="497.4" rx="3.0" ry="2.6" fill="#a7b7c4" opacity="0.51" transform="rotate(80 382.2 497.4)"/><ellipse cx="383.2" cy="512.2" rx="2.4" ry="2.7" fill="#c7b3a3" opacity="0.74" transform="rotate(120 383.2 512.2)"/><ellipse cx="380.4" cy="506.8" rx="3.1" ry="1.9" fill="#c2a58e" opacity="0.60" transform="rotate(20 380.4 506.8)"/><ellipse cx="418.2" cy="492.7" rx="3.0" ry="2.2" fill="#bca591" opacity="0.78" transform="rotate(80 418.2 492.7)"/><ellipse cx="435.4" cy="509.3" rx="2.9" ry="3.0" fill="#c2a58e" opacity="0.80" transform="rotate(0 435.4 509.3)"/><ellipse cx="415.0" cy="517.5" rx="4.2" ry="1.9" fill="#cfbfb2" opacity="0.65" transform="rotate(160 415.0 517.5)"/><ellipse cx="416.0" cy="496.6" rx="3.6" ry="2.5" fill="#b5c0c8" opacity="0.68" transform="rotate(20 416.0 496.6)"/><ellipse cx="375.3" cy="505.9" rx="3.3" ry="2.4" fill="#a7b7c4" opacity="0.48" transform="rotate(140 375.3 505.9)"/><ellipse cx="389.0" cy="481.1" rx="2.8" ry="2.0" fill="#b5c0c8" opacity="0.78" transform="rotate(140 389.0 481.1)"/><ellipse cx="405.8" cy="501.6" rx="2.9" ry="3.2" fill="#bca591" opacity="0.54" transform="rotate(20 405.8 501.6)"/><ellipse cx="371.1" cy="503.0" rx="4.0" ry="3.0" fill="#b5c0c8" opacity="0.66" transform="rotate(100 371.1 503.0)"/><ellipse cx="383.6" cy="495.9" rx="3.4" ry="3.1" fill="#cfbfb2" opacity="0.63" transform="rotate(80 383.6 495.9)"/><ellipse cx="430.8" cy="494.9" rx="3.6" ry="1.9" fill="#cfbfb2" opacity="0.77" transform="rotate(0 430.8 494.9)"/><ellipse cx="425.0" cy="513.6" rx="3.2" ry="2.4" fill="#cfbfb2" opacity="0.60" transform="rotate(40 425.0 513.6)"/><ellipse cx="424.6" cy="520.4" rx="3.7" ry="2.1" fill="#c2a58e" opacity="0.51" transform="rotate(80 424.6 520.4)"/><ellipse cx="420.3" cy="498.8" rx="4.0" ry="2.2" fill="#afbcc6" opacity="0.48" transform="rotate(20 420.3 498.8)"/><ellipse cx="398.4" cy="486.1" rx="3.6" ry="2.1" fill="#a7b7c4" opacity="0.56" transform="rotate(120 398.4 486.1)"/><ellipse cx="428.6" cy="499.1" rx="2.3" ry="2.6" fill="#b5c0c8" opacity="0.53" transform="rotate(40 428.6 499.1)"/><ellipse cx="374.9" cy="487.5" rx="3.4" ry="3.2" fill="#bca591" opacity="0.76" transform="rotate(40 374.9 487.5)"/><ellipse cx="407.3" cy="512.5" rx="3.4" ry="3.4" fill="#c7b3a3" opacity="0.56" transform="rotate(140 407.3 512.5)"/><ellipse cx="389.9" cy="488.7" rx="3.5" ry="3.2" fill="#afbcc6" opacity="0.75" transform="rotate(20 389.9 488.7)"/><ellipse cx="389.7" cy="522.9" rx="3.0" ry="2.1" fill="#c7b3a3" opacity="0.54" transform="rotate(40 389.7 522.9)"/><ellipse cx="399.8" cy="516.9" rx="3.0" ry="1.9" fill="#c7b3a3" opacity="0.58" transform="rotate(120 399.8 516.9)"/><ellipse cx="429.8" cy="490.6" rx="2.9" ry="3.2" fill="#cfbfb2" opacity="0.72" transform="rotate(100 429.8 490.6)"/><ellipse cx="406.3" cy="478.4" rx="3.9" ry="1.9" fill="#cfbfb2" opacity="0.51" transform="rotate(40 406.3 478.4)"/><ellipse cx="398.3" cy="493.5" rx="2.4" ry="2.8" fill="#cfbfb2" opacity="0.65" transform="rotate(20 398.3 493.5)"/><ellipse cx="387.0" cy="480.1" rx="4.0" ry="2.9" fill="#c7b3a3" opacity="0.46" transform="rotate(120 387.0 480.1)"/><ellipse cx="408.0" cy="515.8" rx="4.1" ry="2.8" fill="#a7b7c4" opacity="0.80" transform="rotate(100 408.0 515.8)"/><ellipse cx="431.5" cy="513.9" rx="3.2" ry="2.3" fill="#c7b3a3" opacity="0.71" transform="rotate(120 431.5 513.9)"/><ellipse cx="424.4" cy="492.8" rx="3.0" ry="2.4" fill="#bca591" opacity="0.79" transform="rotate(20 424.4 492.8)"/><ellipse cx="412.6" cy="480.8" rx="3.7" ry="2.7" fill="#afbcc6" opacity="0.48" transform="rotate(60 412.6 480.8)"/><ellipse cx="385.3" cy="496.8" rx="3.4" ry="2.3" fill="#cfbfb2" opacity="0.67" transform="rotate(60 385.3 496.8)"/><ellipse cx="422.7" cy="479.1" rx="3.2" ry="3.2" fill="#c2a58e" opacity="0.45" transform="rotate(140 422.7 479.1)"/><ellipse cx="422.4" cy="517.2" rx="2.5" ry="2.0" fill="#bca591" opacity="0.67" transform="rotate(100 422.4 517.2)"/><ellipse cx="383.2" cy="516.8" rx="3.2" ry="3.2" fill="#c7b3a3" opacity="0.46" transform="rotate(80 383.2 516.8)"/><ellipse cx="428.4" cy="483.2" rx="2.4" ry="2.6" fill="#afbcc6" opacity="0.77" transform="rotate(0 428.4 483.2)"/><ellipse cx="395.1" cy="489.0" rx="2.3" ry="2.4" fill="#cfbfb2" opacity="0.52" transform="rotate(40 395.1 489.0)"/><ellipse cx="381.6" cy="478.4" rx="3.3" ry="2.2" fill="#c2a58e" opacity="0.49" transform="rotate(140 381.6 478.4)"/><ellipse cx="394.1" cy="475.2" rx="2.4" ry="2.2" fill="#a7b7c4" opacity="0.57" transform="rotate(100 394.1 475.2)"/><ellipse cx="387.0" cy="482.1" rx="2.9" ry="3.0" fill="#b5c0c8" opacity="0.52" transform="rotate(140 387.0 482.1)"/><ellipse cx="398.4" cy="484.6" rx="3.7" ry="2.7" fill="#b5c0c8" opacity="0.77" transform="rotate(0 398.4 484.6)"/><ellipse cx="375.2" cy="492.8" rx="2.7" ry="2.3" fill="#b5c0c8" opacity="0.50" transform="rotate(0 375.2 492.8)"/><ellipse cx="380.0" cy="480.5" rx="3.0" ry="2.1" fill="#a7b7c4" opacity="0.56" transform="rotate(80 380.0 480.5)"/><ellipse cx="384.8" cy="477.2" rx="3.5" ry="2.3" fill="#b5c0c8" opacity="0.59" transform="rotate(40 384.8 477.2)"/><ellipse cx="395.7" cy="479.8" rx="2.9" ry="3.1" fill="#a7b7c4" opacity="0.73" transform="rotate(120 395.7 479.8)"/><ellipse cx="369.3" cy="478.3" rx="2.8" ry="2.9" fill="#a7b7c4" opacity="0.58" transform="rotate(160 369.3 478.3)"/><ellipse cx="388.1" cy="482.3" rx="3.3" ry="3.3" fill="#c7b3a3" opacity="0.50" transform="rotate(140 388.1 482.3)"/><ellipse cx="381.7" cy="475.7" rx="2.2" ry="2.6" fill="#a7b7c4" opacity="0.66" transform="rotate(120 381.7 475.7)"/><ellipse cx="380.2" cy="486.2" rx="3.2" ry="2.1" fill="#c7b3a3" opacity="0.76" transform="rotate(0 380.2 486.2)"/><ellipse cx="388.9" cy="492.1" rx="2.7" ry="2.0" fill="#bca591" opacity="0.74" transform="rotate(140 388.9 492.1)"/><ellipse cx="390.7" cy="478.2" rx="3.4" ry="3.1" fill="#a7b7c4" opacity="0.48" transform="rotate(20 390.7 478.2)"/><ellipse cx="386.3" cy="469.9" rx="4.0" ry="2.9" fill="#c7b3a3" opacity="0.60" transform="rotate(80 386.3 469.9)"/><ellipse cx="350.2" cy="477.4" rx="2.5" ry="2.9" fill="#a7b7c4" opacity="0.45" transform="rotate(100 350.2 477.4)"/><ellipse cx="346.8" cy="466.6" rx="2.4" ry="3.0" fill="#cfbfb2" opacity="0.69" transform="rotate(80 346.8 466.6)"/><ellipse cx="353.3" cy="468.6" rx="3.1" ry="2.6" fill="#bca591" opacity="0.77" transform="rotate(80 353.3 468.6)"/><ellipse cx="348.4" cy="477.2" rx="3.4" ry="2.3" fill="#c2a58e" opacity="0.57" transform="rotate(60 348.4 477.2)"/><ellipse cx="347.1" cy="466.8" rx="2.3" ry="3.2" fill="#c7b3a3" opacity="0.48" transform="rotate(40 347.1 466.8)"/><ellipse cx="338.7" cy="475.6" rx="3.9" ry="2.8" fill="#bca591" opacity="0.55" transform="rotate(60 338.7 475.6)"/><ellipse cx="354.3" cy="469.7" rx="3.3" ry="2.7" fill="#afbcc6" opacity="0.70" transform="rotate(100 354.3 469.7)"/><ellipse cx="348.4" cy="466.8" rx="3.1" ry="2.4" fill="#c7b3a3" opacity="0.49" transform="rotate(120 348.4 466.8)"/><ellipse cx="352.9" cy="471.3" rx="3.1" ry="3.3" fill="#c2a58e" opacity="0.47" transform="rotate(80 352.9 471.3)"/><ellipse cx="348.4" cy="486.4" rx="3.5" ry="2.6" fill="#c2a58e" opacity="0.76" transform="rotate(60 348.4 486.4)"/><ellipse cx="349.8" cy="461.7" rx="2.7" ry="2.4" fill="#c7b3a3" opacity="0.47" transform="rotate(140 349.8 461.7)"/><ellipse cx="339.2" cy="469.1" rx="3.0" ry="2.1" fill="#bca591" opacity="0.70" transform="rotate(100 339.2 469.1)"/><ellipse cx="330.6" cy="541.4" rx="3.1" ry="3.2" fill="#a7b7c4" opacity="0.54" transform="rotate(140 330.6 541.4)"/><ellipse cx="343.8" cy="527.5" rx="3.2" ry="2.5" fill="#bca591" opacity="0.74" transform="rotate(20 343.8 527.5)"/><ellipse cx="356.2" cy="536.2" rx="2.6" ry="2.6" fill="#cfbfb2" opacity="0.50" transform="rotate(40 356.2 536.2)"/><ellipse cx="352.8" cy="536.1" rx="3.5" ry="2.6" fill="#cfbfb2" opacity="0.68" transform="rotate(100 352.8 536.1)"/><ellipse cx="346.4" cy="521.6" rx="2.4" ry="2.9" fill="#c2a58e" opacity="0.50" transform="rotate(60 346.4 521.6)"/><ellipse cx="349.2" cy="539.1" rx="3.3" ry="3.1" fill="#b5c0c8" opacity="0.61" transform="rotate(100 349.2 539.1)"/><ellipse cx="340.8" cy="532.5" rx="3.9" ry="1.9" fill="#afbcc6" opacity="0.73" transform="rotate(40 340.8 532.5)"/><ellipse cx="348.4" cy="533.3" rx="2.7" ry="3.2" fill="#bca591" opacity="0.72" transform="rotate(0 348.4 533.3)"/><ellipse cx="441.4" cy="509.5" rx="4.0" ry="3.3" fill="#cfbfb2" opacity="0.54" transform="rotate(80 441.4 509.5)"/><ellipse cx="443.3" cy="498.3" rx="2.4" ry="2.6" fill="#a7b7c4" opacity="0.57" transform="rotate(0 443.3 498.3)"/><ellipse cx="439.0" cy="503.6" rx="3.8" ry="2.1" fill="#afbcc6" opacity="0.68" transform="rotate(0 439.0 503.6)"/><ellipse cx="441.5" cy="524.6" rx="3.1" ry="2.8" fill="#c2a58e" opacity="0.47" transform="rotate(120 441.5 524.6)"/><ellipse cx="443.9" cy="506.3" rx="2.8" ry="3.0" fill="#b5c0c8" opacity="0.53" transform="rotate(140 443.9 506.3)"/><ellipse cx="446.9" cy="495.7" rx="2.9" ry="3.1" fill="#bca591" opacity="0.53" transform="rotate(140 446.9 495.7)"/><ellipse cx="443.0" cy="512.7" rx="4.1" ry="3.0" fill="#afbcc6" opacity="0.55" transform="rotate(140 443.0 512.7)"/><ellipse cx="442.7" cy="517.1" rx="3.1" ry="2.1" fill="#c2a58e" opacity="0.49" transform="rotate(80 442.7 517.1)"/>
</g>
<g filter="url(#b2)">
<ellipse cx="352" cy="472" rx="5" ry="4" fill="#b4c1ca" opacity="0.9"/>
<ellipse cx="360" cy="478" rx="5" ry="4" fill="#b4c1ca" opacity="0.9"/>
<ellipse cx="366" cy="470" rx="4" ry="4" fill="#b4c1ca" opacity="0.9"/>
<ellipse cx="357" cy="484" rx="5" ry="3.5" fill="#b4c1ca" opacity="0.9"/>
<ellipse cx="349" cy="480" rx="3.5" ry="3" fill="#b4c1ca" opacity="0.9"/>
<ellipse cx="368" cy="486" rx="4" ry="3" fill="#b4c1ca" opacity="0.9"/>
<ellipse cx="385" cy="522" rx="3" ry="4" fill="#b4c1ca" opacity="0.9"/>
<ellipse cx="440" cy="470" rx="4" ry="3.5" fill="#b4c1ca" opacity="0.9"/>
<ellipse cx="426.5" cy="458" rx="4" ry="3.5" fill="#b4c1ca" opacity="0.9"/>
<ellipse cx="320" cy="496" rx="4" ry="3" fill="#b4c1ca" opacity="0.9"/>
<ellipse cx="310" cy="492" rx="4" ry="3" fill="#b4c1ca" opacity="0.9"/>
<ellipse cx="318" cy="523" rx="5" ry="2.5" fill="#b4c1ca" opacity="0.9"/>
</g>
<g filter="url(#b2)">
<ellipse cx="329" cy="465.3" rx="3.6" ry="3.4" fill="#c48f6a" opacity="0.5"/><ellipse cx="340" cy="457" rx="3.5" ry="5.0" fill="#c48f6a" opacity="0.5" transform="rotate(-20 340 457)"/><ellipse cx="345" cy="463" rx="3.0" ry="4.0" fill="#c48f6a" opacity="0.5"/><ellipse cx="376.9" cy="470" rx="3.2" ry="2.8" fill="#c48f6a" opacity="0.5"/><ellipse cx="399.5" cy="399.8" rx="3.5" ry="2.4" fill="#c48f6a" opacity="0.5"/><ellipse cx="382.9" cy="418.4" rx="2.8" ry="2.4" fill="#c48f6a" opacity="0.5"/><ellipse cx="404.3" cy="418.4" rx="2.6" ry="3.2" fill="#c48f6a" opacity="0.5" transform="rotate(-30 404.3 418.4)"/><ellipse cx="414.6" cy="417.7" rx="2.3" ry="3.6" fill="#c48f6a" opacity="0.5" transform="rotate(10 414.6 417.7)"/><ellipse cx="420.5" cy="402.2" rx="2.6" ry="2.6" fill="#c48f6a" opacity="0.5"/><ellipse cx="425" cy="412" rx="2.6" ry="2.6" fill="#c48f6a" opacity="0.5"/><ellipse cx="395.8" cy="421.6" rx="2.5" ry="3.2" fill="#c48f6a" opacity="0.5" transform="rotate(-20 395.8 421.6)"/><ellipse cx="400.4" cy="426.1" rx="3.0" ry="2.5" fill="#c48f6a" opacity="0.5"/><ellipse cx="395.8" cy="431.3" rx="2.8" ry="2.8" fill="#c48f6a" opacity="0.5"/><ellipse cx="394.6" cy="434.8" rx="2.8" ry="2.6" fill="#c48f6a" opacity="0.5"/><ellipse cx="419.5" cy="437" rx="3.0" ry="2.5" fill="#c48f6a" opacity="0.5" transform="rotate(25 419.5 437)"/><ellipse cx="425" cy="431.3" rx="2.8" ry="2.5" fill="#c48f6a" opacity="0.5"/><ellipse cx="430" cy="433" rx="2.8" ry="2.5" fill="#c48f6a" opacity="0.5"/><ellipse cx="403.6" cy="445.6" rx="3.4" ry="2.4" fill="#c48f6a" opacity="0.5" transform="rotate(10 403.6 445.6)"/><ellipse cx="413.3" cy="448.2" rx="3.0" ry="2.5" fill="#c48f6a" opacity="0.5" transform="rotate(30 413.3 448.2)"/><ellipse cx="413.3" cy="460.5" rx="2.8" ry="2.8" fill="#c48f6a" opacity="0.5"/><ellipse cx="431.5" cy="465.7" rx="2.8" ry="3.0" fill="#c48f6a" opacity="0.5"/><ellipse cx="428" cy="450" rx="2.5" ry="2.5" fill="#c48f6a" opacity="0.5"/><ellipse cx="437" cy="412.5" rx="2.6" ry="3.2" fill="#c48f6a" opacity="0.5"/><ellipse cx="454.6" cy="410" rx="2.6" ry="2.6" fill="#c48f6a" opacity="0.5"/><ellipse cx="477.9" cy="412.5" rx="3.8" ry="2.4" fill="#c48f6a" opacity="0.5" transform="rotate(25 477.9 412.5)"/><ellipse cx="472.7" cy="415.8" rx="2.6" ry="2.4" fill="#c48f6a" opacity="0.5"/><ellipse cx="437.7" cy="421.6" rx="2.8" ry="3.0" fill="#c48f6a" opacity="0.5"/><ellipse cx="444.8" cy="428" rx="2.8" ry="2.6" fill="#c48f6a" opacity="0.5"/><ellipse cx="465.6" cy="427.4" rx="3.0" ry="3.0" fill="#c48f6a" opacity="0.5"/><ellipse cx="466.2" cy="431.3" rx="3.2" ry="2.8" fill="#c48f6a" opacity="0.5"/><ellipse cx="481.1" cy="433.3" rx="2.8" ry="3.0" fill="#c48f6a" opacity="0.5"/><ellipse cx="444.8" cy="441.7" rx="3.0" ry="2.8" fill="#c48f6a" opacity="0.5"/><ellipse cx="454.6" cy="442.3" rx="2.5" ry="3.6" fill="#c48f6a" opacity="0.5"/><ellipse cx="472.7" cy="455.3" rx="3.2" ry="3.2" fill="#c48f6a" opacity="0.5"/><ellipse cx="477.9" cy="459.2" rx="3.6" ry="3.6" fill="#c48f6a" opacity="0.5"/><ellipse cx="461.7" cy="452" rx="2.6" ry="2.0" fill="#c48f6a" opacity="0.5"/><ellipse cx="447.4" cy="452" rx="2.8" ry="3.2" fill="#c48f6a" opacity="0.5"/><ellipse cx="437" cy="452.7" rx="2.5" ry="2.5" fill="#c48f6a" opacity="0.5"/><ellipse cx="441" cy="460.5" rx="3.2" ry="2.5" fill="#c48f6a" opacity="0.5" transform="rotate(20 441 460.5)"/><ellipse cx="444.8" cy="457.2" rx="2.5" ry="2.5" fill="#c48f6a" opacity="0.5"/><ellipse cx="431.2" cy="465.7" rx="2.5" ry="2.8" fill="#c48f6a" opacity="0.5"/><ellipse cx="435" cy="438.5" rx="2.5" ry="2.5" fill="#c48f6a" opacity="0.5"/><ellipse cx="466.9" cy="466.3" rx="2.4" ry="2.0" fill="#c48f6a" opacity="0.5"/><ellipse cx="343" cy="477" rx="3.4" ry="2.6" fill="#c48f6a" opacity="0.5"/><ellipse cx="343.2" cy="507" rx="3.0" ry="3.6" fill="#c48f6a" opacity="0.5"/><ellipse cx="347.7" cy="506.3" rx="2.6" ry="2.6" fill="#c48f6a" opacity="0.5"/><ellipse cx="305.6" cy="518" rx="2.6" ry="3.0" fill="#c48f6a" opacity="0.5"/><ellipse cx="308.8" cy="516" rx="2.8" ry="2.5" fill="#c48f6a" opacity="0.5"/><ellipse cx="308.8" cy="521.2" rx="2.8" ry="2.5" fill="#c48f6a" opacity="0.5"/><ellipse cx="322.4" cy="523.2" rx="2.6" ry="2.4" fill="#c48f6a" opacity="0.5"/><ellipse cx="329.6" cy="523.8" rx="2.8" ry="2.6" fill="#c48f6a" opacity="0.5"/><ellipse cx="326.3" cy="527" rx="2.8" ry="2.5" fill="#c48f6a" opacity="0.5"/><ellipse cx="338" cy="530.3" rx="3.2" ry="2.6" fill="#c48f6a" opacity="0.5"/><ellipse cx="341.9" cy="532.9" rx="3.0" ry="2.6" fill="#c48f6a" opacity="0.5"/><ellipse cx="344.5" cy="530.3" rx="2.8" ry="2.5" fill="#c48f6a" opacity="0.5"/><ellipse cx="349.6" cy="532.2" rx="3.0" ry="2.6" fill="#c48f6a" opacity="0.5"/><ellipse cx="340.6" cy="536.8" rx="3.0" ry="2.6" fill="#c48f6a" opacity="0.5"/><ellipse cx="343.2" cy="539.4" rx="2.8" ry="2.8" fill="#c48f6a" opacity="0.5"/><ellipse cx="359.3" cy="540" rx="2.6" ry="3.4" fill="#c48f6a" opacity="0.5"/><ellipse cx="368.8" cy="516" rx="3.0" ry="5.0" fill="#c48f6a" opacity="0.5"/><ellipse cx="370.6" cy="485.6" rx="2.8" ry="2.6" fill="#c48f6a" opacity="0.5"/><ellipse cx="375.8" cy="485.6" rx="3.6" ry="3.4" fill="#c48f6a" opacity="0.5"/><ellipse cx="392.3" cy="488.5" rx="2.8" ry="2.5" fill="#c48f6a" opacity="0.5"/><ellipse cx="423" cy="527.7" rx="2.5" ry="3.0" fill="#c48f6a" opacity="0.5"/><ellipse cx="431.5" cy="521.9" rx="2.4" ry="3.6" fill="#c48f6a" opacity="0.5"/><ellipse cx="432.8" cy="482.4" rx="2.5" ry="2.5" fill="#c48f6a" opacity="0.5"/><ellipse cx="458.4" cy="475.9" rx="2.8" ry="2.5" fill="#c48f6a" opacity="0.5"/><ellipse cx="454.6" cy="481.7" rx="3.6" ry="3.6" fill="#c48f6a" opacity="0.5"/><ellipse cx="437.7" cy="488.8" rx="2.5" ry="2.4" fill="#c48f6a" opacity="0.5"/><ellipse cx="470.7" cy="481.7" rx="2.4" ry="2.4" fill="#c48f6a" opacity="0.5"/><ellipse cx="472" cy="487.5" rx="2.4" ry="2.4" fill="#c48f6a" opacity="0.5"/><ellipse cx="468.8" cy="493.4" rx="2.4" ry="2.4" fill="#c48f6a" opacity="0.5"/><ellipse cx="449.4" cy="493.4" rx="2.8" ry="2.6" fill="#c48f6a" opacity="0.5"/><ellipse cx="452.6" cy="497.3" rx="2.6" ry="2.6" fill="#c48f6a" opacity="0.5"/><ellipse cx="447.4" cy="502.4" rx="2.6" ry="2.6" fill="#c48f6a" opacity="0.5"/><ellipse cx="441" cy="510.2" rx="3.0" ry="3.0" fill="#c48f6a" opacity="0.5"/><ellipse cx="435.1" cy="529.6" rx="2.6" ry="2.6" fill="#c48f6a" opacity="0.5"/><ellipse cx="439" cy="532.9" rx="2.8" ry="2.5" fill="#c48f6a" opacity="0.5"/><ellipse cx="437.7" cy="536" rx="3.0" ry="2.6" fill="#c48f6a" opacity="0.5"/><ellipse cx="440" cy="541" rx="2.6" ry="2.6" fill="#c48f6a" opacity="0.5"/><ellipse cx="415" cy="399.5" rx="2.6" ry="2.4" fill="#c48f6a" opacity="0.5"/><ellipse cx="427" cy="400" rx="2.6" ry="2.4" fill="#c48f6a" opacity="0.5"/><ellipse cx="460.5" cy="437.5" rx="3.0" ry="2.2" fill="#c48f6a" opacity="0.5" transform="rotate(50 460.5 437.5)"/><ellipse cx="438.6" cy="463.2" rx="2.7" ry="2.2" fill="#c48f6a" opacity="0.5" transform="rotate(75 438.6 463.2)"/><ellipse cx="486.0" cy="427.9" rx="3.1" ry="2.3" fill="#c48f6a" opacity="0.5" transform="rotate(15 486.0 427.9)"/><ellipse cx="468.3" cy="434.9" rx="2.6" ry="2.4" fill="#c48f6a" opacity="0.5" transform="rotate(135 468.3 434.9)"/><ellipse cx="446.0" cy="404.3" rx="2.9" ry="2.4" fill="#c48f6a" opacity="0.5" transform="rotate(120 446.0 404.3)"/><ellipse cx="453.3" cy="399.0" rx="2.7" ry="2.7" fill="#c48f6a" opacity="0.5" transform="rotate(150 453.3 399.0)"/><ellipse cx="401.8" cy="423.0" rx="2.7" ry="2.1" fill="#c48f6a" opacity="0.5" transform="rotate(45 401.8 423.0)"/><ellipse cx="420.7" cy="446.9" rx="2.7" ry="2.3" fill="#c48f6a" opacity="0.5" transform="rotate(90 420.7 446.9)"/><ellipse cx="409.8" cy="447.7" rx="2.7" ry="2.6" fill="#c48f6a" opacity="0.5" transform="rotate(135 409.8 447.7)"/><ellipse cx="410.6" cy="444.2" rx="2.5" ry="2.5" fill="#c48f6a" opacity="0.5" transform="rotate(120 410.6 444.2)"/><ellipse cx="412.1" cy="451.6" rx="2.6" ry="2.3" fill="#c48f6a" opacity="0.5" transform="rotate(30 412.1 451.6)"/><ellipse cx="418.0" cy="440.2" rx="2.9" ry="2.7" fill="#c48f6a" opacity="0.5" transform="rotate(105 418.0 440.2)"/><ellipse cx="438.4" cy="438.5" rx="2.3" ry="2.2" fill="#c48f6a" opacity="0.5" transform="rotate(60 438.4 438.5)"/><ellipse cx="434.6" cy="423.7" rx="2.4" ry="2.1" fill="#c48f6a" opacity="0.5" transform="rotate(15 434.6 423.7)"/><ellipse cx="448.2" cy="461.1" rx="3.0" ry="2.7" fill="#c48f6a" opacity="0.5" transform="rotate(120 448.2 461.1)"/><ellipse cx="431.9" cy="429.1" rx="2.8" ry="2.1" fill="#c48f6a" opacity="0.5" transform="rotate(105 431.9 429.1)"/><ellipse cx="465.4" cy="437.8" rx="2.6" ry="2.1" fill="#c48f6a" opacity="0.5" transform="rotate(165 465.4 437.8)"/><ellipse cx="410.3" cy="410.1" rx="2.9" ry="2.0" fill="#c48f6a" opacity="0.5"/><ellipse cx="486.3" cy="446.8" rx="2.3" ry="2.7" fill="#c48f6a" opacity="0.5" transform="rotate(120 486.3 446.8)"/><ellipse cx="431.0" cy="443.6" rx="3.0" ry="2.5" fill="#c48f6a" opacity="0.5" transform="rotate(135 431.0 443.6)"/><ellipse cx="443.6" cy="432.4" rx="2.3" ry="2.2" fill="#c48f6a" opacity="0.5" transform="rotate(150 443.6 432.4)"/><ellipse cx="450.7" cy="440.0" rx="2.3" ry="2.1" fill="#c48f6a" opacity="0.5" transform="rotate(75 450.7 440.0)"/><ellipse cx="464.0" cy="402.9" rx="2.8" ry="2.1" fill="#c48f6a" opacity="0.5" transform="rotate(105 464.0 402.9)"/><ellipse cx="452.0" cy="419.5" rx="3.0" ry="2.0" fill="#c48f6a" opacity="0.5" transform="rotate(75 452.0 419.5)"/><ellipse cx="414.1" cy="424.3" rx="2.5" ry="2.2" fill="#c48f6a" opacity="0.5" transform="rotate(30 414.1 424.3)"/><ellipse cx="482.1" cy="451.4" rx="2.6" ry="2.7" fill="#c48f6a" opacity="0.5" transform="rotate(60 482.1 451.4)"/><ellipse cx="438.4" cy="448.7" rx="2.5" ry="2.3" fill="#c48f6a" opacity="0.5" transform="rotate(150 438.4 448.7)"/><ellipse cx="471.9" cy="458.5" rx="2.3" ry="2.4" fill="#c48f6a" opacity="0.5" transform="rotate(90 471.9 458.5)"/><ellipse cx="484.0" cy="415.3" rx="2.9" ry="2.4" fill="#c48f6a" opacity="0.5" transform="rotate(165 484.0 415.3)"/><ellipse cx="402.3" cy="429.6" rx="2.7" ry="2.4" fill="#c48f6a" opacity="0.5" transform="rotate(60 402.3 429.6)"/><ellipse cx="470.0" cy="411.9" rx="2.4" ry="2.2" fill="#c48f6a" opacity="0.5" transform="rotate(150 470.0 411.9)"/><ellipse cx="460.2" cy="410.2" rx="2.9" ry="2.1" fill="#c48f6a" opacity="0.5" transform="rotate(30 460.2 410.2)"/><ellipse cx="429.2" cy="425.3" rx="2.6" ry="2.2" fill="#c48f6a" opacity="0.5" transform="rotate(60 429.2 425.3)"/><ellipse cx="439.8" cy="401.4" rx="2.5" ry="2.4" fill="#c48f6a" opacity="0.5" transform="rotate(60 439.8 401.4)"/><ellipse cx="423.1" cy="459.5" rx="3.1" ry="2.4" fill="#c48f6a" opacity="0.5" transform="rotate(105 423.1 459.5)"/><ellipse cx="433.5" cy="408.7" rx="2.6" ry="2.4" fill="#c48f6a" opacity="0.5" transform="rotate(30 433.5 408.7)"/><ellipse cx="432.5" cy="459.3" rx="3.0" ry="2.2" fill="#c48f6a" opacity="0.5" transform="rotate(165 432.5 459.3)"/><ellipse cx="444.6" cy="417.0" rx="2.5" ry="2.3" fill="#c48f6a" opacity="0.5" transform="rotate(135 444.6 417.0)"/><ellipse cx="396.5" cy="416.3" rx="3.0" ry="2.4" fill="#c48f6a" opacity="0.5" transform="rotate(30 396.5 416.3)"/><ellipse cx="394.3" cy="406.0" rx="2.8" ry="2.1" fill="#c48f6a" opacity="0.5" transform="rotate(90 394.3 406.0)"/><ellipse cx="398.1" cy="436.6" rx="2.8" ry="2.5" fill="#c48f6a" opacity="0.5" transform="rotate(90 398.1 436.6)"/><ellipse cx="408.9" cy="453.6" rx="2.4" ry="2.5" fill="#c48f6a" opacity="0.5" transform="rotate(135 408.9 453.6)"/><ellipse cx="399.9" cy="407.7" rx="2.7" ry="2.6" fill="#c48f6a" opacity="0.5" transform="rotate(165 399.9 407.7)"/><ellipse cx="390.3" cy="423.9" rx="2.7" ry="2.6" fill="#c48f6a" opacity="0.5" transform="rotate(105 390.3 423.9)"/><ellipse cx="390.2" cy="436.0" rx="3.1" ry="2.5" fill="#c48f6a" opacity="0.5" transform="rotate(30 390.2 436.0)"/><ellipse cx="401.1" cy="403.2" rx="2.9" ry="2.6" fill="#c48f6a" opacity="0.5" transform="rotate(60 401.1 403.2)"/><ellipse cx="383.9" cy="508.3" rx="2.6" ry="2.3" fill="#c48f6a" opacity="0.5" transform="rotate(15 383.9 508.3)"/><ellipse cx="391.3" cy="508.6" rx="2.3" ry="2.6" fill="#c48f6a" opacity="0.5" transform="rotate(45 391.3 508.6)"/><ellipse cx="385.0" cy="504.3" rx="2.3" ry="2.2" fill="#c48f6a" opacity="0.5" transform="rotate(45 385.0 504.3)"/><ellipse cx="413.5" cy="511.6" rx="2.4" ry="2.6" fill="#c48f6a" opacity="0.5" transform="rotate(60 413.5 511.6)"/><ellipse cx="436.5" cy="493.4" rx="2.3" ry="2.7" fill="#c48f6a" opacity="0.5" transform="rotate(150 436.5 493.4)"/><ellipse cx="400.2" cy="483.2" rx="2.8" ry="2.7" fill="#c48f6a" opacity="0.5" transform="rotate(105 400.2 483.2)"/><ellipse cx="421.0" cy="481.8" rx="2.7" ry="2.4" fill="#c48f6a" opacity="0.5" transform="rotate(105 421.0 481.8)"/><ellipse cx="393.6" cy="503.3" rx="2.9" ry="2.5" fill="#c48f6a" opacity="0.5" transform="rotate(105 393.6 503.3)"/><ellipse cx="416.3" cy="492.8" rx="2.6" ry="2.3" fill="#c48f6a" opacity="0.5" transform="rotate(45 416.3 492.8)"/><ellipse cx="414.6" cy="521.4" rx="2.2" ry="2.0" fill="#c48f6a" opacity="0.5" transform="rotate(45 414.6 521.4)"/><ellipse cx="377.0" cy="504.2" rx="2.6" ry="2.1" fill="#c48f6a" opacity="0.5" transform="rotate(105 377.0 504.2)"/><ellipse cx="424.8" cy="509.9" rx="2.3" ry="2.0" fill="#c48f6a" opacity="0.5" transform="rotate(165 424.8 509.9)"/><ellipse cx="392.2" cy="519.9" rx="3.1" ry="2.2" fill="#c48f6a" opacity="0.5" transform="rotate(135 392.2 519.9)"/><ellipse cx="390.1" cy="524.5" rx="2.2" ry="2.6" fill="#c48f6a" opacity="0.5" transform="rotate(165 390.1 524.5)"/><ellipse cx="404.5" cy="490.4" rx="3.0" ry="2.0" fill="#c48f6a" opacity="0.5" transform="rotate(15 404.5 490.4)"/><ellipse cx="348.8" cy="522.0" rx="2.5" ry="2.1" fill="#c48f6a" opacity="0.5" transform="rotate(15 348.8 522.0)"/><ellipse cx="337.1" cy="520.8" rx="3.0" ry="2.5" fill="#c48f6a" opacity="0.5" transform="rotate(90 337.1 520.8)"/><ellipse cx="340.6" cy="524.0" rx="2.6" ry="2.1" fill="#c48f6a" opacity="0.5" transform="rotate(135 340.6 524.0)"/><ellipse cx="351.9" cy="538.4" rx="2.5" ry="2.3" fill="#c48f6a" opacity="0.5" transform="rotate(75 351.9 538.4)"/><ellipse cx="323.4" cy="532.0" rx="2.5" ry="2.2" fill="#c48f6a" opacity="0.5" transform="rotate(135 323.4 532.0)"/><ellipse cx="444.9" cy="488.2" rx="3.1" ry="2.1" fill="#c48f6a" opacity="0.5" transform="rotate(30 444.9 488.2)"/><ellipse cx="442.2" cy="490.3" rx="2.4" ry="2.2" fill="#c48f6a" opacity="0.5"/><ellipse cx="439.6" cy="502.3" rx="2.7" ry="2.6" fill="#c48f6a" opacity="0.5" transform="rotate(30 439.6 502.3)"/><ellipse cx="434.5" cy="502.0" rx="2.2" ry="2.5" fill="#c48f6a" opacity="0.5"/><ellipse cx="444.0" cy="526.1" rx="2.9" ry="2.3" fill="#c48f6a" opacity="0.5" transform="rotate(105 444.0 526.1)"/><ellipse cx="440.2" cy="524.6" rx="2.5" ry="2.5" fill="#c48f6a" opacity="0.5" transform="rotate(45 440.2 524.6)"/><ellipse cx="379.1" cy="479.2" rx="2.5" ry="2.1" fill="#c48f6a" opacity="0.5"/><ellipse cx="384.5" cy="474.4" rx="3.1" ry="2.1" fill="#c48f6a" opacity="0.5" transform="rotate(75 384.5 474.4)"/><ellipse cx="382.3" cy="477.2" rx="2.4" ry="2.0" fill="#c48f6a" opacity="0.5" transform="rotate(120 382.3 477.2)"/><ellipse cx="373.0" cy="488.6" rx="2.4" ry="2.1" fill="#c48f6a" opacity="0.5" transform="rotate(90 373.0 488.6)"/><ellipse cx="368.0" cy="488.9" rx="2.4" ry="2.5" fill="#c48f6a" opacity="0.5" transform="rotate(120 368.0 488.9)"/><ellipse cx="391.8" cy="476.2" rx="2.4" ry="2.5" fill="#c48f6a" opacity="0.5" transform="rotate(90 391.8 476.2)"/><ellipse cx="315.2" cy="521.8" rx="2.6" ry="2.2" fill="#c48f6a" opacity="0.5"/>
</g>
<g filter="url(#b3)">
<ellipse cx="337" cy="452.5" rx="8.5" ry="5.5" fill="#a8694a" opacity="0.88" transform="rotate(20 337 452.5)"/><ellipse cx="342" cy="460" rx="6" ry="8" fill="#a8694a" opacity="0.88" transform="rotate(-10 342 460)"/><ellipse cx="331.5" cy="458" rx="5" ry="5.5" fill="#a8694a" opacity="0.88"/><ellipse cx="343.5" cy="466.5" rx="4.5" ry="3.5" fill="#a8694a" opacity="0.88"/><ellipse cx="336" cy="449.5" rx="4" ry="2.2" fill="#74300f" opacity="0.95" transform="rotate(15 336 449.5)"/><ellipse cx="329" cy="465.3" rx="2.6" ry="2.4" fill="#74300f" opacity="0.95"/><ellipse cx="340" cy="457" rx="2.5" ry="4" fill="#74300f" opacity="0.95" transform="rotate(-20 340 457)"/><ellipse cx="345" cy="463" rx="2" ry="3" fill="#74300f" opacity="0.95"/><ellipse cx="327.5" cy="460" rx="2" ry="2.5" fill="#b5622f" opacity="0.95"/><ellipse cx="334" cy="464" rx="3" ry="2" fill="#c6a893" opacity="0.88"/><ellipse cx="357.7" cy="408.4" rx="1.3" ry="2.8" fill="#a8694a" opacity="0.88" transform="rotate(30 357.7 408.4)"/><ellipse cx="362.5" cy="403.8" rx="1.4" ry="2.6" fill="#a8694a" opacity="0.88" transform="rotate(35 362.5 403.8)"/><ellipse cx="367.3" cy="406.5" rx="1.3" ry="2.5" fill="#a8694a" opacity="0.88" transform="rotate(20 367.3 406.5)"/><ellipse cx="369.2" cy="412.3" rx="1.3" ry="2.2" fill="#a8694a" opacity="0.88" transform="rotate(10 369.2 412.3)"/><ellipse cx="359.6" cy="412.6" rx="1.3" ry="2.4" fill="#c6a893" opacity="0.88" transform="rotate(30 359.6 412.6)"/><ellipse cx="364.5" cy="409" rx="1.2" ry="2.4" fill="#c6a893" opacity="0.88" transform="rotate(30 364.5 409)"/><ellipse cx="351.6" cy="421.6" rx="1.4" ry="1.0" fill="#a8694a" opacity="0.88"/><ellipse cx="364.5" cy="450.5" rx="3.4" ry="1.9" fill="#c6a893" opacity="0.88" transform="rotate(-25 364.5 450.5)"/><ellipse cx="378.8" cy="456.5" rx="2.5" ry="1.6" fill="#c6a893" opacity="0.88"/><ellipse cx="384.6" cy="460.3" rx="2.2" ry="1.5" fill="#c6a893" opacity="0.88"/><ellipse cx="376.9" cy="470" rx="2.2" ry="1.8" fill="#74300f" opacity="0.95"/><ellipse cx="393.9" cy="401.3" rx="4.2" ry="1.8" fill="#b5622f" opacity="0.95" transform="rotate(-10 393.9 401.3)"/><ellipse cx="399.5" cy="399.8" rx="2.5" ry="1.4" fill="#74300f" opacity="0.95"/><ellipse cx="370.6" cy="404.8" rx="1.6" ry="1.4" fill="#a8694a" opacity="0.88"/><ellipse cx="370" cy="411" rx="1.5" ry="1.5" fill="#a8694a" opacity="0.88"/><ellipse cx="382.9" cy="418.4" rx="1.8" ry="1.4" fill="#74300f" opacity="0.95"/><ellipse cx="387.4" cy="416.4" rx="2.0" ry="1.4" fill="#a8694a" opacity="0.88" transform="rotate(20 387.4 416.4)"/><ellipse cx="399" cy="412" rx="1.6" ry="1.6" fill="#a8694a" opacity="0.88"/><ellipse cx="404.3" cy="418.4" rx="1.6" ry="2.2" fill="#74300f" opacity="0.95" transform="rotate(-30 404.3 418.4)"/><ellipse cx="414.6" cy="417.7" rx="1.3" ry="2.6" fill="#8a2c14" opacity="0.95" transform="rotate(10 414.6 417.7)"/><ellipse cx="420.5" cy="402.2" rx="1.6" ry="1.6" fill="#74300f" opacity="0.95"/><ellipse cx="425" cy="412" rx="1.6" ry="1.6" fill="#74300f" opacity="0.95"/><ellipse cx="395.8" cy="421.6" rx="1.5" ry="2.2" fill="#74300f" opacity="0.95" transform="rotate(-20 395.8 421.6)"/><ellipse cx="400.4" cy="426.1" rx="2.0" ry="1.5" fill="#74300f" opacity="0.95"/><ellipse cx="395.8" cy="431.3" rx="1.8" ry="1.8" fill="#74300f" opacity="0.95"/><ellipse cx="394.6" cy="434.8" rx="1.8" ry="1.6" fill="#8a2c14" opacity="0.95"/><ellipse cx="383.5" cy="428.7" rx="2.4" ry="1.8" fill="#a8694a" opacity="0.88"/><ellipse cx="417.9" cy="435.9" rx="3.4" ry="2.6" fill="#b5622f" opacity="0.95" transform="rotate(25 417.9 435.9)"/><ellipse cx="419.5" cy="437" rx="2" ry="1.5" fill="#74300f" opacity="0.95" transform="rotate(25 419.5 437)"/><ellipse cx="425" cy="431.3" rx="1.8" ry="1.5" fill="#74300f" opacity="0.95"/><ellipse cx="430" cy="433" rx="1.8" ry="1.5" fill="#74300f" opacity="0.95"/><ellipse cx="403.6" cy="445.6" rx="2.4" ry="1.4" fill="#74300f" opacity="0.95" transform="rotate(10 403.6 445.6)"/><ellipse cx="395.8" cy="446.2" rx="1.8" ry="1.5" fill="#a8694a" opacity="0.88"/><ellipse cx="413.3" cy="448.2" rx="2.0" ry="1.5" fill="#74300f" opacity="0.95" transform="rotate(30 413.3 448.2)"/><ellipse cx="417.9" cy="455.3" rx="3.5" ry="2.8" fill="#c6a893" opacity="0.88"/><ellipse cx="413.3" cy="460.5" rx="1.8" ry="1.8" fill="#74300f" opacity="0.95"/><ellipse cx="381" cy="456" rx="1.8" ry="1.5" fill="#a8694a" opacity="0.88"/><ellipse cx="384.8" cy="458.2" rx="1.8" ry="1.5" fill="#a8694a" opacity="0.88"/><ellipse cx="431.5" cy="465.7" rx="1.8" ry="2.0" fill="#74300f" opacity="0.95"/><ellipse cx="378.4" cy="469.5" rx="2.4" ry="1.6" fill="#b5622f" opacity="0.95"/><ellipse cx="389" cy="407" rx="1.5" ry="1.5" fill="#a8694a" opacity="0.88"/><ellipse cx="409" cy="405" rx="1.5" ry="1.5" fill="#a8694a" opacity="0.88"/><ellipse cx="377" cy="413" rx="1.5" ry="1.2" fill="#c6a893" opacity="0.88"/><ellipse cx="408" cy="430" rx="1.5" ry="1.5" fill="#a8694a" opacity="0.88"/><ellipse cx="388" cy="440" rx="1.5" ry="1.5" fill="#a8694a" opacity="0.88"/><ellipse cx="405" cy="455" rx="1.5" ry="1.5" fill="#a8694a" opacity="0.88"/><ellipse cx="398" cy="463" rx="1.8" ry="1.4" fill="#a8694a" opacity="0.88"/><ellipse cx="391" cy="452" rx="1.5" ry="1.3" fill="#c6a893" opacity="0.88"/><ellipse cx="423" cy="444" rx="1.6" ry="1.6" fill="#a8694a" opacity="0.88"/><ellipse cx="428" cy="450" rx="1.5" ry="1.5" fill="#74300f" opacity="0.95"/><ellipse cx="409" cy="440" rx="1.4" ry="1.4" fill="#a8694a" opacity="0.88"/><ellipse cx="420" cy="425" rx="1.4" ry="1.4" fill="#a8694a" opacity="0.88"/><ellipse cx="429" cy="420" rx="1.5" ry="1.5" fill="#a8694a" opacity="0.88"/><ellipse cx="449.4" cy="400.9" rx="1.8" ry="2.2" fill="#a8694a" opacity="0.88"/><ellipse cx="468.5" cy="401.5" rx="4" ry="2.8" fill="#c6a893" opacity="0.88"/><ellipse cx="437" cy="412.5" rx="1.6" ry="2.2" fill="#74300f" opacity="0.95"/><ellipse cx="454.6" cy="410" rx="1.6" ry="1.6" fill="#74300f" opacity="0.95"/><ellipse cx="455.8" cy="413.8" rx="2.2" ry="1.6" fill="#b5622f" opacity="0.95"/><ellipse cx="477.9" cy="412.5" rx="2.8" ry="1.4" fill="#4a1b07" opacity="0.95" transform="rotate(25 477.9 412.5)"/><ellipse cx="472.7" cy="415.8" rx="1.6" ry="1.4" fill="#74300f" opacity="0.95"/><ellipse cx="437.7" cy="421.6" rx="1.8" ry="2.0" fill="#74300f" opacity="0.95"/><ellipse cx="441" cy="424.8" rx="1.8" ry="1.8" fill="#b5622f" opacity="0.95"/><ellipse cx="444.8" cy="428" rx="1.8" ry="1.6" fill="#74300f" opacity="0.95"/><ellipse cx="465.6" cy="427.4" rx="2.0" ry="2.0" fill="#74300f" opacity="0.95"/><ellipse cx="466.2" cy="431.3" rx="2.2" ry="1.8" fill="#8a2c14" opacity="0.95"/><ellipse cx="477.2" cy="425.5" rx="1.8" ry="1.8" fill="#a8694a" opacity="0.88"/><ellipse cx="481.1" cy="433.3" rx="1.8" ry="2.0" fill="#74300f" opacity="0.95"/><ellipse cx="484.3" cy="434.6" rx="1.5" ry="1.5" fill="#b5622f" opacity="0.95"/><ellipse cx="444.8" cy="441.7" rx="2.0" ry="1.8" fill="#74300f" opacity="0.95"/><ellipse cx="454.6" cy="442.3" rx="1.5" ry="2.6" fill="#74300f" opacity="0.95"/><ellipse cx="450.7" cy="446.9" rx="1.8" ry="1.5" fill="#b5622f" opacity="0.95"/><ellipse cx="474" cy="449.5" rx="3.0" ry="2.4" fill="#74300f" opacity="0.95"/><ellipse cx="472.7" cy="455.3" rx="2.2" ry="2.2" fill="#8a2c14" opacity="0.95"/><ellipse cx="477.9" cy="459.2" rx="2.6" ry="2.6" fill="#74300f" opacity="0.95"/><ellipse cx="475.5" cy="453.5" rx="3.4" ry="5.5" fill="#b5622f" opacity="0.95" transform="rotate(-15 475.5 453.5)"/><ellipse cx="461.7" cy="452" rx="1.6" ry="1.0" fill="#4a1b07" opacity="0.95"/><ellipse cx="447.4" cy="452" rx="1.8" ry="2.2" fill="#74300f" opacity="0.95"/><ellipse cx="437" cy="452.7" rx="1.5" ry="1.5" fill="#74300f" opacity="0.95"/><ellipse cx="441" cy="460.5" rx="2.2" ry="1.5" fill="#4a1b07" opacity="0.95" transform="rotate(20 441 460.5)"/><ellipse cx="444.8" cy="457.2" rx="1.5" ry="1.5" fill="#74300f" opacity="0.95"/><ellipse cx="431.2" cy="465.7" rx="1.5" ry="1.8" fill="#74300f" opacity="0.95"/><ellipse cx="430.6" cy="434.6" rx="1.5" ry="1.5" fill="#b5622f" opacity="0.95"/><ellipse cx="435" cy="438.5" rx="1.5" ry="1.5" fill="#74300f" opacity="0.95"/><ellipse cx="466.9" cy="466.3" rx="1.4" ry="1.0" fill="#8a2c14" opacity="0.95"/><ellipse cx="461" cy="468.9" rx="1.5" ry="1.0" fill="#a8694a" opacity="0.88"/><ellipse cx="433" cy="403" rx="1.5" ry="2" fill="#a8694a" opacity="0.88"/><ellipse cx="440" cy="407" rx="1.4" ry="1.4" fill="#a8694a" opacity="0.88"/><ellipse cx="461" cy="405" rx="1.4" ry="1.4" fill="#a8694a" opacity="0.88"/><ellipse cx="446" cy="435" rx="1.4" ry="1.4" fill="#a8694a" opacity="0.88"/><ellipse cx="452" cy="430" rx="1.4" ry="1.4" fill="#b5622f" opacity="0.95"/><ellipse cx="458" cy="447" rx="1.4" ry="1.4" fill="#a8694a" opacity="0.88"/><ellipse cx="470" cy="440" rx="1.4" ry="1.4" fill="#a8694a" opacity="0.88"/><ellipse cx="464" cy="459" rx="1.4" ry="1.4" fill="#a8694a" opacity="0.88"/><ellipse cx="452" cy="463" rx="1.4" ry="1.4" fill="#a8694a" opacity="0.88"/><ellipse cx="438" cy="445" rx="1.4" ry="1.4" fill="#a8694a" opacity="0.88"/><ellipse cx="484" cy="420" rx="1.3" ry="1.3" fill="#a8694a" opacity="0.88"/><ellipse cx="470" cy="421" rx="1.3" ry="1.3" fill="#c6a893" opacity="0.88"/><ellipse cx="341" cy="475.8" rx="4.6" ry="3.2" fill="#a8694a" opacity="0.88" transform="rotate(10 341 475.8)"/><ellipse cx="343" cy="477" rx="2.4" ry="1.6" fill="#74300f" opacity="0.95"/><ellipse cx="327" cy="475.9" rx="2.6" ry="1.5" fill="#a8694a" opacity="0.88" transform="rotate(35 327 475.9)"/><ellipse cx="304.5" cy="481" rx="1.5" ry="1.8" fill="#a8694a" opacity="0.88"/><ellipse cx="345.5" cy="492" rx="4.2" ry="3.2" fill="#a8694a" opacity="0.88" transform="rotate(25 345.5 492)"/><ellipse cx="352.8" cy="494.2" rx="4.6" ry="4.2" fill="#74300f" opacity="0.95"/><ellipse cx="363.2" cy="500.2" rx="4.6" ry="4.2" fill="#8a2c14" opacity="0.95" transform="rotate(10 363.2 500.2)"/><ellipse cx="358.2" cy="497.5" rx="1.8" ry="2.2" fill="#c6a893" opacity="0.88"/><ellipse cx="345" cy="486" rx="5" ry="3.5" fill="#c6a893" opacity="0.88" transform="rotate(35 345 486)"/><ellipse cx="339.5" cy="483.5" rx="3" ry="2.5" fill="#c6a893" opacity="0.88"/><ellipse cx="308.8" cy="490" rx="1.8" ry="1.5" fill="#c6a893" opacity="0.88"/><ellipse cx="343.2" cy="507" rx="2.0" ry="2.6" fill="#74300f" opacity="0.95"/><ellipse cx="347.7" cy="506.3" rx="1.6" ry="1.6" fill="#74300f" opacity="0.95"/><ellipse cx="345.7" cy="515.4" rx="2.0" ry="2.2" fill="#a8694a" opacity="0.88"/><ellipse cx="306.2" cy="512.8" rx="2.0" ry="1.4" fill="#a8694a" opacity="0.88"/><ellipse cx="305.6" cy="518" rx="1.6" ry="2.0" fill="#74300f" opacity="0.95"/><ellipse cx="308.8" cy="516" rx="1.8" ry="1.5" fill="#74300f" opacity="0.95"/><ellipse cx="314.7" cy="516.7" rx="1.8" ry="1.5" fill="#a8694a" opacity="0.88"/><ellipse cx="308.8" cy="521.2" rx="1.8" ry="1.5" fill="#74300f" opacity="0.95"/><ellipse cx="322.4" cy="523.2" rx="1.6" ry="1.4" fill="#4a1b07" opacity="0.95"/><ellipse cx="324.4" cy="520.6" rx="2.0" ry="1.6" fill="#a8694a" opacity="0.88"/><ellipse cx="329.6" cy="523.8" rx="1.8" ry="1.6" fill="#74300f" opacity="0.95"/><ellipse cx="326.3" cy="527" rx="1.8" ry="1.5" fill="#74300f" opacity="0.95"/><ellipse cx="338" cy="530.3" rx="2.2" ry="1.6" fill="#74300f" opacity="0.95"/><ellipse cx="341.9" cy="532.9" rx="2.0" ry="1.6" fill="#74300f" opacity="0.95"/><ellipse cx="344.5" cy="530.3" rx="1.8" ry="1.5" fill="#74300f" opacity="0.95"/><ellipse cx="349.6" cy="532.2" rx="2.0" ry="1.6" fill="#74300f" opacity="0.95"/><ellipse cx="340.6" cy="536.8" rx="2.0" ry="1.6" fill="#74300f" opacity="0.95"/><ellipse cx="343.2" cy="539.4" rx="1.8" ry="1.8" fill="#4a1b07" opacity="0.95"/><ellipse cx="355.5" cy="532.9" rx="1.6" ry="1.6" fill="#a8694a" opacity="0.88"/><ellipse cx="359.3" cy="540" rx="1.6" ry="2.4" fill="#74300f" opacity="0.95"/><ellipse cx="354.8" cy="542" rx="1.5" ry="1.5" fill="#a8694a" opacity="0.88"/><ellipse cx="366.5" cy="509.6" rx="2.4" ry="2.0" fill="#c6a893" opacity="0.88"/><ellipse cx="333" cy="527" rx="1.5" ry="1.3" fill="#a8694a" opacity="0.88"/><ellipse cx="335.5" cy="533" rx="1.5" ry="1.3" fill="#a8694a" opacity="0.88"/><ellipse cx="348" cy="538" rx="1.5" ry="1.3" fill="#a8694a" opacity="0.88"/><ellipse cx="352" cy="527" rx="1.5" ry="1.3" fill="#c6a893" opacity="0.88"/><ellipse cx="332" cy="479" rx="2" ry="1.6" fill="#a8694a" opacity="0.88"/><ellipse cx="372.5" cy="513" rx="6.5" ry="8.5" fill="#a8694a" opacity="0.88" transform="rotate(-25 372.5 513)"/><ellipse cx="376" cy="517" rx="5" ry="6" fill="#74300f" opacity="0.95" transform="rotate(-20 376 517)"/><ellipse cx="371" cy="508.5" rx="4" ry="2.5" fill="#b5622f" opacity="0.95" transform="rotate(10 371 508.5)"/><ellipse cx="379.5" cy="512" rx="3" ry="4.5" fill="#74300f" opacity="0.95"/><ellipse cx="368.8" cy="516" rx="2" ry="4" fill="#74300f" opacity="0.95"/><ellipse cx="384.5" cy="522.5" rx="2.6" ry="3.8" fill="#c6a893" opacity="0.88"/><ellipse cx="402.6" cy="498.5" rx="4.2" ry="6.0" fill="#c6a893" opacity="0.88" transform="rotate(-15 402.6 498.5)"/><ellipse cx="403" cy="497" rx="2.4" ry="3.4" fill="#a8694a" opacity="0.88" transform="rotate(-15 403 497)"/><ellipse cx="401.3" cy="509" rx="4.4" ry="2.6" fill="#8a2c14" opacity="0.95"/><ellipse cx="407.8" cy="508.2" rx="2.4" ry="3.2" fill="#b5622f" opacity="0.95" transform="rotate(20 407.8 508.2)"/><ellipse cx="399" cy="514.4" rx="3.2" ry="2.2" fill="#c6a893" opacity="0.88"/><ellipse cx="399.7" cy="520.6" rx="1.5" ry="2.0" fill="#a8694a" opacity="0.88"/><ellipse cx="399" cy="526.4" rx="1.4" ry="1.8" fill="#a8694a" opacity="0.88"/><ellipse cx="412.7" cy="504.4" rx="1.8" ry="2.0" fill="#a8694a" opacity="0.88"/><ellipse cx="413.3" cy="494.7" rx="1.6" ry="3.6" fill="#a8694a" opacity="0.88" transform="rotate(-10 413.3 494.7)"/><ellipse cx="420.5" cy="497.9" rx="2.2" ry="2.8" fill="#c6a893" opacity="0.88"/><ellipse cx="412" cy="484.3" rx="1.6" ry="2.4" fill="#a8694a" opacity="0.88"/><ellipse cx="406.9" cy="487.5" rx="1.8" ry="1.8" fill="#c6a893" opacity="0.88"/><ellipse cx="425.6" cy="491.4" rx="1.5" ry="2.2" fill="#a8694a" opacity="0.88"/><ellipse cx="426.3" cy="499.2" rx="1.5" ry="2.0" fill="#a8694a" opacity="0.88"/><ellipse cx="370.6" cy="485.6" rx="1.8" ry="1.6" fill="#74300f" opacity="0.95"/><ellipse cx="375.8" cy="485.6" rx="2.6" ry="2.4" fill="#74300f" opacity="0.95"/><ellipse cx="382.2" cy="483.7" rx="2.4" ry="2.0" fill="#a8694a" opacity="0.88"/><ellipse cx="370" cy="479.8" rx="1.8" ry="2.0" fill="#a8694a" opacity="0.88"/><ellipse cx="375.8" cy="479.8" rx="1.8" ry="2.0" fill="#a8694a" opacity="0.88"/><ellipse cx="379.7" cy="474" rx="2.0" ry="1.6" fill="#a8694a" opacity="0.88"/><ellipse cx="386.8" cy="477.8" rx="1.8" ry="2.0" fill="#c6a893" opacity="0.88"/><ellipse cx="390.7" cy="485" rx="1.8" ry="1.8" fill="#a8694a" opacity="0.88"/><ellipse cx="395.2" cy="477.8" rx="1.8" ry="2.2" fill="#a8694a" opacity="0.88"/><ellipse cx="381" cy="492.7" rx="2.0" ry="2.4" fill="#a8694a" opacity="0.88"/><ellipse cx="387.4" cy="492" rx="2.4" ry="2.0" fill="#a8694a" opacity="0.88"/><ellipse cx="388.7" cy="496" rx="2.0" ry="1.8" fill="#c6a893" opacity="0.88"/><ellipse cx="393.9" cy="495.3" rx="2.4" ry="2.0" fill="#c6a893" opacity="0.88"/><ellipse cx="392.3" cy="488.5" rx="1.8" ry="1.5" fill="#74300f" opacity="0.95"/><ellipse cx="428.2" cy="513.5" rx="1.5" ry="1.8" fill="#a8694a" opacity="0.88"/><ellipse cx="425" cy="518" rx="1.5" ry="1.8" fill="#a8694a" opacity="0.88"/><ellipse cx="419.8" cy="523.8" rx="1.5" ry="1.5" fill="#a8694a" opacity="0.88"/><ellipse cx="423" cy="527.7" rx="1.5" ry="2.0" fill="#74300f" opacity="0.95"/><ellipse cx="431.5" cy="521.9" rx="1.4" ry="2.6" fill="#74300f" opacity="0.95"/><ellipse cx="428.9" cy="531.6" rx="1.8" ry="1.5" fill="#a8694a" opacity="0.88"/><ellipse cx="425" cy="534.2" rx="2.0" ry="1.5" fill="#a8694a" opacity="0.88"/><ellipse cx="413.3" cy="526.4" rx="1.6" ry="1.8" fill="#a8694a" opacity="0.88"/><ellipse cx="408.2" cy="531.6" rx="1.8" ry="1.5" fill="#a8694a" opacity="0.88"/><ellipse cx="414" cy="531.6" rx="1.6" ry="1.5" fill="#a8694a" opacity="0.88"/><ellipse cx="410" cy="535.5" rx="1.8" ry="1.4" fill="#a8694a" opacity="0.88"/><ellipse cx="425" cy="474" rx="1.6" ry="1.6" fill="#a8694a" opacity="0.88"/><ellipse cx="430.8" cy="479" rx="1.6" ry="1.6" fill="#a8694a" opacity="0.88"/><ellipse cx="432.8" cy="482.4" rx="1.5" ry="1.5" fill="#74300f" opacity="0.95"/><ellipse cx="418" cy="478" rx="1.5" ry="1.5" fill="#a8694a" opacity="0.88"/><ellipse cx="403" cy="473" rx="1.5" ry="1.5" fill="#a8694a" opacity="0.88"/><ellipse cx="418" cy="510" rx="1.5" ry="1.5" fill="#c6a893" opacity="0.88"/><ellipse cx="406" cy="520" rx="1.5" ry="1.5" fill="#c6a893" opacity="0.88"/><ellipse cx="419" cy="488" rx="1.4" ry="1.4" fill="#a8694a" opacity="0.88"/><ellipse cx="458.4" cy="475.9" rx="1.8" ry="1.5" fill="#4a1b07" opacity="0.95"/><ellipse cx="454.6" cy="481.7" rx="2.6" ry="2.6" fill="#74300f" opacity="0.95"/><ellipse cx="435.8" cy="481.7" rx="4" ry="1.5" fill="#b5622f" opacity="0.95" transform="rotate(5 435.8 481.7)"/><ellipse cx="437.7" cy="488.8" rx="1.5" ry="1.4" fill="#4a1b07" opacity="0.95"/><ellipse cx="470.7" cy="481.7" rx="1.4" ry="1.4" fill="#74300f" opacity="0.95"/><ellipse cx="472" cy="487.5" rx="1.4" ry="1.4" fill="#74300f" opacity="0.95"/><ellipse cx="466.9" cy="490.8" rx="1.4" ry="1.4" fill="#a8694a" opacity="0.88"/><ellipse cx="468.8" cy="493.4" rx="1.4" ry="1.4" fill="#74300f" opacity="0.95"/><ellipse cx="449.4" cy="493.4" rx="1.8" ry="1.6" fill="#74300f" opacity="0.95"/><ellipse cx="452.6" cy="497.3" rx="1.6" ry="1.6" fill="#74300f" opacity="0.95"/><ellipse cx="450" cy="499.8" rx="1.6" ry="1.6" fill="#b5622f" opacity="0.95"/><ellipse cx="447.4" cy="502.4" rx="1.6" ry="1.6" fill="#74300f" opacity="0.95"/><ellipse cx="448.1" cy="505.7" rx="1.6" ry="1.6" fill="#a8694a" opacity="0.88"/><ellipse cx="441" cy="510.2" rx="2.0" ry="2.0" fill="#8a2c14" opacity="0.95"/><ellipse cx="443.5" cy="511" rx="1.5" ry="1.5" fill="#b5622f" opacity="0.95"/><ellipse cx="430.6" cy="510.9" rx="1.5" ry="1.5" fill="#a8694a" opacity="0.88"/><ellipse cx="433.8" cy="523.2" rx="1.8" ry="3.8" fill="#a8694a" opacity="0.88" transform="rotate(10 433.8 523.2)"/><ellipse cx="444.8" cy="521.9" rx="2.0" ry="2.4" fill="#c6a893" opacity="0.88"/><ellipse cx="435.1" cy="529.6" rx="1.6" ry="1.6" fill="#4a1b07" opacity="0.95"/><ellipse cx="439" cy="532.9" rx="1.8" ry="1.5" fill="#74300f" opacity="0.95"/><ellipse cx="437.7" cy="536" rx="2.0" ry="1.6" fill="#74300f" opacity="0.95"/><ellipse cx="430.6" cy="533" rx="1.6" ry="1.6" fill="#a8694a" opacity="0.88"/><ellipse cx="454.6" cy="515.4" rx="1.8" ry="1.4" fill="#c6a893" opacity="0.88"/><ellipse cx="459" cy="502.4" rx="1.5" ry="1.3" fill="#a8694a" opacity="0.88"/><ellipse cx="452" cy="487" rx="1.6" ry="1.6" fill="#b5622f" opacity="0.95"/><ellipse cx="456" cy="479" rx="1.5" ry="1.5" fill="#b5622f" opacity="0.95"/><ellipse cx="440" cy="541" rx="1.6" ry="1.6" fill="#74300f" opacity="0.95"/><ellipse cx="434" cy="543" rx="1.6" ry="1.4" fill="#a8694a" opacity="0.88"/><ellipse cx="415" cy="399.5" rx="1.6" ry="1.4" fill="#74300f" opacity="0.95"/><ellipse cx="427" cy="400" rx="1.6" ry="1.4" fill="#74300f" opacity="0.95"/><ellipse cx="408" cy="400" rx="1.8" ry="1.4" fill="#a8694a" opacity="0.88"/><ellipse cx="385" cy="399.5" rx="1.8" ry="1.2" fill="#a8694a" opacity="0.88"/><ellipse cx="447.5" cy="421.5" rx="3.6" ry="1.3" fill="#4a1b07" opacity="0.95" transform="rotate(50 447.5 421.5)"/><ellipse cx="452" cy="427" rx="4.0" ry="1.5" fill="#4a1b07" opacity="0.95" transform="rotate(50 452 427)"/><ellipse cx="457.5" cy="433.5" rx="3.6" ry="1.4" fill="#4a1b07" opacity="0.95" transform="rotate(52 457.5 433.5)"/><ellipse cx="460.5" cy="437.5" rx="2.0" ry="1.2" fill="#74300f" opacity="0.95" transform="rotate(50 460.5 437.5)"/><ellipse cx="449.5" cy="424.5" rx="4.5" ry="1.9" fill="#a8694a" opacity="0.88" transform="rotate(50 449.5 424.5)"/><ellipse cx="453.2" cy="402.7" rx="2.0" ry="1.2" fill="#c6a893" opacity="0.88" transform="rotate(105 453.2 402.7)"/><ellipse cx="438.6" cy="463.2" rx="1.7" ry="1.2" fill="#74300f" opacity="0.95" transform="rotate(75 438.6 463.2)"/><ellipse cx="486.0" cy="427.9" rx="2.1" ry="1.3" fill="#4a1b07" opacity="0.95" transform="rotate(15 486.0 427.9)"/><ellipse cx="468.3" cy="434.9" rx="1.6" ry="1.4" fill="#4a1b07" opacity="0.95" transform="rotate(135 468.3 434.9)"/><ellipse cx="446.0" cy="404.3" rx="1.9" ry="1.4" fill="#4a1b07" opacity="0.95" transform="rotate(120 446.0 404.3)"/><ellipse cx="453.3" cy="399.0" rx="1.7" ry="1.7" fill="#74300f" opacity="0.95" transform="rotate(150 453.3 399.0)"/><ellipse cx="401.8" cy="423.0" rx="1.7" ry="1.1" fill="#74300f" opacity="0.95" transform="rotate(45 401.8 423.0)"/><ellipse cx="459.6" cy="419.3" rx="1.5" ry="1.0" fill="#a8694a" opacity="0.88"/><ellipse cx="406.3" cy="421.4" rx="1.7" ry="1.1" fill="#a8694a" opacity="0.88" transform="rotate(150 406.3 421.4)"/><ellipse cx="420.7" cy="446.9" rx="1.7" ry="1.3" fill="#4a1b07" opacity="0.95" transform="rotate(90 420.7 446.9)"/><ellipse cx="474.2" cy="438.9" rx="1.5" ry="1.6" fill="#b5622f" opacity="0.95" transform="rotate(30 474.2 438.9)"/><ellipse cx="409.8" cy="447.7" rx="1.7" ry="1.6" fill="#74300f" opacity="0.95" transform="rotate(135 409.8 447.7)"/><ellipse cx="410.6" cy="444.2" rx="1.5" ry="1.5" fill="#74300f" opacity="0.95" transform="rotate(120 410.6 444.2)"/><ellipse cx="412.1" cy="451.6" rx="1.6" ry="1.3" fill="#74300f" opacity="0.95" transform="rotate(30 412.1 451.6)"/><ellipse cx="410.2" cy="421.9" rx="1.7" ry="1.0" fill="#a8694a" opacity="0.88" transform="rotate(105 410.2 421.9)"/><ellipse cx="448.8" cy="410.7" rx="2.1" ry="1.6" fill="#a8694a" opacity="0.88" transform="rotate(30 448.8 410.7)"/><ellipse cx="418.0" cy="440.2" rx="1.9" ry="1.7" fill="#74300f" opacity="0.95" transform="rotate(105 418.0 440.2)"/><ellipse cx="438.4" cy="438.5" rx="1.3" ry="1.2" fill="#74300f" opacity="0.95" transform="rotate(60 438.4 438.5)"/><ellipse cx="436.0" cy="428.7" rx="1.4" ry="1.5" fill="#c6a893" opacity="0.88" transform="rotate(150 436.0 428.7)"/><ellipse cx="434.6" cy="423.7" rx="1.4" ry="1.1" fill="#74300f" opacity="0.95" transform="rotate(15 434.6 423.7)"/><ellipse cx="448.3" cy="428.1" rx="1.5" ry="1.5" fill="#a8694a" opacity="0.88" transform="rotate(15 448.3 428.1)"/><ellipse cx="448.2" cy="461.1" rx="2.0" ry="1.7" fill="#74300f" opacity="0.95" transform="rotate(120 448.2 461.1)"/><ellipse cx="416.3" cy="407.8" rx="1.5" ry="1.6" fill="#b5622f" opacity="0.95"/><ellipse cx="431.9" cy="429.1" rx="1.8" ry="1.1" fill="#4a1b07" opacity="0.95" transform="rotate(105 431.9 429.1)"/><ellipse cx="465.4" cy="437.8" rx="1.6" ry="1.1" fill="#74300f" opacity="0.95" transform="rotate(165 465.4 437.8)"/><ellipse cx="410.3" cy="410.1" rx="1.9" ry="1.0" fill="#74300f" opacity="0.95"/><ellipse cx="486.3" cy="446.8" rx="1.3" ry="1.7" fill="#4a1b07" opacity="0.95" transform="rotate(120 486.3 446.8)"/><ellipse cx="431.0" cy="443.6" rx="2.0" ry="1.5" fill="#74300f" opacity="0.95" transform="rotate(135 431.0 443.6)"/><ellipse cx="453.1" cy="450.8" rx="1.8" ry="1.0" fill="#a8694a" opacity="0.88" transform="rotate(105 453.1 450.8)"/><ellipse cx="443.6" cy="432.4" rx="1.3" ry="1.2" fill="#4a1b07" opacity="0.95" transform="rotate(150 443.6 432.4)"/><ellipse cx="450.7" cy="440.0" rx="1.3" ry="1.1" fill="#74300f" opacity="0.95" transform="rotate(75 450.7 440.0)"/><ellipse cx="464.0" cy="402.9" rx="1.8" ry="1.1" fill="#74300f" opacity="0.95" transform="rotate(105 464.0 402.9)"/><ellipse cx="452.0" cy="419.5" rx="2.0" ry="1.0" fill="#74300f" opacity="0.95" transform="rotate(75 452.0 419.5)"/><ellipse cx="414.1" cy="424.3" rx="1.5" ry="1.2" fill="#4a1b07" opacity="0.95" transform="rotate(30 414.1 424.3)"/><ellipse cx="467.6" cy="406.4" rx="1.2" ry="1.0" fill="#c6a893" opacity="0.88" transform="rotate(165 467.6 406.4)"/><ellipse cx="482.1" cy="451.4" rx="1.6" ry="1.7" fill="#74300f" opacity="0.95" transform="rotate(60 482.1 451.4)"/><ellipse cx="438.4" cy="448.7" rx="1.5" ry="1.3" fill="#74300f" opacity="0.95" transform="rotate(150 438.4 448.7)"/><ellipse cx="401.6" cy="433.0" rx="1.4" ry="1.7" fill="#b5622f" opacity="0.95" transform="rotate(150 401.6 433.0)"/><ellipse cx="471.9" cy="458.5" rx="1.3" ry="1.4" fill="#74300f" opacity="0.95" transform="rotate(90 471.9 458.5)"/><ellipse cx="484.0" cy="415.3" rx="1.9" ry="1.4" fill="#4a1b07" opacity="0.95" transform="rotate(165 484.0 415.3)"/><ellipse cx="463.8" cy="448.4" rx="1.6" ry="1.2" fill="#b5622f" opacity="0.95" transform="rotate(105 463.8 448.4)"/><ellipse cx="402.3" cy="429.6" rx="1.7" ry="1.4" fill="#74300f" opacity="0.95" transform="rotate(60 402.3 429.6)"/><ellipse cx="407.0" cy="444.8" rx="1.8" ry="1.2" fill="#a8694a" opacity="0.88" transform="rotate(90 407.0 444.8)"/><ellipse cx="443.9" cy="453.0" rx="1.6" ry="1.1" fill="#a8694a" opacity="0.88" transform="rotate(135 443.9 453.0)"/><ellipse cx="470.0" cy="411.9" rx="1.4" ry="1.2" fill="#74300f" opacity="0.95" transform="rotate(150 470.0 411.9)"/><ellipse cx="460.2" cy="410.2" rx="1.9" ry="1.1" fill="#74300f" opacity="0.95" transform="rotate(30 460.2 410.2)"/><ellipse cx="429.2" cy="425.3" rx="1.6" ry="1.2" fill="#4a1b07" opacity="0.95" transform="rotate(60 429.2 425.3)"/><ellipse cx="439.8" cy="401.4" rx="1.5" ry="1.4" fill="#4a1b07" opacity="0.95" transform="rotate(60 439.8 401.4)"/><ellipse cx="423.1" cy="459.5" rx="2.1" ry="1.4" fill="#74300f" opacity="0.95" transform="rotate(105 423.1 459.5)"/><ellipse cx="433.5" cy="408.7" rx="1.6" ry="1.4" fill="#74300f" opacity="0.95" transform="rotate(30 433.5 408.7)"/><ellipse cx="432.5" cy="459.3" rx="2.0" ry="1.2" fill="#74300f" opacity="0.95" transform="rotate(165 432.5 459.3)"/><ellipse cx="444.6" cy="417.0" rx="1.5" ry="1.3" fill="#4a1b07" opacity="0.95" transform="rotate(135 444.6 417.0)"/><ellipse cx="392.3" cy="461.6" rx="1.3" ry="1.4" fill="#b5622f" opacity="0.95" transform="rotate(120 392.3 461.6)"/><ellipse cx="396.5" cy="416.3" rx="2.0" ry="1.4" fill="#4a1b07" opacity="0.95" transform="rotate(30 396.5 416.3)"/><ellipse cx="394.3" cy="406.0" rx="1.8" ry="1.1" fill="#74300f" opacity="0.95" transform="rotate(90 394.3 406.0)"/><ellipse cx="398.1" cy="436.6" rx="1.8" ry="1.5" fill="#4a1b07" opacity="0.95" transform="rotate(90 398.1 436.6)"/><ellipse cx="408.9" cy="453.6" rx="1.4" ry="1.5" fill="#74300f" opacity="0.95" transform="rotate(135 408.9 453.6)"/><ellipse cx="399.9" cy="407.7" rx="1.7" ry="1.6" fill="#4a1b07" opacity="0.95" transform="rotate(165 399.9 407.7)"/><ellipse cx="390.8" cy="416.1" rx="2.0" ry="1.2" fill="#b5622f" opacity="0.95" transform="rotate(135 390.8 416.1)"/><ellipse cx="390.3" cy="423.9" rx="1.7" ry="1.6" fill="#74300f" opacity="0.95" transform="rotate(105 390.3 423.9)"/><ellipse cx="390.2" cy="436.0" rx="2.1" ry="1.5" fill="#74300f" opacity="0.95" transform="rotate(30 390.2 436.0)"/><ellipse cx="401.1" cy="403.2" rx="1.9" ry="1.6" fill="#74300f" opacity="0.95" transform="rotate(60 401.1 403.2)"/><ellipse cx="383.9" cy="508.3" rx="1.6" ry="1.3" fill="#4a1b07" opacity="0.95" transform="rotate(15 383.9 508.3)"/><ellipse cx="391.3" cy="508.6" rx="1.3" ry="1.6" fill="#74300f" opacity="0.95" transform="rotate(45 391.3 508.6)"/><ellipse cx="385.0" cy="504.3" rx="1.3" ry="1.2" fill="#4a1b07" opacity="0.95" transform="rotate(45 385.0 504.3)"/><ellipse cx="430.9" cy="496.2" rx="1.5" ry="1.0" fill="#c6a893" opacity="0.88" transform="rotate(150 430.9 496.2)"/><ellipse cx="374.8" cy="501.6" rx="2.1" ry="1.2" fill="#b5622f" opacity="0.95" transform="rotate(150 374.8 501.6)"/><ellipse cx="424.1" cy="505.5" rx="1.2" ry="1.5" fill="#b5622f" opacity="0.95" transform="rotate(75 424.1 505.5)"/><ellipse cx="413.5" cy="511.6" rx="1.4" ry="1.6" fill="#4a1b07" opacity="0.95" transform="rotate(60 413.5 511.6)"/><ellipse cx="436.5" cy="493.4" rx="1.3" ry="1.7" fill="#74300f" opacity="0.95" transform="rotate(150 436.5 493.4)"/><ellipse cx="400.2" cy="483.2" rx="1.8" ry="1.7" fill="#4a1b07" opacity="0.95" transform="rotate(105 400.2 483.2)"/><ellipse cx="377.0" cy="490.3" rx="2.0" ry="1.2" fill="#a8694a" opacity="0.88" transform="rotate(165 377.0 490.3)"/><ellipse cx="421.0" cy="481.8" rx="1.7" ry="1.4" fill="#4a1b07" opacity="0.95" transform="rotate(105 421.0 481.8)"/><ellipse cx="393.6" cy="503.3" rx="1.9" ry="1.5" fill="#74300f" opacity="0.95" transform="rotate(105 393.6 503.3)"/><ellipse cx="416.3" cy="492.8" rx="1.6" ry="1.3" fill="#74300f" opacity="0.95" transform="rotate(45 416.3 492.8)"/><ellipse cx="414.6" cy="521.4" rx="1.2" ry="1.0" fill="#74300f" opacity="0.95" transform="rotate(45 414.6 521.4)"/><ellipse cx="377.0" cy="504.2" rx="1.6" ry="1.1" fill="#74300f" opacity="0.95" transform="rotate(105 377.0 504.2)"/><ellipse cx="403.9" cy="477.5" rx="1.6" ry="1.3" fill="#b5622f" opacity="0.95" transform="rotate(135 403.9 477.5)"/><ellipse cx="395.2" cy="512.2" rx="1.8" ry="1.1" fill="#c6a893" opacity="0.88" transform="rotate(30 395.2 512.2)"/><ellipse cx="424.8" cy="509.9" rx="1.3" ry="1.0" fill="#74300f" opacity="0.95" transform="rotate(165 424.8 509.9)"/><ellipse cx="371.3" cy="498.6" rx="1.2" ry="1.6" fill="#c6a893" opacity="0.88" transform="rotate(150 371.3 498.6)"/><ellipse cx="392.2" cy="519.9" rx="2.1" ry="1.2" fill="#4a1b07" opacity="0.95" transform="rotate(135 392.2 519.9)"/><ellipse cx="387.2" cy="511.5" rx="1.3" ry="1.7" fill="#b5622f" opacity="0.95" transform="rotate(90 387.2 511.5)"/><ellipse cx="375.7" cy="494.3" rx="1.7" ry="1.3" fill="#a8694a" opacity="0.88" transform="rotate(165 375.7 494.3)"/><ellipse cx="390.1" cy="524.5" rx="1.2" ry="1.6" fill="#74300f" opacity="0.95" transform="rotate(165 390.1 524.5)"/><ellipse cx="404.5" cy="490.4" rx="2.0" ry="1.0" fill="#4a1b07" opacity="0.95" transform="rotate(15 404.5 490.4)"/><ellipse cx="348.8" cy="522.0" rx="1.5" ry="1.1" fill="#74300f" opacity="0.95" transform="rotate(15 348.8 522.0)"/><ellipse cx="320.5" cy="528.0" rx="1.6" ry="1.1" fill="#a8694a" opacity="0.88" transform="rotate(150 320.5 528.0)"/><ellipse cx="348.2" cy="525.6" rx="2.0" ry="1.7" fill="#a8694a" opacity="0.88" transform="rotate(75 348.2 525.6)"/><ellipse cx="337.1" cy="520.8" rx="2.0" ry="1.5" fill="#74300f" opacity="0.95" transform="rotate(90 337.1 520.8)"/><ellipse cx="340.6" cy="524.0" rx="1.6" ry="1.1" fill="#4a1b07" opacity="0.95" transform="rotate(135 340.6 524.0)"/><ellipse cx="356.5" cy="528.4" rx="1.8" ry="1.2" fill="#a8694a" opacity="0.88" transform="rotate(165 356.5 528.4)"/><ellipse cx="351.9" cy="538.4" rx="1.5" ry="1.3" fill="#74300f" opacity="0.95" transform="rotate(75 351.9 538.4)"/><ellipse cx="323.4" cy="532.0" rx="1.5" ry="1.2" fill="#4a1b07" opacity="0.95" transform="rotate(135 323.4 532.0)"/><ellipse cx="444.9" cy="488.2" rx="2.1" ry="1.1" fill="#74300f" opacity="0.95" transform="rotate(30 444.9 488.2)"/><ellipse cx="442.2" cy="490.3" rx="1.4" ry="1.2" fill="#74300f" opacity="0.95"/><ellipse cx="451.2" cy="516.7" rx="1.5" ry="1.4" fill="#b5622f" opacity="0.95" transform="rotate(60 451.2 516.7)"/><ellipse cx="439.6" cy="502.3" rx="1.7" ry="1.6" fill="#74300f" opacity="0.95" transform="rotate(30 439.6 502.3)"/><ellipse cx="439.4" cy="496.7" rx="2.0" ry="1.3" fill="#b5622f" opacity="0.95" transform="rotate(45 439.4 496.7)"/><ellipse cx="434.5" cy="502.0" rx="1.2" ry="1.5" fill="#74300f" opacity="0.95"/><ellipse cx="444.0" cy="526.1" rx="1.9" ry="1.3" fill="#74300f" opacity="0.95" transform="rotate(105 444.0 526.1)"/><ellipse cx="440.2" cy="524.6" rx="1.5" ry="1.5" fill="#4a1b07" opacity="0.95" transform="rotate(45 440.2 524.6)"/><ellipse cx="379.1" cy="479.2" rx="1.5" ry="1.1" fill="#4a1b07" opacity="0.95"/><ellipse cx="384.5" cy="474.4" rx="2.1" ry="1.1" fill="#4a1b07" opacity="0.95" transform="rotate(75 384.5 474.4)"/><ellipse cx="373.6" cy="471.4" rx="2.0" ry="1.5" fill="#c6a893" opacity="0.88" transform="rotate(75 373.6 471.4)"/><ellipse cx="382.3" cy="477.2" rx="1.4" ry="1.0" fill="#74300f" opacity="0.95" transform="rotate(120 382.3 477.2)"/><ellipse cx="385.8" cy="482.9" rx="1.5" ry="1.2" fill="#b5622f" opacity="0.95" transform="rotate(165 385.8 482.9)"/><ellipse cx="373.0" cy="488.6" rx="1.4" ry="1.1" fill="#4a1b07" opacity="0.95" transform="rotate(90 373.0 488.6)"/><ellipse cx="368.0" cy="488.9" rx="1.4" ry="1.5" fill="#4a1b07" opacity="0.95" transform="rotate(120 368.0 488.9)"/><ellipse cx="391.8" cy="476.2" rx="1.4" ry="1.5" fill="#74300f" opacity="0.95" transform="rotate(90 391.8 476.2)"/><ellipse cx="315.2" cy="521.8" rx="1.6" ry="1.2" fill="#4a1b07" opacity="0.95"/><ellipse cx="319.1" cy="519.6" rx="1.7" ry="1.3" fill="#a8694a" opacity="0.88" transform="rotate(15 319.1 519.6)"/>
</g>
<circle cx="310.8" cy="499.6" r="1.0" fill="#111"/>
</g>
<line x1="354.2" y1="436.9" x2="349.0" y2="442.8" stroke="#0a0a0a" stroke-width="2.4"/>
<polygon points="346.1,446.0 347.4,440.0 348.9,442.9 351.9,444.0" fill="#0a0a0a"/>
<line x1="336.9" y1="502.0" x2="341.6" y2="498.3" stroke="#0a0a0a" stroke-width="2.4"/>
<polygon points="345.0,495.6 342.7,501.2 341.7,498.2 339.0,496.5" fill="#0a0a0a"/>
<line x1="350.6" y1="509.6" x2="355.3" y2="506.1" stroke="#0a0a0a" stroke-width="2.4"/>
<polygon points="358.8,503.6 356.3,509.2 355.4,506.1 352.8,504.3" fill="#0a0a0a"/>
<line x1="390.8" y1="501.0" x2="385.8" y2="505.7" stroke="#0a0a0a" stroke-width="2.4"/>
<polygon points="382.7,508.6 384.5,502.8 385.8,505.7 388.6,507.2" fill="#0a0a0a"/>
<line x1="441.60" y1="539.10" x2="485.60" y2="539.10" stroke="#111" stroke-width="1.3" stroke-linecap="butt"/>
<text x="448.7" y="534.3" font-size="8.7" fill="#111" style="stroke-width:.15px">100&#181;m</text>
<rect x="302.5" y="396.8" width="191.1" height="150.1" fill="none" stroke="#0a0a0a" stroke-width="1.25"/>
<rect x="1" y="1" width="518" height="577" fill="none" stroke="#8a8a8a" stroke-width="2"/>
</svg>
</body></html>
